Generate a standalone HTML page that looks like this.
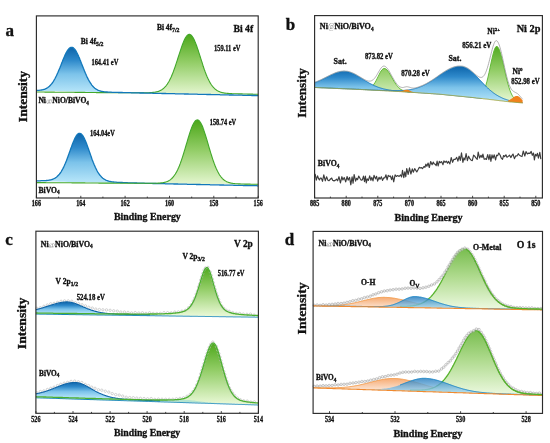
<!DOCTYPE html>
<html><head><meta charset="utf-8"><style>
html,body{margin:0;padding:0;background:#fff;width:550px;height:443px;overflow:hidden}
svg{display:block;will-change:transform}
text{font-family:"Liberation Serif", serif;font-weight:bold;fill:#111;stroke:#111;stroke-width:0.33px}
</style></head><body>
<svg width="550" height="443" viewBox="0 0 550 443">
<defs><linearGradient id="g1" gradientUnits="userSpaceOnUse" x1="0" y1="35" x2="0" y2="95"><stop offset="0" stop-color="#4ea81c"/><stop offset="0.45" stop-color="#92cd66"/><stop offset="1" stop-color="#e6f7d2"/></linearGradient>
<linearGradient id="g2" gradientUnits="userSpaceOnUse" x1="0" y1="47" x2="0" y2="92"><stop offset="0" stop-color="#0c63a9"/><stop offset="0.3" stop-color="#2f8acb"/><stop offset="0.6" stop-color="#7cc3ea"/><stop offset="1" stop-color="#b6e5f9"/></linearGradient>
<linearGradient id="g3" gradientUnits="userSpaceOnUse" x1="0" y1="121" x2="0" y2="185"><stop offset="0" stop-color="#4ea81c"/><stop offset="0.45" stop-color="#92cd66"/><stop offset="1" stop-color="#e6f7d2"/></linearGradient>
<linearGradient id="g4" gradientUnits="userSpaceOnUse" x1="0" y1="133" x2="0" y2="182"><stop offset="0" stop-color="#0c63a9"/><stop offset="0.3" stop-color="#2f8acb"/><stop offset="0.6" stop-color="#7cc3ea"/><stop offset="1" stop-color="#b6e5f9"/></linearGradient>
<linearGradient id="g5" gradientUnits="userSpaceOnUse" x1="0" y1="45" x2="0" y2="101"><stop offset="0" stop-color="#4ea81c"/><stop offset="0.45" stop-color="#92cd66"/><stop offset="1" stop-color="#e6f7d2"/></linearGradient>
<linearGradient id="g6" gradientUnits="userSpaceOnUse" x1="0" y1="68" x2="0" y2="100"><stop offset="0" stop-color="#0c63a9"/><stop offset="0.3" stop-color="#2f8acb"/><stop offset="0.6" stop-color="#7cc3ea"/><stop offset="1" stop-color="#b6e5f9"/></linearGradient>
<linearGradient id="g7" gradientUnits="userSpaceOnUse" x1="0" y1="66" x2="0" y2="102"><stop offset="0" stop-color="#0c63a9"/><stop offset="0.3" stop-color="#2f8acb"/><stop offset="0.6" stop-color="#7cc3ea"/><stop offset="1" stop-color="#b6e5f9"/></linearGradient>
<linearGradient id="g8" gradientUnits="userSpaceOnUse" x1="0" y1="267" x2="0" y2="315"><stop offset="0" stop-color="#4ea81c"/><stop offset="0.45" stop-color="#92cd66"/><stop offset="1" stop-color="#e6f7d2"/></linearGradient>
<linearGradient id="g9" gradientUnits="userSpaceOnUse" x1="0" y1="302" x2="0" y2="314"><stop offset="0" stop-color="#0c63a9"/><stop offset="0.3" stop-color="#2f8acb"/><stop offset="0.6" stop-color="#7cc3ea"/><stop offset="1" stop-color="#b6e5f9"/></linearGradient>
<linearGradient id="g10" gradientUnits="userSpaceOnUse" x1="0" y1="343" x2="0" y2="403"><stop offset="0" stop-color="#4ea81c"/><stop offset="0.45" stop-color="#92cd66"/><stop offset="1" stop-color="#e6f7d2"/></linearGradient>
<linearGradient id="g11" gradientUnits="userSpaceOnUse" x1="0" y1="382" x2="0" y2="398"><stop offset="0" stop-color="#0c63a9"/><stop offset="0.3" stop-color="#2f8acb"/><stop offset="0.6" stop-color="#7cc3ea"/><stop offset="1" stop-color="#b6e5f9"/></linearGradient>
<linearGradient id="g12" gradientUnits="userSpaceOnUse" x1="0" y1="297" x2="0" y2="307"><stop offset="0" stop-color="#f5a060"/><stop offset="1" stop-color="#fbdcc6"/></linearGradient>
<linearGradient id="g13" gradientUnits="userSpaceOnUse" x1="0" y1="249" x2="0" y2="309"><stop offset="0" stop-color="#6ab63c"/><stop offset="0.45" stop-color="#a5d680"/><stop offset="1" stop-color="#eaf8dc"/></linearGradient>
<linearGradient id="g14" gradientUnits="userSpaceOnUse" x1="0" y1="296" x2="0" y2="308"><stop offset="0" stop-color="#1570b8"/><stop offset="1" stop-color="#a0d4f0"/></linearGradient>
<linearGradient id="g15" gradientUnits="userSpaceOnUse" x1="0" y1="378" x2="0" y2="389"><stop offset="0" stop-color="#f5a060"/><stop offset="1" stop-color="#fbdcc6"/></linearGradient>
<linearGradient id="g16" gradientUnits="userSpaceOnUse" x1="0" y1="330" x2="0" y2="395"><stop offset="0" stop-color="#6ab63c"/><stop offset="0.45" stop-color="#a5d680"/><stop offset="1" stop-color="#eaf8dc"/></linearGradient>
<linearGradient id="g17" gradientUnits="userSpaceOnUse" x1="0" y1="377" x2="0" y2="392"><stop offset="0" stop-color="#1570b8"/><stop offset="1" stop-color="#a0d4f0"/></linearGradient></defs>
<path d="M46.4 92.1 L47.4 92.1 L48.4 92.1 L49.4 92.1 L50.4 92.1 L51.4 92.1 L52.4 92.1 L53.4 92.1 L54.4 92.1 L55.4 92.2 L56.4 92.2 L57.4 92.2 L58.4 92.2 L59.4 92.2 L60.4 92.2 L61.4 92.2 L62.4 92.2 L63.4 92.2 L64.4 92.2 L65.4 92.3 L66.4 92.3 L67.4 92.3 L68.4 92.3 L69.4 92.3 L70.4 92.3 L71.4 92.3 L72.4 92.3 L73.4 92.3 L74.4 92.3 L75.4 92.4 L76.4 92.4 L77.4 92.4 L78.4 92.4 L79.4 92.4 L80.4 92.4 L81.4 92.4 L82.4 92.4 L83.4 92.4 L84.4 92.4 L85.4 92.5 L86.4 92.5 L87.4 92.5 L88.4 92.5 L89.4 92.5 L90.4 92.5 L91.4 92.5 L92.3 92.5 L93.3 92.5 L94.3 92.5 L95.3 92.5 L96.3 92.6 L97.3 92.6 L98.3 92.6 L99.3 92.6 L100.3 92.6 L101.3 92.6 L102.3 92.6 L103.3 92.6 L104.3 92.6 L105.3 92.6 L106.3 92.6 L107.3 92.6 L108.3 92.7 L109.3 92.7 L110.3 92.7 L111.3 92.7 L112.3 92.7 L113.3 92.7 L114.3 92.7 L115.3 92.7 L116.3 92.7 L117.3 92.7 L118.3 92.7 L119.3 92.7 L120.3 92.7 L121.3 92.7 L122.3 92.8 L123.3 92.8 L124.3 92.8 L125.3 92.8 L126.3 92.8 L127.3 92.8 L128.3 92.8 L129.3 92.8 L130.3 92.8 L131.3 92.8 L132.3 92.8 L133.3 92.8 L134.3 92.8 L135.3 92.8 L136.3 92.8 L137.3 92.8 L138.3 92.8 L139.3 92.8 L140.3 92.8 L141.3 92.8 L142.3 92.8 L143.3 92.8 L144.3 92.8 L145.3 92.8 L146.3 92.7 L147.3 92.7 L148.3 92.7 L149.3 92.7 L150.3 92.6 L151.3 92.5 L152.3 92.5 L153.3 92.4 L154.3 92.2 L155.3 92.1 L156.3 91.9 L157.3 91.7 L158.3 91.4 L159.3 91 L160.3 90.6 L161.3 90 L162.3 89.4 L163.3 88.6 L164.3 87.7 L165.3 86.7 L166.3 85.5 L167.3 84.1 L168.3 82.5 L169.3 80.8 L170.3 78.8 L171.3 76.7 L172.3 74.3 L173.3 71.8 L174.3 69 L175.3 66.2 L176.3 63.2 L177.3 60.1 L178.3 57 L179.3 53.9 L180.3 50.8 L181.3 47.8 L182.3 45 L183.3 42.4 L184.3 40.1 L185.3 38.1 L186.3 36.5 L187.3 35.3 L188.3 34.6 L189.3 34.4 L190.3 34.6 L191.3 35.3 L192.3 36.5 L193.3 38.1 L194.3 40 L195.3 42.3 L196.3 44.9 L197.3 47.8 L198.3 50.7 L199.3 53.8 L200.3 57 L201.3 60.1 L202.3 63.2 L203.2 66.3 L204.2 69.2 L205.2 71.9 L206.2 74.5 L207.2 76.9 L208.2 79.1 L209.2 81.1 L210.2 82.9 L211.2 84.5 L212.2 85.9 L213.2 87.1 L214.2 88.2 L215.2 89.1 L216.2 89.9 L217.2 90.6 L218.2 91.1 L219.2 91.6 L220.2 92 L221.2 92.3 L222.2 92.6 L223.2 92.8 L224.2 93 L225.2 93.1 L226.2 93.3 L227.2 93.4 L228.2 93.4 L229.2 93.5 L230.2 93.6 L231.2 93.6 L232.2 93.7 L233.2 93.7 L234.2 93.7 L235.2 93.8 L236.2 93.8 L237.2 93.8 L238.2 93.9 L239.2 93.9 L240.2 93.9 L241.2 93.9 L242.2 93.9 L243.2 94 L244.2 94 L245.2 94 L246.2 94 L247.2 94 L248.2 94.1 L249.2 94.1 L250.2 94.1 L251.2 94.1 L252.2 94.1 L253.2 94.2 L254.2 94.2 L255.2 94.2 L256.2 94.2 L257.2 94.2 L258.2 94.2 L258.2 94.4 L254.2 94.4 L250.2 94.3 L246.2 94.3 L242.2 94.2 L238.2 94.2 L234.2 94.1 L230.2 94.1 L226.2 94.1 L222.2 94 L218.2 94 L214.2 93.9 L210.2 93.9 L206.2 93.8 L202.3 93.8 L198.3 93.8 L194.3 93.7 L190.3 93.7 L186.3 93.6 L182.3 93.6 L178.3 93.5 L174.3 93.5 L170.3 93.4 L166.3 93.4 L162.3 93.4 L158.3 93.3 L154.3 93.3 L150.3 93.2 L146.3 93.2 L142.3 93.1 L138.3 93.1 L134.3 93.1 L130.3 93 L126.3 93 L122.3 92.9 L118.3 92.9 L114.3 92.8 L110.3 92.8 L106.3 92.8 L102.3 92.7 L98.3 92.7 L94.3 92.6 L90.4 92.6 L86.4 92.5 L82.4 92.5 L78.4 92.5 L74.4 92.4 L70.4 92.4 L66.4 92.3 L62.4 92.3 L58.4 92.2 L54.4 92.2 L50.4 92.2 L46.4 92.1Z" fill="url(#g1)" fill-opacity="1" stroke="none"/>
<path d="M36.4 90.5 L37.4 90.4 L38.4 90.4 L39.4 90.3 L40.4 90.2 L41.4 90 L42.4 89.8 L43.4 89.6 L44.4 89.3 L45.4 88.9 L46.4 88.4 L47.4 87.8 L48.4 87.1 L49.4 86.3 L50.4 85.3 L51.4 84.1 L52.4 82.8 L53.4 81.3 L54.4 79.7 L55.4 77.8 L56.4 75.8 L57.4 73.6 L58.4 71.3 L59.4 68.9 L60.4 66.4 L61.4 63.9 L62.4 61.4 L63.4 58.9 L64.4 56.6 L65.4 54.4 L66.4 52.4 L67.4 50.7 L68.4 49.3 L69.4 48.2 L70.4 47.6 L71.4 47.3 L72.4 47.4 L73.4 47.9 L74.4 48.9 L75.4 50.2 L76.4 51.8 L77.4 53.7 L78.4 55.8 L79.4 58.1 L80.4 60.6 L81.4 63.2 L82.4 65.7 L83.4 68.3 L84.4 70.8 L85.4 73.2 L86.4 75.5 L87.4 77.6 L88.4 79.6 L89.4 81.4 L90.4 83 L91.4 84.4 L92.3 85.7 L93.3 86.8 L94.3 87.7 L95.3 88.5 L96.3 89.2 L97.3 89.8 L98.3 90.3 L99.3 90.7 L100.3 91 L101.3 91.3 L102.3 91.5 L103.3 91.6 L104.3 91.8 L105.3 91.9 L106.3 92 L107.3 92 L108.3 92.1 L109.3 92.2 L110.3 92.2 L111.3 92.2 L112.3 92.3 L113.3 92.3 L114.3 92.3 L115.3 92.4 L116.3 92.4 L117.3 92.4 L118.3 92.5 L119.3 92.5 L120.3 92.5 L121.3 92.5 L122.3 92.5 L123.3 92.6 L124.3 92.6 L125.3 92.6 L126.3 92.6 L127.3 92.7 L127.3 92.7 L123.4 92.6 L119.4 92.5 L115.5 92.4 L111.5 92.4 L107.6 92.3 L103.6 92.2 L99.6 92.1 L95.7 92 L91.7 91.9 L87.8 91.8 L83.8 91.7 L79.9 91.7 L75.9 91.6 L72 91.5 L68 91.4 L64.1 91.3 L60.1 91.2 L56.2 91.1 L52.2 91 L48.3 91 L44.3 90.9 L40.4 90.8 L36.4 90.7Z" fill="url(#g2)" fill-opacity="1" stroke="none"/>
<path d="M36.4 92 L36.9 92 L37.4 92 L37.9 92 L38.4 92 L38.9 92 L39.4 92 L39.9 92 L40.4 92 L40.9 92 L41.4 92 L41.9 92 L42.4 92 L42.9 92 L43.4 92 L43.9 92 L44.4 92 L44.9 92.1 L45.4 92.1 L45.9 92.1 L46.4 92.1 L46.9 92.1 L47.4 92.1 L47.9 92.1 L48.4 92.1 L48.9 92.1 L49.4 92.1 L49.9 92.1 L50.4 92.1 L50.9 92.1 L51.4 92.1 L51.9 92.1 L52.4 92.1 L52.9 92.1 L53.4 92.1 L53.9 92.1 L54.4 92.1 L54.9 92.2 L55.4 92.2 L55.9 92.2 L56.4 92.2 L56.9 92.2 L57.4 92.2 L57.9 92.2 L58.4 92.2 L58.9 92.2 L59.4 92.2 L59.9 92.2 L60.4 92.2 L60.9 92.2 L61.4 92.2 L61.9 92.2 L62.4 92.2 L62.9 92.2 L63.4 92.2 L63.9 92.2 L64.4 92.2 L64.9 92.3 L65.4 92.3 L65.9 92.3 L66.4 92.3 L66.9 92.3 L67.4 92.3 L67.9 92.3 L68.4 92.3 L68.9 92.3 L69.4 92.3 L69.9 92.3 L70.4 92.3 L70.9 92.3 L71.4 92.3 L71.9 92.3 L72.4 92.3 L72.9 92.3 L73.4 92.3 L73.9 92.3 L74.4 92.3 L74.9 92.4 L75.4 92.4 L75.9 92.4 L76.4 92.4 L76.9 92.4 L77.4 92.4 L77.9 92.4 L78.4 92.4 L78.9 92.4 L79.4 92.4 L79.9 92.4 L80.4 92.4 L80.9 92.4 L81.4 92.4 L81.9 92.4 L82.4 92.4 L82.9 92.4 L83.4 92.4 L83.9 92.4 L84.4 92.4 L84.9 92.4 L85.4 92.5 L85.9 92.5 L86.4 92.5 L86.9 92.5 L87.4 92.5 L87.9 92.5 L88.4 92.5 L88.9 92.5 L89.4 92.5 L89.9 92.5 L90.4 92.5 L90.9 92.5 L91.4 92.5 L91.8 92.5 L92.3 92.5 L92.8 92.5 L93.3 92.5 L93.8 92.5 L94.3 92.5 L94.8 92.5 L95.3 92.5 L95.8 92.5 L96.3 92.6 L96.8 92.6 L97.3 92.6 L97.8 92.6 L98.3 92.6 L98.8 92.6 L99.3 92.6 L99.8 92.6 L100.3 92.6 L100.8 92.6 L101.3 92.6 L101.8 92.6 L102.3 92.6 L102.8 92.6 L103.3 92.6 L103.8 92.6 L104.3 92.6 L104.8 92.6 L105.3 92.6 L105.8 92.6 L106.3 92.6 L106.8 92.6 L107.3 92.6 L107.8 92.7 L108.3 92.7 L108.8 92.7 L109.3 92.7 L109.8 92.7 L110.3 92.7 L110.8 92.7 L111.3 92.7 L111.8 92.7 L112.3 92.7 L112.8 92.7 L113.3 92.7 L113.8 92.7 L114.3 92.7 L114.8 92.7 L115.3 92.7 L115.8 92.7 L116.3 92.7 L116.8 92.7 L117.3 92.7 L117.8 92.7 L118.3 92.7 L118.8 92.7 L119.3 92.7 L119.8 92.7 L120.3 92.7 L120.8 92.7 L121.3 92.7 L121.8 92.7 L122.3 92.8 L122.8 92.8 L123.3 92.8 L123.8 92.8 L124.3 92.8 L124.8 92.8 L125.3 92.8 L125.8 92.8 L126.3 92.8 L126.8 92.8 L127.3 92.8 L127.8 92.8 L128.3 92.8 L128.8 92.8 L129.3 92.8 L129.8 92.8 L130.3 92.8 L130.8 92.8 L131.3 92.8 L131.8 92.8 L132.3 92.8 L132.8 92.8 L133.3 92.8 L133.8 92.8 L134.3 92.8 L134.8 92.8 L135.3 92.8 L135.8 92.8 L136.3 92.8 L136.8 92.8 L137.3 92.8 L137.8 92.8 L138.3 92.8 L138.8 92.8 L139.3 92.8 L139.8 92.8 L140.3 92.8 L140.8 92.8 L141.3 92.8 L141.8 92.8 L142.3 92.8 L142.8 92.8 L143.3 92.8 L143.8 92.8 L144.3 92.8 L144.8 92.8 L145.3 92.8 L145.8 92.7 L146.3 92.7 L146.8 92.7 L147.3 92.7 L147.8 92.7 L148.3 92.7 L148.8 92.7 L149.3 92.7 L149.8 92.6 L150.3 92.6 L150.8 92.6 L151.3 92.5 L151.8 92.5 L152.3 92.5 L152.8 92.4 L153.3 92.4 L153.8 92.3 L154.3 92.2 L154.8 92.2 L155.3 92.1 L155.8 92 L156.3 91.9 L156.8 91.8 L157.3 91.7 L157.8 91.5 L158.3 91.4 L158.8 91.2 L159.3 91 L159.8 90.8 L160.3 90.6 L160.8 90.3 L161.3 90 L161.8 89.7 L162.3 89.4 L162.8 89 L163.3 88.6 L163.8 88.2 L164.3 87.7 L164.8 87.2 L165.3 86.7 L165.8 86.1 L166.3 85.5 L166.8 84.8 L167.3 84.1 L167.8 83.3 L168.3 82.5 L168.8 81.7 L169.3 80.8 L169.8 79.8 L170.3 78.8 L170.8 77.8 L171.3 76.7 L171.8 75.5 L172.3 74.3 L172.8 73.1 L173.3 71.8 L173.8 70.4 L174.3 69 L174.8 67.6 L175.3 66.2 L175.8 64.7 L176.3 63.2 L176.8 61.7 L177.3 60.1 L177.8 58.5 L178.3 57 L178.8 55.4 L179.3 53.9 L179.8 52.3 L180.3 50.8 L180.8 49.3 L181.3 47.8 L181.8 46.4 L182.3 45 L182.8 43.7 L183.3 42.4 L183.8 41.2 L184.3 40.1 L184.8 39.1 L185.3 38.1 L185.8 37.3 L186.3 36.5 L186.8 35.9 L187.3 35.3 L187.8 34.9 L188.3 34.6 L188.8 34.4 L189.3 34.4 L189.8 34.4 L190.3 34.6 L190.8 34.9 L191.3 35.3 L191.8 35.8 L192.3 36.5 L192.8 37.2 L193.3 38.1 L193.8 39 L194.3 40 L194.8 41.2 L195.3 42.3 L195.8 43.6 L196.3 44.9 L196.8 46.3 L197.3 47.8 L197.8 49.2 L198.3 50.7 L198.8 52.3 L199.3 53.8 L199.8 55.4 L200.3 57 L200.8 58.6 L201.3 60.1 L201.8 61.7 L202.3 63.2 L202.8 64.8 L203.2 66.3 L203.7 67.7 L204.2 69.2 L204.7 70.5 L205.2 71.9 L205.7 73.2 L206.2 74.5 L206.7 75.7 L207.2 76.9 L207.7 78 L208.2 79.1 L208.7 80.1 L209.2 81.1 L209.7 82 L210.2 82.9 L210.7 83.7 L211.2 84.5 L211.7 85.2 L212.2 85.9 L212.7 86.5 L213.2 87.1 L213.7 87.7 L214.2 88.2 L214.7 88.7 L215.2 89.1 L215.7 89.5 L216.2 89.9 L216.7 90.3 L217.2 90.6 L217.7 90.9 L218.2 91.1 L218.7 91.4 L219.2 91.6 L219.7 91.8 L220.2 92 L220.7 92.2 L221.2 92.3 L221.7 92.5 L222.2 92.6 L222.7 92.7 L223.2 92.8 L223.7 92.9 L224.2 93 L224.7 93.1 L225.2 93.1 L225.7 93.2 L226.2 93.3 L226.7 93.3 L227.2 93.4 L227.7 93.4 L228.2 93.4 L228.7 93.5 L229.2 93.5 L229.7 93.5 L230.2 93.6 L230.7 93.6 L231.2 93.6 L231.7 93.6 L232.2 93.7 L232.7 93.7 L233.2 93.7 L233.7 93.7 L234.2 93.7 L234.7 93.8 L235.2 93.8 L235.7 93.8 L236.2 93.8 L236.7 93.8 L237.2 93.8 L237.7 93.8 L238.2 93.9 L238.7 93.9 L239.2 93.9 L239.7 93.9 L240.2 93.9 L240.7 93.9 L241.2 93.9 L241.7 93.9 L242.2 93.9 L242.7 94 L243.2 94 L243.7 94 L244.2 94 L244.7 94 L245.2 94 L245.7 94 L246.2 94 L246.7 94 L247.2 94 L247.7 94.1 L248.2 94.1 L248.7 94.1 L249.2 94.1 L249.7 94.1 L250.2 94.1 L250.7 94.1 L251.2 94.1 L251.7 94.1 L252.2 94.1 L252.7 94.1 L253.2 94.2 L253.7 94.2 L254.2 94.2 L254.7 94.2 L255.2 94.2 L255.7 94.2 L256.2 94.2 L256.7 94.2 L257.2 94.2 L257.7 94.2 L258.2 94.2" fill="none" stroke="#42a82a" stroke-width="1.1" stroke-linejoin="round" />
<path d="M36.4 90.5 L36.9 90.4 L37.4 90.4 L37.9 90.4 L38.4 90.4 L38.9 90.3 L39.4 90.3 L39.9 90.2 L40.4 90.2 L40.9 90.1 L41.4 90 L41.9 89.9 L42.4 89.8 L42.9 89.7 L43.4 89.6 L43.9 89.4 L44.4 89.3 L44.9 89.1 L45.4 88.9 L45.9 88.6 L46.4 88.4 L46.9 88.1 L47.4 87.8 L47.9 87.5 L48.4 87.1 L48.9 86.7 L49.4 86.3 L49.9 85.8 L50.4 85.3 L50.9 84.7 L51.4 84.1 L51.9 83.5 L52.4 82.8 L52.9 82.1 L53.4 81.3 L53.9 80.5 L54.4 79.7 L54.9 78.8 L55.4 77.8 L55.9 76.8 L56.4 75.8 L56.9 74.7 L57.4 73.6 L57.9 72.5 L58.4 71.3 L58.9 70.1 L59.4 68.9 L59.9 67.7 L60.4 66.4 L60.9 65.2 L61.4 63.9 L61.9 62.6 L62.4 61.4 L62.9 60.1 L63.4 58.9 L63.9 57.7 L64.4 56.6 L64.9 55.4 L65.4 54.4 L65.9 53.4 L66.4 52.4 L66.9 51.5 L67.4 50.7 L67.9 49.9 L68.4 49.3 L68.9 48.7 L69.4 48.2 L69.9 47.8 L70.4 47.6 L70.9 47.4 L71.4 47.3 L71.9 47.3 L72.4 47.4 L72.9 47.6 L73.4 47.9 L73.9 48.4 L74.4 48.9 L74.9 49.5 L75.4 50.2 L75.9 50.9 L76.4 51.8 L76.9 52.7 L77.4 53.7 L77.9 54.7 L78.4 55.8 L78.9 57 L79.4 58.1 L79.9 59.4 L80.4 60.6 L80.9 61.9 L81.4 63.2 L81.9 64.4 L82.4 65.7 L82.9 67 L83.4 68.3 L83.9 69.5 L84.4 70.8 L84.9 72 L85.4 73.2 L85.9 74.3 L86.4 75.5 L86.9 76.6 L87.4 77.6 L87.9 78.6 L88.4 79.6 L88.9 80.5 L89.4 81.4 L89.9 82.2 L90.4 83 L90.9 83.7 L91.4 84.4 L91.8 85.1 L92.3 85.7 L92.8 86.3 L93.3 86.8 L93.8 87.3 L94.3 87.7 L94.8 88.2 L95.3 88.5 L95.8 88.9 L96.3 89.2 L96.8 89.5 L97.3 89.8 L97.8 90.1 L98.3 90.3 L98.8 90.5 L99.3 90.7 L99.8 90.8 L100.3 91 L100.8 91.1 L101.3 91.3 L101.8 91.4 L102.3 91.5 L102.8 91.6 L103.3 91.6 L103.8 91.7 L104.3 91.8 L104.8 91.8 L105.3 91.9 L105.8 91.9 L106.3 92 L106.8 92 L107.3 92 L107.8 92.1 L108.3 92.1 L108.8 92.1 L109.3 92.2 L109.8 92.2 L110.3 92.2 L110.8 92.2 L111.3 92.2 L111.8 92.3 L112.3 92.3 L112.8 92.3 L113.3 92.3 L113.8 92.3 L114.3 92.3 L114.8 92.4 L115.3 92.4 L115.8 92.4 L116.3 92.4 L116.8 92.4 L117.3 92.4 L117.8 92.4 L118.3 92.5 L118.8 92.5 L119.3 92.5 L119.8 92.5 L120.3 92.5 L120.8 92.5 L121.3 92.5 L121.8 92.5 L122.3 92.5 L122.8 92.6 L123.3 92.6 L123.8 92.6 L124.3 92.6 L124.8 92.6 L125.3 92.6 L125.8 92.6 L126.3 92.6 L126.8 92.7 L127.3 92.7 L127.8 92.7 L128.3 92.7 L128.8 92.7 L129.3 92.7 L129.8 92.7 L130.3 92.7 L130.8 92.7 L131.3 92.8 L131.8 92.8 L132.3 92.8 L132.8 92.8 L133.3 92.8 L133.8 92.8 L134.3 92.8 L134.8 92.8 L135.3 92.9 L135.8 92.9 L136.3 92.9 L136.8 92.9 L137.3 92.9 L137.8 92.9 L138.3 92.9 L138.8 92.9 L139.3 92.9 L139.8 93 L140.3 93 L140.8 93 L141.3 93 L141.8 93 L142.3 93 L142.8 93 L143.3 93 L143.8 93 L144.3 93.1 L144.8 93.1 L145.3 93.1 L145.8 93.1 L146.3 93.1 L146.8 93.1 L147.3 93.1 L147.8 93.1 L148.3 93.1 L148.8 93.2 L149.3 93.2 L149.8 93.2 L150.3 93.2 L150.8 93.2 L151.3 93.2 L151.8 93.2 L152.3 93.2 L152.8 93.3 L153.3 93.3 L153.8 93.3 L154.3 93.3 L154.8 93.3 L155.3 93.3 L155.8 93.3 L156.3 93.3 L156.8 93.3 L157.3 93.4 L157.8 93.4 L158.3 93.4 L158.8 93.4 L159.3 93.4 L159.8 93.4 L160.3 93.4 L160.8 93.4 L161.3 93.4 L161.8 93.5 L162.3 93.5 L162.8 93.5 L163.3 93.5 L163.8 93.5 L164.3 93.5 L164.8 93.5 L165.3 93.5 L165.8 93.5 L166.3 93.6 L166.8 93.6 L167.3 93.6 L167.8 93.6 L168.3 93.6 L168.8 93.6 L169.3 93.6 L169.8 93.6 L170.3 93.6 L170.8 93.7 L171.3 93.7 L171.8 93.7 L172.3 93.7 L172.8 93.7 L173.3 93.7 L173.8 93.7 L174.3 93.7 L174.8 93.7 L175.3 93.8 L175.8 93.8 L176.3 93.8 L176.8 93.8 L177.3 93.8 L177.8 93.8 L178.3 93.8 L178.8 93.8 L179.3 93.8 L179.8 93.9 L180.3 93.9 L180.8 93.9 L181.3 93.9 L181.8 93.9 L182.3 93.9 L182.8 93.9 L183.3 93.9 L183.8 93.9 L184.3 94 L184.8 94 L185.3 94 L185.8 94 L186.3 94 L186.8 94 L187.3 94 L187.8 94 L188.3 94 L188.8 94.1 L189.3 94.1 L189.8 94.1 L190.3 94.1 L190.8 94.1 L191.3 94.1 L191.8 94.1 L192.3 94.1 L192.8 94.1 L193.3 94.2 L193.8 94.2 L194.3 94.2 L194.8 94.2 L195.3 94.2 L195.8 94.2 L196.3 94.2 L196.8 94.2 L197.3 94.2 L197.8 94.3 L198.3 94.3 L198.8 94.3 L199.3 94.3 L199.8 94.3 L200.3 94.3 L200.8 94.3 L201.3 94.3 L201.8 94.3 L202.3 94.4 L202.8 94.4 L203.2 94.4 L203.7 94.4 L204.2 94.4 L204.7 94.4 L205.2 94.4 L205.7 94.4 L206.2 94.4 L206.7 94.5 L207.2 94.5 L207.7 94.5 L208.2 94.5 L208.7 94.5 L209.2 94.5 L209.7 94.5 L210.2 94.5 L210.7 94.5 L211.2 94.6 L211.7 94.6 L212.2 94.6 L212.7 94.6 L213.2 94.6 L213.7 94.6 L214.2 94.6 L214.7 94.6 L215.2 94.6 L215.7 94.7 L216.2 94.7 L216.7 94.7 L217.2 94.7 L217.7 94.7 L218.2 94.7 L218.7 94.7 L219.2 94.7 L219.7 94.7 L220.2 94.8 L220.7 94.8 L221.2 94.8 L221.7 94.8 L222.2 94.8 L222.7 94.8 L223.2 94.8 L223.7 94.8 L224.2 94.8 L224.7 94.9 L225.2 94.9 L225.7 94.9 L226.2 94.9 L226.7 94.9 L227.2 94.9 L227.7 94.9 L228.2 94.9 L228.7 94.9 L229.2 95 L229.7 95 L230.2 95 L230.7 95 L231.2 95 L231.7 95 L232.2 95 L232.7 95 L233.2 95 L233.7 95.1 L234.2 95.1 L234.7 95.1 L235.2 95.1 L235.7 95.1 L236.2 95.1 L236.7 95.1 L237.2 95.1 L237.7 95.1 L238.2 95.2 L238.7 95.2 L239.2 95.2 L239.7 95.2 L240.2 95.2 L240.7 95.2 L241.2 95.2 L241.7 95.2 L242.2 95.2 L242.7 95.3 L243.2 95.3 L243.7 95.3 L244.2 95.3 L244.7 95.3 L245.2 95.3 L245.7 95.3 L246.2 95.3 L246.7 95.3 L247.2 95.4 L247.7 95.4 L248.2 95.4 L248.7 95.4 L249.2 95.4 L249.7 95.4 L250.2 95.4 L250.7 95.4 L251.2 95.4 L251.7 95.5 L252.2 95.5 L252.7 95.5 L253.2 95.5 L253.7 95.5 L254.2 95.5 L254.7 95.5 L255.2 95.5 L255.7 95.5 L256.2 95.6 L256.7 95.6 L257.2 95.6 L257.7 95.6 L258.2 95.6" fill="none" stroke="#1278bb" stroke-width="1.3" stroke-linejoin="round" />
<path d="M80.4 182.9 L81.4 182.9 L82.4 182.9 L83.4 182.9 L84.4 182.9 L85.4 183 L86.4 183 L87.4 183 L88.4 183 L89.4 183 L90.4 183 L91.4 183 L92.3 183 L93.3 183 L94.3 183 L95.3 183 L96.3 183 L97.3 183 L98.3 183 L99.3 183.1 L100.3 183.1 L101.3 183.1 L102.3 183.1 L103.3 183.1 L104.3 183.1 L105.3 183.1 L106.3 183.1 L107.3 183.1 L108.3 183.1 L109.3 183.1 L110.3 183.1 L111.3 183.1 L112.3 183.1 L113.3 183.1 L114.3 183.2 L115.3 183.2 L116.3 183.2 L117.3 183.2 L118.3 183.2 L119.3 183.2 L120.3 183.2 L121.3 183.2 L122.3 183.2 L123.3 183.2 L124.3 183.2 L125.3 183.2 L126.3 183.2 L127.3 183.2 L128.3 183.2 L129.3 183.2 L130.3 183.2 L131.3 183.2 L132.3 183.3 L133.3 183.3 L134.3 183.3 L135.3 183.3 L136.3 183.3 L137.3 183.3 L138.3 183.3 L139.3 183.3 L140.3 183.3 L141.3 183.3 L142.3 183.3 L143.3 183.3 L144.3 183.3 L145.3 183.3 L146.3 183.3 L147.3 183.3 L148.3 183.3 L149.3 183.3 L150.3 183.3 L151.3 183.3 L152.3 183.3 L153.3 183.3 L154.3 183.2 L155.3 183.2 L156.3 183.2 L157.3 183.2 L158.3 183.1 L159.3 183.1 L160.3 183 L161.3 182.9 L162.3 182.8 L163.3 182.6 L164.3 182.4 L165.3 182.2 L166.3 181.8 L167.3 181.5 L168.3 181 L169.3 180.4 L170.3 179.7 L171.3 178.9 L172.3 178 L173.3 176.8 L174.3 175.5 L175.3 174.1 L176.3 172.4 L177.3 170.4 L178.3 168.3 L179.3 166 L180.3 163.4 L181.3 160.6 L182.3 157.6 L183.3 154.5 L184.3 151.2 L185.3 147.9 L186.3 144.5 L187.3 141.1 L188.3 137.7 L189.3 134.5 L190.3 131.4 L191.3 128.6 L192.3 126.1 L193.3 124 L194.3 122.2 L195.3 121 L196.3 120.2 L197.3 119.9 L198.3 120.1 L199.3 120.9 L200.3 122.2 L201.3 123.9 L202.3 126 L203.2 128.5 L204.2 131.3 L205.2 134.3 L206.2 137.6 L207.2 140.9 L208.2 144.3 L209.2 147.8 L210.2 151.2 L211.2 154.4 L212.2 157.6 L213.2 160.6 L214.2 163.4 L215.2 166 L216.2 168.4 L217.2 170.6 L218.2 172.5 L219.2 174.3 L220.2 175.8 L221.2 177.1 L222.2 178.3 L223.2 179.3 L224.2 180.1 L225.2 180.8 L226.2 181.4 L227.2 181.9 L228.2 182.3 L229.2 182.6 L230.2 182.9 L231.2 183.1 L232.2 183.3 L233.2 183.5 L234.2 183.6 L235.2 183.7 L236.2 183.7 L237.2 183.8 L238.2 183.9 L239.2 183.9 L240.2 183.9 L241.2 184 L242.2 184 L243.2 184 L244.2 184 L245.2 184.1 L246.2 184.1 L247.2 184.1 L248.2 184.1 L249.2 184.1 L250.2 184.1 L251.2 184.2 L252.2 184.2 L253.2 184.2 L254.2 184.2 L255.2 184.2 L256.2 184.2 L257.2 184.2 L258.2 184.3 L258.2 184.4 L254.2 184.4 L250.1 184.3 L246.1 184.3 L242 184.3 L238 184.2 L233.9 184.2 L229.9 184.2 L225.9 184.1 L221.8 184.1 L217.8 184.1 L213.7 184 L209.7 184 L205.7 184 L201.6 183.9 L197.6 183.9 L193.5 183.9 L189.5 183.8 L185.4 183.8 L181.4 183.8 L177.4 183.7 L173.3 183.7 L169.3 183.7 L165.2 183.6 L161.2 183.6 L157.2 183.6 L153.1 183.5 L149.1 183.5 L145 183.5 L141 183.4 L136.9 183.4 L132.9 183.4 L128.9 183.4 L124.8 183.3 L120.8 183.3 L116.7 183.3 L112.7 183.2 L108.7 183.2 L104.6 183.2 L100.6 183.1 L96.5 183.1 L92.5 183.1 L88.4 183 L84.4 183 L80.4 183Z" fill="url(#g3)" fill-opacity="1" stroke="none"/>
<path d="M36.4 180.8 L37.4 180.8 L38.4 180.8 L39.4 180.8 L40.4 180.8 L41.4 180.7 L42.4 180.7 L43.4 180.7 L44.4 180.6 L45.4 180.6 L46.4 180.5 L47.4 180.4 L48.4 180.3 L49.4 180.1 L50.4 179.9 L51.4 179.7 L52.4 179.4 L53.4 179 L54.4 178.5 L55.4 177.9 L56.4 177.2 L57.4 176.3 L58.4 175.3 L59.4 174.2 L60.4 172.8 L61.4 171.3 L62.4 169.5 L63.4 167.6 L64.4 165.5 L65.4 163.2 L66.4 160.7 L67.4 158.1 L68.4 155.3 L69.4 152.5 L70.4 149.7 L71.4 147 L72.4 144.3 L73.4 141.7 L74.4 139.4 L75.4 137.4 L76.4 135.7 L77.4 134.5 L78.4 133.6 L79.4 133.3 L80.4 133.5 L81.4 134.1 L82.4 135.2 L83.4 136.7 L84.4 138.6 L85.4 140.8 L86.4 143.3 L87.4 146 L88.4 148.8 L89.4 151.6 L90.4 154.5 L91.4 157.3 L92.3 160 L93.3 162.6 L94.3 165 L95.3 167.3 L96.3 169.3 L97.3 171.2 L98.3 172.9 L99.3 174.3 L100.3 175.6 L101.3 176.8 L102.3 177.7 L103.3 178.5 L104.3 179.2 L105.3 179.8 L106.3 180.3 L107.3 180.7 L108.3 181 L109.3 181.3 L110.3 181.5 L111.3 181.7 L112.3 181.8 L113.3 182 L114.3 182.1 L115.3 182.2 L116.3 182.2 L117.3 182.3 L118.3 182.4 L119.3 182.4 L120.3 182.5 L121.3 182.5 L122.3 182.5 L123.3 182.6 L124.3 182.6 L125.3 182.7 L126.3 182.7 L127.3 182.7 L128.3 182.8 L129.3 182.8 L130.3 182.8 L131.3 182.9 L132.3 182.9 L133.3 182.9 L134.3 183 L135.3 183 L136.3 183 L137.3 183.1 L138.3 183.1 L139.3 183.1 L140.3 183.1 L141.3 183.2 L142.3 183.2 L143.3 183.2 L144.3 183.2 L145.3 183.3 L146.3 183.3 L147.3 183.3 L148.3 183.3 L149.3 183.4 L150.3 183.4 L151.3 183.4 L152.3 183.4 L153.3 183.5 L154.3 183.5 L155.3 183.5 L156.3 183.5 L157.3 183.6 L158.3 183.6 L159.3 183.6 L160.3 183.6 L161.3 183.7 L162.3 183.7 L163.3 183.7 L164.3 183.7 L165.3 183.8 L166.3 183.8 L167.3 183.8 L168.3 183.8 L169.3 183.9 L170.3 183.9 L171.3 183.9 L172.3 183.9 L173.3 183.9 L174.3 184 L175.3 184 L176.3 184 L177.3 184 L178.3 184.1 L179.3 184.1 L180.3 184.1 L181.3 184.1 L182.3 184.1 L183.3 184.2 L184.3 184.2 L185.3 184.2 L186.3 184.2 L187.3 184.3 L188.3 184.3 L189.3 184.3 L190.3 184.3 L191.3 184.3 L192.3 184.4 L193.3 184.4 L194.3 184.4 L195.3 184.4 L196.3 184.5 L197.3 184.5 L198.3 184.5 L199.3 184.5 L200.3 184.5 L201.3 184.6 L202.3 184.6 L203.2 184.6 L204.2 184.6 L205.2 184.6 L206.2 184.7 L207.2 184.7 L208.2 184.7 L209.2 184.7 L210.2 184.8 L211.2 184.8 L212.2 184.8 L213.2 184.8 L214.2 184.8 L215.2 184.9 L216.2 184.9 L217.2 184.9 L218.2 184.9 L219.2 184.9 L220.2 185 L221.2 185 L222.2 185 L223.2 185 L224.2 185.1 L224.2 185.1 L220.2 185 L216.2 184.9 L212.2 184.8 L208.2 184.8 L204.2 184.7 L200.3 184.6 L196.3 184.5 L192.3 184.4 L188.3 184.3 L184.3 184.3 L180.3 184.2 L176.3 184.1 L172.3 184 L168.3 183.9 L164.3 183.9 L160.3 183.8 L156.3 183.7 L152.3 183.6 L148.3 183.5 L144.3 183.4 L140.3 183.4 L136.3 183.3 L132.3 183.2 L128.3 183.1 L124.3 183 L120.3 182.9 L116.3 182.9 L112.3 182.8 L108.3 182.7 L104.3 182.6 L100.3 182.5 L96.3 182.4 L92.3 182.4 L88.4 182.3 L84.4 182.2 L80.4 182.1 L76.4 182 L72.4 181.9 L68.4 181.9 L64.4 181.8 L60.4 181.7 L56.4 181.6 L52.4 181.5 L48.4 181.4 L44.4 181.4 L40.4 181.3 L36.4 181.2Z" fill="url(#g4)" fill-opacity="1" stroke="none"/>
<path d="M36.4 180.8 L36.9 180.8 L37.4 180.8 L37.9 180.8 L38.4 180.8 L38.9 180.8 L39.4 180.8 L39.9 180.8 L40.4 180.8 L40.9 180.7 L41.4 180.7 L41.9 180.7 L42.4 180.7 L42.9 180.7 L43.4 180.7 L43.9 180.7 L44.4 180.6 L44.9 180.6 L45.4 180.6 L45.9 180.6 L46.4 180.5 L46.9 180.5 L47.4 180.4 L47.9 180.4 L48.4 180.3 L48.9 180.2 L49.4 180.1 L49.9 180 L50.4 179.9 L50.9 179.8 L51.4 179.7 L51.9 179.5 L52.4 179.4 L52.9 179.2 L53.4 179 L53.9 178.7 L54.4 178.5 L54.9 178.2 L55.4 177.9 L55.9 177.5 L56.4 177.2 L56.9 176.8 L57.4 176.3 L57.9 175.8 L58.4 175.3 L58.9 174.8 L59.4 174.2 L59.9 173.5 L60.4 172.8 L60.9 172.1 L61.4 171.3 L61.9 170.4 L62.4 169.5 L62.9 168.6 L63.4 167.6 L63.9 166.6 L64.4 165.5 L64.9 164.3 L65.4 163.2 L65.9 161.9 L66.4 160.7 L66.9 159.4 L67.4 158.1 L67.9 156.7 L68.4 155.3 L68.9 153.9 L69.4 152.5 L69.9 151.1 L70.4 149.7 L70.9 148.3 L71.4 147 L71.9 145.6 L72.4 144.3 L72.9 143 L73.4 141.7 L73.9 140.6 L74.4 139.4 L74.9 138.4 L75.4 137.4 L75.9 136.5 L76.4 135.7 L76.9 135 L77.4 134.5 L77.9 134 L78.4 133.6 L78.9 133.4 L79.4 133.3 L79.9 133.3 L80.4 133.5 L80.9 133.7 L81.4 134.1 L81.9 134.6 L82.4 135.2 L82.9 135.9 L83.4 136.7 L83.9 137.6 L84.4 138.6 L84.9 139.7 L85.4 140.8 L85.9 142 L86.4 143.3 L86.9 144.6 L87.4 146 L87.9 147.4 L88.4 148.8 L88.9 150.2 L89.4 151.6 L89.9 153 L90.4 154.5 L90.9 155.9 L91.4 157.3 L91.8 158.6 L92.3 160 L92.8 161.3 L93.3 162.6 L93.8 163.8 L94.3 165 L94.8 166.1 L95.3 167.3 L95.8 168.3 L96.3 169.3 L96.8 170.3 L97.3 171.2 L97.8 172.1 L98.3 172.9 L98.8 173.6 L99.3 174.3 L99.8 175 L100.3 175.6 L100.8 176.2 L101.3 176.8 L101.8 177.3 L102.3 177.7 L102.8 178.2 L103.3 178.5 L103.8 178.9 L104.3 179.2 L104.8 179.5 L105.3 179.8 L105.8 180.1 L106.3 180.3 L106.8 180.5 L107.3 180.7 L107.8 180.9 L108.3 181 L108.8 181.2 L109.3 181.3 L109.8 181.4 L110.3 181.5 L110.8 181.6 L111.3 181.7 L111.8 181.8 L112.3 181.8 L112.8 181.9 L113.3 182 L113.8 182 L114.3 182.1 L114.8 182.1 L115.3 182.2 L115.8 182.2 L116.3 182.2 L116.8 182.3 L117.3 182.3 L117.8 182.3 L118.3 182.4 L118.8 182.4 L119.3 182.4 L119.8 182.4 L120.3 182.5 L120.8 182.5 L121.3 182.5 L121.8 182.5 L122.3 182.5 L122.8 182.6 L123.3 182.6 L123.8 182.6 L124.3 182.6 L124.8 182.6 L125.3 182.7 L125.8 182.7 L126.3 182.7 L126.8 182.7 L127.3 182.7 L127.8 182.8 L128.3 182.8 L128.8 182.8 L129.3 182.8 L129.8 182.8 L130.3 182.8 L130.8 182.9 L131.3 182.9 L131.8 182.9 L132.3 182.9 L132.8 182.9 L133.3 182.9 L133.8 182.9 L134.3 183 L134.8 183 L135.3 183 L135.8 183 L136.3 183 L136.8 183 L137.3 183.1 L137.8 183.1 L138.3 183.1 L138.8 183.1 L139.3 183.1 L139.8 183.1 L140.3 183.1 L140.8 183.1 L141.3 183.2 L141.8 183.2 L142.3 183.2 L142.8 183.2 L143.3 183.2 L143.8 183.2 L144.3 183.2 L144.8 183.3 L145.3 183.3 L145.8 183.3 L146.3 183.3 L146.8 183.3 L147.3 183.3 L147.8 183.3 L148.3 183.3 L148.8 183.4 L149.3 183.4 L149.8 183.4 L150.3 183.4 L150.8 183.4 L151.3 183.4 L151.8 183.4 L152.3 183.4 L152.8 183.5 L153.3 183.5 L153.8 183.5 L154.3 183.5 L154.8 183.5 L155.3 183.5 L155.8 183.5 L156.3 183.5 L156.8 183.6 L157.3 183.6 L157.8 183.6 L158.3 183.6 L158.8 183.6 L159.3 183.6 L159.8 183.6 L160.3 183.6 L160.8 183.7 L161.3 183.7 L161.8 183.7 L162.3 183.7 L162.8 183.7 L163.3 183.7 L163.8 183.7 L164.3 183.7 L164.8 183.7 L165.3 183.8 L165.8 183.8 L166.3 183.8 L166.8 183.8 L167.3 183.8 L167.8 183.8 L168.3 183.8 L168.8 183.8 L169.3 183.9 L169.8 183.9 L170.3 183.9 L170.8 183.9 L171.3 183.9 L171.8 183.9 L172.3 183.9 L172.8 183.9 L173.3 183.9 L173.8 184 L174.3 184 L174.8 184 L175.3 184 L175.8 184 L176.3 184 L176.8 184 L177.3 184 L177.8 184 L178.3 184.1 L178.8 184.1 L179.3 184.1 L179.8 184.1 L180.3 184.1 L180.8 184.1 L181.3 184.1 L181.8 184.1 L182.3 184.1 L182.8 184.2 L183.3 184.2 L183.8 184.2 L184.3 184.2 L184.8 184.2 L185.3 184.2 L185.8 184.2 L186.3 184.2 L186.8 184.2 L187.3 184.3 L187.8 184.3 L188.3 184.3 L188.8 184.3 L189.3 184.3 L189.8 184.3 L190.3 184.3 L190.8 184.3 L191.3 184.3 L191.8 184.4 L192.3 184.4 L192.8 184.4 L193.3 184.4 L193.8 184.4 L194.3 184.4 L194.8 184.4 L195.3 184.4 L195.8 184.4 L196.3 184.5 L196.8 184.5 L197.3 184.5 L197.8 184.5 L198.3 184.5 L198.8 184.5 L199.3 184.5 L199.8 184.5 L200.3 184.5 L200.8 184.6 L201.3 184.6 L201.8 184.6 L202.3 184.6 L202.8 184.6 L203.2 184.6 L203.7 184.6 L204.2 184.6 L204.7 184.6 L205.2 184.6 L205.7 184.7 L206.2 184.7 L206.7 184.7 L207.2 184.7 L207.7 184.7 L208.2 184.7 L208.7 184.7 L209.2 184.7 L209.7 184.7 L210.2 184.8 L210.7 184.8 L211.2 184.8 L211.7 184.8 L212.2 184.8 L212.7 184.8 L213.2 184.8 L213.7 184.8 L214.2 184.8 L214.7 184.9 L215.2 184.9 L215.7 184.9 L216.2 184.9 L216.7 184.9 L217.2 184.9 L217.7 184.9 L218.2 184.9 L218.7 184.9 L219.2 184.9 L219.7 185 L220.2 185 L220.7 185 L221.2 185 L221.7 185 L222.2 185 L222.7 185 L223.2 185 L223.7 185 L224.2 185.1 L224.7 185.1 L225.2 185.1 L225.7 185.1 L226.2 185.1 L226.7 185.1 L227.2 185.1 L227.7 185.1 L228.2 185.1 L228.7 185.2 L229.2 185.2 L229.7 185.2 L230.2 185.2 L230.7 185.2 L231.2 185.2 L231.7 185.2 L232.2 185.2 L232.7 185.2 L233.2 185.2 L233.7 185.3 L234.2 185.3 L234.7 185.3 L235.2 185.3 L235.7 185.3 L236.2 185.3 L236.7 185.3 L237.2 185.3 L237.7 185.3 L238.2 185.4 L238.7 185.4 L239.2 185.4 L239.7 185.4 L240.2 185.4 L240.7 185.4 L241.2 185.4 L241.7 185.4 L242.2 185.4 L242.7 185.4 L243.2 185.5 L243.7 185.5 L244.2 185.5 L244.7 185.5 L245.2 185.5 L245.7 185.5 L246.2 185.5 L246.7 185.5 L247.2 185.5 L247.7 185.6 L248.2 185.6 L248.7 185.6 L249.2 185.6 L249.7 185.6 L250.2 185.6 L250.7 185.6 L251.2 185.6 L251.7 185.6 L252.2 185.6 L252.7 185.7 L253.2 185.7 L253.7 185.7 L254.2 185.7 L254.7 185.7 L255.2 185.7 L255.7 185.7 L256.2 185.7 L256.7 185.7 L257.2 185.8 L257.7 185.8 L258.2 185.8" fill="none" stroke="#1278bb" stroke-width="1.3" stroke-linejoin="round" />
<path d="M36.4 182.6 L36.9 182.6 L37.4 182.6 L37.9 182.6 L38.4 182.6 L38.9 182.6 L39.4 182.6 L39.9 182.6 L40.4 182.6 L40.9 182.6 L41.4 182.6 L41.9 182.6 L42.4 182.6 L42.9 182.6 L43.4 182.6 L43.9 182.6 L44.4 182.6 L44.9 182.6 L45.4 182.6 L45.9 182.7 L46.4 182.7 L46.9 182.7 L47.4 182.7 L47.9 182.7 L48.4 182.7 L48.9 182.7 L49.4 182.7 L49.9 182.7 L50.4 182.7 L50.9 182.7 L51.4 182.7 L51.9 182.7 L52.4 182.7 L52.9 182.7 L53.4 182.7 L53.9 182.7 L54.4 182.7 L54.9 182.7 L55.4 182.7 L55.9 182.7 L56.4 182.7 L56.9 182.7 L57.4 182.7 L57.9 182.7 L58.4 182.7 L58.9 182.8 L59.4 182.8 L59.9 182.8 L60.4 182.8 L60.9 182.8 L61.4 182.8 L61.9 182.8 L62.4 182.8 L62.9 182.8 L63.4 182.8 L63.9 182.8 L64.4 182.8 L64.9 182.8 L65.4 182.8 L65.9 182.8 L66.4 182.8 L66.9 182.8 L67.4 182.8 L67.9 182.8 L68.4 182.8 L68.9 182.8 L69.4 182.8 L69.9 182.8 L70.4 182.8 L70.9 182.8 L71.4 182.8 L71.9 182.9 L72.4 182.9 L72.9 182.9 L73.4 182.9 L73.9 182.9 L74.4 182.9 L74.9 182.9 L75.4 182.9 L75.9 182.9 L76.4 182.9 L76.9 182.9 L77.4 182.9 L77.9 182.9 L78.4 182.9 L78.9 182.9 L79.4 182.9 L79.9 182.9 L80.4 182.9 L80.9 182.9 L81.4 182.9 L81.9 182.9 L82.4 182.9 L82.9 182.9 L83.4 182.9 L83.9 182.9 L84.4 182.9 L84.9 182.9 L85.4 183 L85.9 183 L86.4 183 L86.9 183 L87.4 183 L87.9 183 L88.4 183 L88.9 183 L89.4 183 L89.9 183 L90.4 183 L90.9 183 L91.4 183 L91.8 183 L92.3 183 L92.8 183 L93.3 183 L93.8 183 L94.3 183 L94.8 183 L95.3 183 L95.8 183 L96.3 183 L96.8 183 L97.3 183 L97.8 183 L98.3 183 L98.8 183.1 L99.3 183.1 L99.8 183.1 L100.3 183.1 L100.8 183.1 L101.3 183.1 L101.8 183.1 L102.3 183.1 L102.8 183.1 L103.3 183.1 L103.8 183.1 L104.3 183.1 L104.8 183.1 L105.3 183.1 L105.8 183.1 L106.3 183.1 L106.8 183.1 L107.3 183.1 L107.8 183.1 L108.3 183.1 L108.8 183.1 L109.3 183.1 L109.8 183.1 L110.3 183.1 L110.8 183.1 L111.3 183.1 L111.8 183.1 L112.3 183.1 L112.8 183.1 L113.3 183.1 L113.8 183.2 L114.3 183.2 L114.8 183.2 L115.3 183.2 L115.8 183.2 L116.3 183.2 L116.8 183.2 L117.3 183.2 L117.8 183.2 L118.3 183.2 L118.8 183.2 L119.3 183.2 L119.8 183.2 L120.3 183.2 L120.8 183.2 L121.3 183.2 L121.8 183.2 L122.3 183.2 L122.8 183.2 L123.3 183.2 L123.8 183.2 L124.3 183.2 L124.8 183.2 L125.3 183.2 L125.8 183.2 L126.3 183.2 L126.8 183.2 L127.3 183.2 L127.8 183.2 L128.3 183.2 L128.8 183.2 L129.3 183.2 L129.8 183.2 L130.3 183.2 L130.8 183.2 L131.3 183.2 L131.8 183.2 L132.3 183.3 L132.8 183.3 L133.3 183.3 L133.8 183.3 L134.3 183.3 L134.8 183.3 L135.3 183.3 L135.8 183.3 L136.3 183.3 L136.8 183.3 L137.3 183.3 L137.8 183.3 L138.3 183.3 L138.8 183.3 L139.3 183.3 L139.8 183.3 L140.3 183.3 L140.8 183.3 L141.3 183.3 L141.8 183.3 L142.3 183.3 L142.8 183.3 L143.3 183.3 L143.8 183.3 L144.3 183.3 L144.8 183.3 L145.3 183.3 L145.8 183.3 L146.3 183.3 L146.8 183.3 L147.3 183.3 L147.8 183.3 L148.3 183.3 L148.8 183.3 L149.3 183.3 L149.8 183.3 L150.3 183.3 L150.8 183.3 L151.3 183.3 L151.8 183.3 L152.3 183.3 L152.8 183.3 L153.3 183.3 L153.8 183.3 L154.3 183.2 L154.8 183.2 L155.3 183.2 L155.8 183.2 L156.3 183.2 L156.8 183.2 L157.3 183.2 L157.8 183.1 L158.3 183.1 L158.8 183.1 L159.3 183.1 L159.8 183 L160.3 183 L160.8 182.9 L161.3 182.9 L161.8 182.8 L162.3 182.8 L162.8 182.7 L163.3 182.6 L163.8 182.5 L164.3 182.4 L164.8 182.3 L165.3 182.2 L165.8 182 L166.3 181.8 L166.8 181.7 L167.3 181.5 L167.8 181.2 L168.3 181 L168.8 180.7 L169.3 180.4 L169.8 180.1 L170.3 179.7 L170.8 179.4 L171.3 178.9 L171.8 178.5 L172.3 178 L172.8 177.4 L173.3 176.8 L173.8 176.2 L174.3 175.5 L174.8 174.8 L175.3 174.1 L175.8 173.2 L176.3 172.4 L176.8 171.4 L177.3 170.4 L177.8 169.4 L178.3 168.3 L178.8 167.2 L179.3 166 L179.8 164.7 L180.3 163.4 L180.8 162 L181.3 160.6 L181.8 159.1 L182.3 157.6 L182.8 156.1 L183.3 154.5 L183.8 152.9 L184.3 151.2 L184.8 149.6 L185.3 147.9 L185.8 146.2 L186.3 144.5 L186.8 142.8 L187.3 141.1 L187.8 139.4 L188.3 137.7 L188.8 136.1 L189.3 134.5 L189.8 132.9 L190.3 131.4 L190.8 130 L191.3 128.6 L191.8 127.3 L192.3 126.1 L192.8 125 L193.3 124 L193.8 123.1 L194.3 122.2 L194.8 121.5 L195.3 121 L195.8 120.5 L196.3 120.2 L196.8 120 L197.3 119.9 L197.8 120 L198.3 120.1 L198.8 120.5 L199.3 120.9 L199.8 121.5 L200.3 122.2 L200.8 123 L201.3 123.9 L201.8 124.9 L202.3 126 L202.8 127.2 L203.2 128.5 L203.7 129.8 L204.2 131.3 L204.7 132.8 L205.2 134.3 L205.7 135.9 L206.2 137.6 L206.7 139.2 L207.2 140.9 L207.7 142.6 L208.2 144.3 L208.7 146.1 L209.2 147.8 L209.7 149.5 L210.2 151.2 L210.7 152.8 L211.2 154.4 L211.7 156 L212.2 157.6 L212.7 159.1 L213.2 160.6 L213.7 162 L214.2 163.4 L214.7 164.7 L215.2 166 L215.7 167.2 L216.2 168.4 L216.7 169.5 L217.2 170.6 L217.7 171.6 L218.2 172.5 L218.7 173.4 L219.2 174.3 L219.7 175.1 L220.2 175.8 L220.7 176.5 L221.2 177.1 L221.7 177.7 L222.2 178.3 L222.7 178.8 L223.2 179.3 L223.7 179.7 L224.2 180.1 L224.7 180.5 L225.2 180.8 L225.7 181.1 L226.2 181.4 L226.7 181.7 L227.2 181.9 L227.7 182.1 L228.2 182.3 L228.7 182.5 L229.2 182.6 L229.7 182.8 L230.2 182.9 L230.7 183 L231.2 183.1 L231.7 183.2 L232.2 183.3 L232.7 183.4 L233.2 183.5 L233.7 183.5 L234.2 183.6 L234.7 183.6 L235.2 183.7 L235.7 183.7 L236.2 183.7 L236.7 183.8 L237.2 183.8 L237.7 183.8 L238.2 183.9 L238.7 183.9 L239.2 183.9 L239.7 183.9 L240.2 183.9 L240.7 184 L241.2 184 L241.7 184 L242.2 184 L242.7 184 L243.2 184 L243.7 184 L244.2 184 L244.7 184.1 L245.2 184.1 L245.7 184.1 L246.2 184.1 L246.7 184.1 L247.2 184.1 L247.7 184.1 L248.2 184.1 L248.7 184.1 L249.2 184.1 L249.7 184.1 L250.2 184.1 L250.7 184.2 L251.2 184.2 L251.7 184.2 L252.2 184.2 L252.7 184.2 L253.2 184.2 L253.7 184.2 L254.2 184.2 L254.7 184.2 L255.2 184.2 L255.7 184.2 L256.2 184.2 L256.7 184.2 L257.2 184.2 L257.7 184.3 L258.2 184.3" fill="none" stroke="#42a82a" stroke-width="1.1" stroke-linejoin="round" />
<line x1="36.4" y1="198" x2="36.4" y2="195.8" stroke="#333" stroke-width="0.9"/>
<line x1="80.8" y1="198" x2="80.8" y2="195.8" stroke="#333" stroke-width="0.9"/>
<line x1="125.1" y1="198" x2="125.1" y2="195.8" stroke="#333" stroke-width="0.9"/>
<line x1="169.5" y1="198" x2="169.5" y2="195.8" stroke="#333" stroke-width="0.9"/>
<line x1="213.8" y1="198" x2="213.8" y2="195.8" stroke="#333" stroke-width="0.9"/>
<line x1="258.2" y1="198" x2="258.2" y2="195.8" stroke="#333" stroke-width="0.9"/>
<line x1="58.6" y1="198" x2="58.6" y2="196.6" stroke="#333" stroke-width="0.9"/>
<line x1="102.9" y1="198" x2="102.9" y2="196.6" stroke="#333" stroke-width="0.9"/>
<line x1="147.3" y1="198" x2="147.3" y2="196.6" stroke="#333" stroke-width="0.9"/>
<line x1="191.7" y1="198" x2="191.7" y2="196.6" stroke="#333" stroke-width="0.9"/>
<line x1="236" y1="198" x2="236" y2="196.6" stroke="#333" stroke-width="0.9"/>
<rect x="36.4" y="15.9" width="221.8" height="182.1" fill="none" stroke="#2b2b2b" stroke-width="1.15"/>
<text x="36.4" y="206.3" font-size="7.5" textLength="9.2" lengthAdjust="spacingAndGlyphs" text-anchor="middle" >166</text>
<text x="80.8" y="206.3" font-size="7.5" textLength="9.2" lengthAdjust="spacingAndGlyphs" text-anchor="middle" >164</text>
<text x="125.1" y="206.3" font-size="7.5" textLength="9.2" lengthAdjust="spacingAndGlyphs" text-anchor="middle" >162</text>
<text x="169.5" y="206.3" font-size="7.5" textLength="9.2" lengthAdjust="spacingAndGlyphs" text-anchor="middle" >160</text>
<text x="213.8" y="206.3" font-size="7.5" textLength="9.2" lengthAdjust="spacingAndGlyphs" text-anchor="middle" >158</text>
<text x="258.2" y="206.3" font-size="7.5" textLength="9.2" lengthAdjust="spacingAndGlyphs" text-anchor="middle" >156</text>
<path d="M365 89.4 L366 89.3 L367 89.2 L368 88.9 L369 88.6 L370 88.1 L371 87.4 L372 86.5 L373 85.4 L374 84.1 L375 82.6 L376 80.8 L377 78.8 L378 76.8 L379 74.8 L380 72.8 L381 71.1 L382 69.8 L383 68.9 L384 68.5 L385 68.6 L386 69.1 L387 70 L388 71.2 L389 72.6 L390 74.2 L391 76 L392 77.8 L393 79.6 L394 81.3 L395 82.9 L396 84.4 L397 85.7 L398 86.9 L399 87.9 L400 88.8 L401 89.5 L402 90 L403 90.5 L404 90.9 L405 91.2 L406 91.4 L407 91.6 L408 91.8 L409 91.9 L410 92.1 L410 92.2 L405.9 92 L401.8 91.7 L397.7 91.5 L393.6 91.3 L389.5 91.1 L385.5 90.8 L381.4 90.6 L377.3 90.4 L373.2 90.2 L369.1 90 L365 89.8Z" fill="url(#g5)" fill-opacity="1"/>
<path d="M365 89.4 L366 89.3 L367 89.2 L368 88.9 L369 88.6 L370 88.1 L371 87.4 L372 86.5 L373 85.4 L374 84.1 L375 82.6 L376 80.8 L377 78.8 L378 76.8 L379 74.8 L380 72.8 L381 71.1 L382 69.8 L383 68.9 L384 68.5 L385 68.6 L386 69.1 L387 70 L388 71.2 L389 72.6 L390 74.2 L391 76 L392 77.8 L393 79.6 L394 81.3 L395 82.9 L396 84.4 L397 85.7 L398 86.9 L399 87.9 L400 88.8 L401 89.5 L402 90 L403 90.5 L404 90.9 L405 91.2 L406 91.4 L407 91.6 L408 91.8 L409 91.9 L410 92.1" fill="none" stroke="#5ab52e" stroke-width="0.9" stroke-linejoin="round"/>
<path d="M470 97 L471 97.1 L472 97.1 L473 97.2 L474 97.3 L475 97.3 L476 97.2 L477 97.1 L478 96.9 L479 96.5 L480 95.9 L481 95.1 L482 93.9 L483 92.4 L484 90.3 L485 87.8 L486 84.8 L487 81.2 L488 77.1 L489 72.6 L490 67.9 L491 63.1 L492 58.5 L493 54.3 L494 50.7 L495 48.1 L496 46.6 L497 46.4 L498 47.2 L499 48.9 L500 51.6 L501 54.9 L502 58.8 L503 63 L504 67.5 L505 72 L506 76.3 L507 80.4 L508 84.2 L509 87.5 L510 90.5 L511 93 L512 95.1 L513 96.8 L514 98.2 L515 99.3 L516 100.1 L517 100.8 L518 101.3 L519 101.7 L520 102 L520 102.7 L515.8 102.4 L511.7 102 L507.5 101.6 L503.3 101.1 L499.2 100.6 L495 100.1 L490.8 99.6 L486.7 99.1 L482.5 98.6 L478.3 98.2 L474.2 97.7 L470 97.2Z" fill="url(#g5)" fill-opacity="1"/>
<path d="M470 97 L471 97.1 L472 97.1 L473 97.2 L474 97.3 L475 97.3 L476 97.2 L477 97.1 L478 96.9 L479 96.5 L480 95.9 L481 95.1 L482 93.9 L483 92.4 L484 90.3 L485 87.8 L486 84.8 L487 81.2 L488 77.1 L489 72.6 L490 67.9 L491 63.1 L492 58.5 L493 54.3 L494 50.7 L495 48.1 L496 46.6 L497 46.4 L498 47.2 L499 48.9 L500 51.6 L501 54.9 L502 58.8 L503 63 L504 67.5 L505 72 L506 76.3 L507 80.4 L508 84.2 L509 87.5 L510 90.5 L511 93 L512 95.1 L513 96.8 L514 98.2 L515 99.3 L516 100.1 L517 100.8 L518 101.3 L519 101.7 L520 102" fill="none" stroke="#5ab52e" stroke-width="0.9" stroke-linejoin="round"/>
<path d="M314.6 82.7 L315.6 82.3 L316.6 82 L317.6 81.6 L318.6 81.1 L319.6 80.7 L320.6 80.3 L321.6 79.8 L322.6 79.3 L323.6 78.8 L324.6 78.3 L325.6 77.8 L326.6 77.3 L327.6 76.8 L328.6 76.3 L329.6 75.8 L330.6 75.3 L331.6 74.8 L332.6 74.4 L333.6 73.9 L334.6 73.5 L335.6 73.1 L336.6 72.8 L337.6 72.4 L338.6 72.2 L339.6 71.9 L340.6 71.7 L341.6 71.6 L342.6 71.5 L343.6 71.4 L344.6 71.4 L345.6 71.5 L346.6 71.6 L347.6 71.8 L348.6 72 L349.6 72.3 L350.6 72.6 L351.6 73 L352.6 73.4 L353.6 73.8 L354.6 74.3 L355.6 74.8 L356.6 75.4 L357.6 76 L358.6 76.6 L359.6 77.2 L360.6 77.8 L361.6 78.4 L362.6 79 L363.6 79.7 L364.6 80.3 L365.6 80.9 L366.6 81.5 L367.6 82.1 L368.6 82.7 L369.6 83.3 L370.6 83.8 L371.6 84.3 L372.6 84.8 L373.6 85.3 L374.6 85.8 L375.6 86.2 L376.6 86.6 L377.6 87 L378.6 87.4 L379.6 87.7 L380.6 88 L381.6 88.3 L382.6 88.6 L383.6 88.9 L384.6 89.1 L385.6 89.3 L386.6 89.5 L387.6 89.7 L388.6 89.9 L389.6 90.1 L390.6 90.2 L391.6 90.4 L392.6 90.5 L393.6 90.6 L394.6 90.7 L395.6 90.8 L396.6 90.9 L397.6 91 L398.6 91.1 L399.6 91.2 L400.6 91.3 L401.6 91.4 L402.6 91.5 L403.6 91.6 L404.6 91.6 L405.6 91.7 L406.6 91.8 L407.6 91.9 L408.6 92 L409.6 92 L410.6 92.1 L411.6 92.2 L412.6 92.3 L413.6 92.3 L414.6 92.4 L415.6 92.5 L416.6 92.5 L417.6 92.6 L418.6 92.7 L419.6 92.7 L420.6 92.8 L421.6 92.9 L422.6 92.9 L423.6 93 L424.6 93.1 L425.6 93.2 L426.6 93.2 L427.6 93.3 L428.6 93.4 L429.6 93.4 L430.6 93.5 L431.6 93.6 L432.6 93.6 L433.6 93.7 L434.6 93.8 L435.6 93.8 L436.6 93.9 L437.6 94 L438.6 94 L439.6 94.1 L440.6 94.2 L441.6 94.3 L442.6 94.4 L443.6 94.5 L444.6 94.6 L445.6 94.7 L446.6 94.8 L447.6 94.9 L448.6 95 L449.6 95.1 L450.6 95.2 L451.6 95.3 L452.6 95.4 L453.6 95.5 L454.6 95.6 L455.6 95.7 L456.6 95.8 L457.6 95.9 L458.6 96 L459.6 96.1 L460.6 96.2 L461.6 96.3 L462.6 96.4 L463.6 96.5 L464.6 96.6 L465.6 96.7 L466.6 96.8 L467.6 96.9 L468.6 97 L469.6 97.1 L470.6 97.2 L471.6 97.3 L472.6 97.5 L473.6 97.6 L474.6 97.7 L475.6 97.8 L476.6 97.9 L477.6 98 L478.6 98.1 L479.6 98.3 L480.6 98.4 L481.6 98.5 L481.6 98.5 L477.6 98.1 L473.6 97.6 L469.7 97.2 L465.7 96.8 L461.7 96.4 L457.7 96 L453.8 95.6 L449.8 95.2 L445.8 94.8 L441.8 94.4 L437.9 94.1 L433.9 93.8 L429.9 93.5 L425.9 93.3 L422 93 L418 92.8 L414 92.5 L410 92.3 L406.1 92 L402.1 91.7 L398.1 91.5 L394.1 91.3 L390.1 91.1 L386.2 90.9 L382.2 90.7 L378.2 90.5 L374.2 90.2 L370.3 90 L366.3 89.8 L362.3 89.6 L358.3 89.4 L354.4 89.3 L350.4 89.1 L346.4 88.9 L342.4 88.7 L338.5 88.6 L334.5 88.4 L330.5 88.2 L326.5 88 L322.6 87.9 L318.6 87.7 L314.6 87.5Z" fill="url(#g6)" fill-opacity="1"/>
<path d="M314.6 82.7 L315.6 82.3 L316.6 82 L317.6 81.6 L318.6 81.1 L319.6 80.7 L320.6 80.3 L321.6 79.8 L322.6 79.3 L323.6 78.8 L324.6 78.3 L325.6 77.8 L326.6 77.3 L327.6 76.8 L328.6 76.3 L329.6 75.8 L330.6 75.3 L331.6 74.8 L332.6 74.4 L333.6 73.9 L334.6 73.5 L335.6 73.1 L336.6 72.8 L337.6 72.4 L338.6 72.2 L339.6 71.9 L340.6 71.7 L341.6 71.6 L342.6 71.5 L343.6 71.4 L344.6 71.4 L345.6 71.5 L346.6 71.6 L347.6 71.8 L348.6 72 L349.6 72.3 L350.6 72.6 L351.6 73 L352.6 73.4 L353.6 73.8 L354.6 74.3 L355.6 74.8 L356.6 75.4 L357.6 76 L358.6 76.6 L359.6 77.2 L360.6 77.8 L361.6 78.4 L362.6 79 L363.6 79.7 L364.6 80.3 L365.6 80.9 L366.6 81.5 L367.6 82.1 L368.6 82.7 L369.6 83.3 L370.6 83.8 L371.6 84.3 L372.6 84.8 L373.6 85.3 L374.6 85.8 L375.6 86.2 L376.6 86.6 L377.6 87 L378.6 87.4 L379.6 87.7 L380.6 88 L381.6 88.3 L382.6 88.6 L383.6 88.9 L384.6 89.1 L385.6 89.3 L386.6 89.5 L387.6 89.7 L388.6 89.9 L389.6 90.1 L390.6 90.2 L391.6 90.4 L392.6 90.5 L393.6 90.6 L394.6 90.7 L395.6 90.8 L396.6 90.9 L397.6 91 L398.6 91.1 L399.6 91.2 L400.6 91.3 L401.6 91.4 L402.6 91.5 L403.6 91.6 L404.6 91.6 L405.6 91.7 L406.6 91.8 L407.6 91.9 L408.6 92 L409.6 92 L410.6 92.1 L411.6 92.2 L412.6 92.3 L413.6 92.3 L414.6 92.4 L415.6 92.5 L416.6 92.5 L417.6 92.6 L418.6 92.7 L419.6 92.7 L420.6 92.8 L421.6 92.9 L422.6 92.9 L423.6 93 L424.6 93.1 L425.6 93.2 L426.6 93.2 L427.6 93.3 L428.6 93.4 L429.6 93.4 L430.6 93.5 L431.6 93.6 L432.6 93.6 L433.6 93.7 L434.6 93.8 L435.6 93.8 L436.6 93.9 L437.6 94 L438.6 94 L439.6 94.1 L440.6 94.2 L441.6 94.3 L442.6 94.4 L443.6 94.5 L444.6 94.6 L445.6 94.7 L446.6 94.8 L447.6 94.9 L448.6 95 L449.6 95.1 L450.6 95.2 L451.6 95.3 L452.6 95.4 L453.6 95.5 L454.6 95.6 L455.6 95.7 L456.6 95.8 L457.6 95.9 L458.6 96 L459.6 96.1 L460.6 96.2 L461.6 96.3 L462.6 96.4 L463.6 96.5 L464.6 96.6 L465.6 96.7 L466.6 96.8 L467.6 96.9 L468.6 97 L469.6 97.1 L470.6 97.2 L471.6 97.3 L472.6 97.5 L473.6 97.6 L474.6 97.7 L475.6 97.8 L476.6 97.9 L477.6 98 L478.6 98.1 L479.6 98.3 L480.6 98.4 L481.6 98.5" fill="none" stroke="#1175bb" stroke-width="0.9" stroke-linejoin="round"/>
<path d="M314.6 87.5 L315.6 87.5 L316.6 87.5 L317.6 87.6 L318.6 87.6 L319.6 87.7 L320.6 87.7 L321.6 87.8 L322.6 87.8 L323.6 87.8 L324.6 87.9 L325.6 87.9 L326.6 88 L327.6 88 L328.6 88.1 L329.6 88.1 L330.6 88.1 L331.6 88.2 L332.6 88.2 L333.6 88.3 L334.6 88.3 L335.6 88.4 L336.6 88.4 L337.6 88.4 L338.6 88.5 L339.6 88.5 L340.6 88.6 L341.6 88.6 L342.6 88.7 L343.6 88.7 L344.6 88.7 L345.6 88.8 L346.6 88.8 L347.6 88.9 L348.6 88.9 L349.6 89 L350.6 89 L351.6 89 L352.6 89.1 L353.6 89.1 L354.6 89.2 L355.6 89.2 L356.6 89.3 L357.6 89.3 L358.6 89.3 L359.6 89.4 L360.6 89.4 L361.6 89.5 L362.6 89.5 L363.6 89.6 L364.6 89.6 L365.6 89.7 L366.6 89.7 L367.6 89.8 L368.6 89.8 L369.6 89.9 L370.6 89.9 L371.6 90 L372.6 90 L373.6 90.1 L374.6 90.1 L375.6 90.2 L376.6 90.2 L377.6 90.2 L378.6 90.3 L379.6 90.3 L380.6 90.4 L381.6 90.4 L382.6 90.5 L383.6 90.5 L384.6 90.5 L385.6 90.6 L386.6 90.6 L387.6 90.6 L388.6 90.6 L389.6 90.7 L390.6 90.7 L391.6 90.7 L392.6 90.7 L393.6 90.7 L394.6 90.7 L395.6 90.7 L396.6 90.7 L397.6 90.7 L398.6 90.6 L399.6 90.6 L400.6 90.6 L401.6 90.5 L402.6 90.5 L403.6 90.4 L404.6 90.3 L405.6 90.2 L406.6 90.1 L407.6 90 L408.6 89.9 L409.6 89.7 L410.6 89.6 L411.6 89.4 L412.6 89.2 L413.6 88.9 L414.6 88.7 L415.6 88.4 L416.6 88.1 L417.6 87.8 L418.6 87.5 L419.6 87.1 L420.6 86.7 L421.6 86.3 L422.6 85.9 L423.6 85.4 L424.6 84.9 L425.6 84.4 L426.6 83.9 L427.6 83.3 L428.6 82.7 L429.6 82.1 L430.6 81.5 L431.6 80.9 L432.6 80.2 L433.6 79.6 L434.6 78.9 L435.6 78.2 L436.6 77.5 L437.6 76.8 L438.6 76 L439.6 75.3 L440.6 74.6 L441.6 74 L442.6 73.3 L443.6 72.6 L444.6 72 L445.6 71.4 L446.6 70.8 L447.6 70.2 L448.6 69.7 L449.6 69.2 L450.6 68.7 L451.6 68.3 L452.6 67.9 L453.6 67.5 L454.6 67.2 L455.6 66.9 L456.6 66.7 L457.6 66.6 L458.6 66.5 L459.6 66.5 L460.6 66.5 L461.6 66.6 L462.6 66.7 L463.6 67 L464.6 67.3 L465.6 67.7 L466.6 68.2 L467.6 68.7 L468.6 69.4 L469.6 70.1 L470.6 70.9 L471.6 71.7 L472.6 72.6 L473.6 73.5 L474.6 74.5 L475.6 75.5 L476.6 76.5 L477.6 77.6 L478.6 78.6 L479.6 79.7 L480.6 80.8 L481.6 81.8 L482.6 82.9 L483.6 84 L484.6 85 L485.6 86 L486.6 87 L487.6 87.9 L488.6 88.9 L489.6 89.8 L490.6 90.6 L491.6 91.4 L492.6 92.2 L493.6 93 L494.6 93.7 L495.6 94.4 L496.6 95 L497.6 95.6 L498.6 96.2 L499.6 96.7 L500.6 97.2 L501.6 97.7 L502.6 98.2 L503.6 98.6 L504.6 99 L505.6 99.3 L506.6 99.7 L507.6 100 L508.6 100.3 L509.6 100.6 L510.6 100.8 L511.6 101 L512.6 101.2 L513.6 101.4 L514.6 101.6 L515.6 101.7 L516.6 101.9 L517.6 102 L518.6 102.2 L519.6 102.3 L520.6 102.4 L521.6 102.5 L522.6 102.7 L522.6 103 L518.6 102.6 L514.6 102.3 L510.6 102 L506.6 101.5 L502.6 101 L498.6 100.5 L494.6 100.1 L490.6 99.6 L486.6 99.1 L482.6 98.6 L478.6 98.2 L474.6 97.7 L470.6 97.3 L466.6 96.9 L462.6 96.5 L458.6 96.1 L454.6 95.7 L450.6 95.3 L446.6 94.9 L442.6 94.5 L438.6 94.1 L434.6 93.8 L430.6 93.6 L426.6 93.3 L422.6 93.1 L418.6 92.8 L414.6 92.5 L410.6 92.3 L406.6 92 L402.6 91.8 L398.6 91.5 L394.6 91.3 L390.6 91.1 L386.6 90.9 L382.6 90.7 L378.6 90.5 L374.6 90.3 L370.6 90.1 L366.6 89.8 L362.6 89.6 L358.6 89.4 L354.6 89.3 L350.6 89.1 L346.6 88.9 L342.6 88.7 L338.6 88.6 L334.6 88.4 L330.6 88.2 L326.6 88 L322.6 87.9 L318.6 87.7 L314.6 87.5Z" fill="url(#g7)" fill-opacity="1"/>
<path d="M314.6 87.5 L315.6 87.5 L316.6 87.5 L317.6 87.6 L318.6 87.6 L319.6 87.7 L320.6 87.7 L321.6 87.8 L322.6 87.8 L323.6 87.8 L324.6 87.9 L325.6 87.9 L326.6 88 L327.6 88 L328.6 88.1 L329.6 88.1 L330.6 88.1 L331.6 88.2 L332.6 88.2 L333.6 88.3 L334.6 88.3 L335.6 88.4 L336.6 88.4 L337.6 88.4 L338.6 88.5 L339.6 88.5 L340.6 88.6 L341.6 88.6 L342.6 88.7 L343.6 88.7 L344.6 88.7 L345.6 88.8 L346.6 88.8 L347.6 88.9 L348.6 88.9 L349.6 89 L350.6 89 L351.6 89 L352.6 89.1 L353.6 89.1 L354.6 89.2 L355.6 89.2 L356.6 89.3 L357.6 89.3 L358.6 89.3 L359.6 89.4 L360.6 89.4 L361.6 89.5 L362.6 89.5 L363.6 89.6 L364.6 89.6 L365.6 89.7 L366.6 89.7 L367.6 89.8 L368.6 89.8 L369.6 89.9 L370.6 89.9 L371.6 90 L372.6 90 L373.6 90.1 L374.6 90.1 L375.6 90.2 L376.6 90.2 L377.6 90.2 L378.6 90.3 L379.6 90.3 L380.6 90.4 L381.6 90.4 L382.6 90.5 L383.6 90.5 L384.6 90.5 L385.6 90.6 L386.6 90.6 L387.6 90.6 L388.6 90.6 L389.6 90.7 L390.6 90.7 L391.6 90.7 L392.6 90.7 L393.6 90.7 L394.6 90.7 L395.6 90.7 L396.6 90.7 L397.6 90.7 L398.6 90.6 L399.6 90.6 L400.6 90.6 L401.6 90.5 L402.6 90.5 L403.6 90.4 L404.6 90.3 L405.6 90.2 L406.6 90.1 L407.6 90 L408.6 89.9 L409.6 89.7 L410.6 89.6 L411.6 89.4 L412.6 89.2 L413.6 88.9 L414.6 88.7 L415.6 88.4 L416.6 88.1 L417.6 87.8 L418.6 87.5 L419.6 87.1 L420.6 86.7 L421.6 86.3 L422.6 85.9 L423.6 85.4 L424.6 84.9 L425.6 84.4 L426.6 83.9 L427.6 83.3 L428.6 82.7 L429.6 82.1 L430.6 81.5 L431.6 80.9 L432.6 80.2 L433.6 79.6 L434.6 78.9 L435.6 78.2 L436.6 77.5 L437.6 76.8 L438.6 76 L439.6 75.3 L440.6 74.6 L441.6 74 L442.6 73.3 L443.6 72.6 L444.6 72 L445.6 71.4 L446.6 70.8 L447.6 70.2 L448.6 69.7 L449.6 69.2 L450.6 68.7 L451.6 68.3 L452.6 67.9 L453.6 67.5 L454.6 67.2 L455.6 66.9 L456.6 66.7 L457.6 66.6 L458.6 66.5 L459.6 66.5 L460.6 66.5 L461.6 66.6 L462.6 66.7 L463.6 67 L464.6 67.3 L465.6 67.7 L466.6 68.2 L467.6 68.7 L468.6 69.4 L469.6 70.1 L470.6 70.9 L471.6 71.7 L472.6 72.6 L473.6 73.5 L474.6 74.5 L475.6 75.5 L476.6 76.5 L477.6 77.6 L478.6 78.6 L479.6 79.7 L480.6 80.8 L481.6 81.8 L482.6 82.9 L483.6 84 L484.6 85 L485.6 86 L486.6 87 L487.6 87.9 L488.6 88.9 L489.6 89.8 L490.6 90.6 L491.6 91.4 L492.6 92.2 L493.6 93 L494.6 93.7 L495.6 94.4 L496.6 95 L497.6 95.6 L498.6 96.2 L499.6 96.7 L500.6 97.2 L501.6 97.7 L502.6 98.2 L503.6 98.6 L504.6 99 L505.6 99.3 L506.6 99.7 L507.6 100 L508.6 100.3 L509.6 100.6 L510.6 100.8 L511.6 101 L512.6 101.2 L513.6 101.4 L514.6 101.6 L515.6 101.7 L516.6 101.9 L517.6 102 L518.6 102.2 L519.6 102.3 L520.6 102.4 L521.6 102.5 L522.6 102.7" fill="none" stroke="#1175bb" stroke-width="0.9" stroke-linejoin="round"/>
<path d="M398 91.5 L399 91.4 L400 91.4 L401 91.3 L402 91 L403 90.7 L404 90.3 L405 90 L406 89.7 L407 89.7 L408 89.8 L409 90.2 L410 90.7 L411 91.2 L412 91.7 L413 92 L414 92.3 L415 92.5 L416 92.6 L416 92.6 L411.5 92.3 L407 92.1 L402.5 91.8 L398 91.5Z" fill="#f0821e" fill-opacity="1"/>
<path d="M508 100.6 L509 100.3 L509.9 99.8 L510.9 99.1 L511.9 98.4 L512.9 97.7 L513.8 97 L514.8 96.4 L515.8 96 L516.8 95.9 L517.7 96.1 L518.7 96.5 L519.7 97.3 L520.7 98.2 L521.6 99.2 L522.6 100.2 L522.6 103 L519 102.7 L515.3 102.3 L511.6 102 L508 101.7Z" fill="#f0821e" fill-opacity="1"/>
<path d="M314.6 87.5 L315.6 87.5 L316.6 87.6 L317.6 87.6 L318.6 87.7 L319.6 87.7 L320.6 87.8 L321.6 87.8 L322.6 87.9 L323.6 87.9 L324.6 87.9 L325.6 88 L326.6 88 L327.6 88.1 L328.6 88.1 L329.6 88.2 L330.6 88.2 L331.6 88.2 L332.6 88.3 L333.6 88.3 L334.6 88.4 L335.6 88.4 L336.6 88.5 L337.6 88.5 L338.6 88.6 L339.6 88.6 L340.6 88.6 L341.6 88.7 L342.6 88.7 L343.6 88.8 L344.6 88.8 L345.6 88.9 L346.6 88.9 L347.6 89 L348.6 89 L349.6 89 L350.6 89.1 L351.6 89.1 L352.6 89.2 L353.6 89.2 L354.6 89.3 L355.6 89.3 L356.6 89.4 L357.6 89.4 L358.6 89.4 L359.6 89.5 L360.6 89.5 L361.6 89.6 L362.6 89.6 L363.6 89.7 L364.6 89.7 L365.6 89.8 L366.6 89.8 L367.6 89.9 L368.6 90 L369.6 90 L370.6 90.1 L371.6 90.1 L372.6 90.2 L373.6 90.2 L374.6 90.3 L375.6 90.3 L376.6 90.4 L377.6 90.4 L378.6 90.5 L379.6 90.5 L380.6 90.6 L381.6 90.6 L382.6 90.7 L383.6 90.7 L384.6 90.8 L385.6 90.8 L386.6 90.9 L387.6 90.9 L388.6 91 L389.6 91.1 L390.6 91.1 L391.6 91.2 L392.6 91.2 L393.6 91.3 L394.6 91.3 L395.6 91.4 L396.6 91.4 L397.6 91.5 L398.6 91.5 L399.6 91.6 L400.6 91.6 L401.6 91.7 L402.6 91.8 L403.6 91.8 L404.6 91.9 L405.6 92 L406.6 92 L407.6 92.1 L408.6 92.2 L409.6 92.2 L410.6 92.3 L411.6 92.4 L412.6 92.4 L413.6 92.5 L414.6 92.5 L415.6 92.6 L416.6 92.7 L417.6 92.7 L418.6 92.8 L419.6 92.9 L420.6 92.9 L421.6 93 L422.6 93.1 L423.6 93.1 L424.6 93.2 L425.6 93.3 L426.6 93.3 L427.6 93.4 L428.6 93.5 L429.6 93.5 L430.6 93.6 L431.6 93.7 L432.6 93.7 L433.6 93.8 L434.6 93.8 L435.6 93.9 L436.6 94 L437.6 94 L438.6 94.1 L439.6 94.2 L440.6 94.3 L441.6 94.4 L442.6 94.5 L443.6 94.6 L444.6 94.7 L445.6 94.8 L446.6 94.9 L447.6 95 L448.6 95.1 L449.6 95.2 L450.6 95.3 L451.6 95.4 L452.6 95.5 L453.6 95.6 L454.6 95.7 L455.6 95.8 L456.6 95.9 L457.6 96 L458.6 96.1 L459.6 96.2 L460.6 96.3 L461.6 96.4 L462.6 96.5 L463.6 96.6 L464.6 96.7 L465.6 96.8 L466.6 96.9 L467.6 97 L468.6 97.1 L469.6 97.2 L470.6 97.3 L471.6 97.4 L472.6 97.5 L473.6 97.6 L474.6 97.7 L475.6 97.8 L476.6 98 L477.6 98.1 L478.6 98.2 L479.6 98.3 L480.6 98.4 L481.6 98.5 L482.6 98.6 L483.6 98.8 L484.6 98.9 L485.6 99 L486.6 99.1 L487.6 99.2 L488.6 99.3 L489.6 99.5 L490.6 99.6 L491.6 99.7 L492.6 99.8 L493.6 99.9 L494.6 100.1 L495.6 100.2 L496.6 100.3 L497.6 100.4 L498.6 100.5 L499.6 100.7 L500.6 100.8 L501.6 100.9 L502.6 101 L503.6 101.1 L504.6 101.3 L505.6 101.4 L506.6 101.5 L507.6 101.6 L508.6 101.7 L509.6 101.9 L510.6 102 L511.6 102 L512.6 102.1 L513.6 102.2 L514.6 102.3 L515.6 102.4 L516.6 102.5 L517.6 102.5 L518.6 102.6 L519.6 102.7 L520.6 102.8 L521.6 102.9 L522.6 103" fill="none" stroke="#a3a33a" stroke-width="0.9" stroke-linejoin="round" />
<path d="M314.6 82.3 L315.1 82.2 L315.6 82 L316.1 81.8 L316.6 81.6 L317.1 81.4 L317.6 81.2 L318.1 81 L318.6 80.8 L319.1 80.6 L319.6 80.3 L320.1 80.1 L320.6 79.9 L321.1 79.7 L321.6 79.4 L322.1 79.2 L322.6 78.9 L323.1 78.7 L323.6 78.4 L324.1 78.2 L324.6 77.9 L325.1 77.7 L325.6 77.4 L326.1 77.2 L326.6 76.9 L327.1 76.7 L327.6 76.4 L328.1 76.2 L328.6 75.9 L329.1 75.7 L329.6 75.4 L330.1 75.2 L330.6 74.9 L331.1 74.7 L331.6 74.4 L332.1 74.2 L332.6 74 L333.1 73.7 L333.6 73.5 L334.1 73.3 L334.6 73.1 L335.1 72.9 L335.6 72.7 L336.1 72.5 L336.6 72.4 L337.1 72.2 L337.6 72 L338.1 71.9 L338.6 71.8 L339.1 71.6 L339.6 71.5 L340.1 71.4 L340.6 71.3 L341.1 71.2 L341.6 71.2 L342.1 71.1 L342.6 71.1 L343.1 71 L343.6 71 L344.1 71 L344.6 71 L345.1 71 L345.6 71.1 L346.1 71.1 L346.6 71.2 L347.1 71.2 L347.6 71.3 L348.1 71.4 L348.6 71.5 L349.1 71.7 L349.6 71.8 L350.1 72 L350.6 72.1 L351.1 72.3 L351.6 72.5 L352.1 72.7 L352.6 72.9 L353.1 73.1 L353.6 73.4 L354.1 73.6 L354.6 73.9 L355.1 74.1 L355.6 74.4 L356.1 74.6 L356.6 74.9 L357.1 75.2 L357.6 75.5 L358.1 75.8 L358.6 76.1 L359.1 76.4 L359.6 76.7 L360.1 76.9 L360.6 77.3 L361.1 77.6 L361.6 77.9 L362.1 78.2 L362.6 78.5 L363.1 78.7 L363.6 79 L364.1 79.3 L364.6 79.6 L365.1 79.8 L365.6 80.1 L366.1 80.3 L366.6 80.5 L367.1 80.7 L367.6 80.8 L368.1 81 L368.6 81.1 L369.1 81.1 L369.6 81.1 L370.1 81.1 L370.6 81 L371.1 80.9 L371.6 80.7 L372.1 80.5 L372.6 80.1 L373.1 79.8 L373.6 79.3 L374.1 78.8 L374.6 78.2 L375.1 77.6 L375.6 76.9 L376.1 76.2 L376.6 75.4 L377.1 74.6 L377.6 73.7 L378.1 72.8 L378.6 72 L379.1 71.1 L379.6 70.3 L380.1 69.5 L380.6 68.7 L381.1 68 L381.6 67.4 L382.1 66.9 L382.6 66.5 L383.1 66.3 L383.6 66.1 L384.1 66.1 L384.6 66.2 L385.1 66.4 L385.6 66.7 L386.1 67.1 L386.6 67.6 L387.1 68.2 L387.6 68.8 L388.1 69.5 L388.6 70.2 L389.1 71 L389.6 71.9 L390.1 72.7 L390.6 73.6 L391.1 74.6 L391.6 75.5 L392.1 76.4 L392.6 77.3 L393.1 78.2 L393.6 79.1 L394.1 80 L394.6 80.8 L395.1 81.6 L395.6 82.3 L396.1 83 L396.6 83.7 L397.1 84.3 L397.6 84.9 L398.1 85.4 L398.6 85.8 L399.1 86.3 L399.6 86.6 L400.1 86.9 L400.6 87.1 L401.1 87.3 L401.6 87.4 L402.1 87.5 L402.6 87.5 L403.1 87.5 L403.6 87.4 L404.1 87.3 L404.6 87.1 L405.1 87 L405.6 86.9 L406.1 86.8 L406.6 86.7 L407.1 86.7 L407.6 86.8 L408.1 86.9 L408.6 87 L409.1 87.1 L409.6 87.3 L410.1 87.4 L410.6 87.6 L411.1 87.8 L411.6 87.9 L412.1 88 L412.6 88 L413.1 88.1 L413.6 88.1 L414.1 88 L414.6 88 L415.1 87.9 L415.6 87.8 L416.1 87.7 L416.6 87.5 L417.1 87.4 L417.6 87.3 L418.1 87.1 L418.6 86.9 L419.1 86.8 L419.6 86.6 L420.1 86.4 L420.6 86.2 L421.1 86 L421.6 85.8 L422.1 85.6 L422.6 85.4 L423.1 85.1 L423.6 84.9 L424.1 84.7 L424.6 84.4 L425.1 84.2 L425.6 83.9 L426.1 83.7 L426.6 83.4 L427.1 83.1 L427.6 82.8 L428.1 82.6 L428.6 82.3 L429.1 82 L429.6 81.7 L430.1 81.4 L430.6 81 L431.1 80.7 L431.6 80.4 L432.1 80.1 L432.6 79.8 L433.1 79.4 L433.6 79.1 L434.1 78.7 L434.6 78.4 L435.1 78.1 L435.6 77.7 L436.1 77.4 L436.6 77 L437.1 76.7 L437.6 76.3 L438.1 75.9 L438.6 75.6 L439.1 75.2 L439.6 74.9 L440.1 74.5 L440.6 74.2 L441.1 73.8 L441.6 73.5 L442.1 73.2 L442.6 72.8 L443.1 72.5 L443.6 72.2 L444.1 71.9 L444.6 71.6 L445.1 71.2 L445.6 70.9 L446.1 70.6 L446.6 70.3 L447.1 70 L447.6 69.8 L448.1 69.5 L448.6 69.2 L449.1 69 L449.6 68.7 L450.1 68.5 L450.6 68.2 L451.1 68 L451.6 67.8 L452.1 67.6 L452.6 67.4 L453.1 67.2 L453.6 67 L454.1 66.9 L454.6 66.7 L455.1 66.6 L455.6 66.5 L456.1 66.4 L456.6 66.3 L457.1 66.2 L457.6 66.1 L458.1 66.1 L458.6 66 L459.1 66 L459.6 66 L460.1 66 L460.6 66 L461.1 66 L461.6 66.1 L462.1 66.1 L462.6 66.2 L463.1 66.3 L463.6 66.4 L464.1 66.6 L464.6 66.8 L465.1 67 L465.6 67.2 L466.1 67.4 L466.6 67.6 L467.1 67.9 L467.6 68.2 L468.1 68.5 L468.6 68.8 L469.1 69.2 L469.6 69.5 L470.1 69.9 L470.6 70.3 L471.1 70.7 L471.6 71.1 L472.1 71.5 L472.6 71.9 L473.1 72.3 L473.6 72.8 L474.1 73.2 L474.6 73.7 L475.1 74.1 L475.6 74.5 L476.1 75 L476.6 75.4 L477.1 75.7 L477.6 76.1 L478.1 76.4 L478.6 76.7 L479.1 77 L479.6 77.2 L480.1 77.4 L480.6 77.4 L481.1 77.5 L481.6 77.4 L482.1 77.2 L482.6 76.9 L483.1 76.6 L483.6 76 L484.1 75.4 L484.6 74.7 L485.1 73.8 L485.6 72.7 L486.1 71.5 L486.6 70.2 L487.1 68.7 L487.6 67.2 L488.1 65.4 L488.6 63.6 L489.1 61.7 L489.6 59.8 L490.1 57.7 L490.6 55.7 L491.1 53.7 L491.6 51.7 L492.1 49.8 L492.6 47.9 L493.1 46.3 L493.6 44.8 L494.1 43.4 L494.6 42.3 L495.1 41.5 L495.6 40.9 L496.1 40.7 L496.6 40.7 L497.1 41 L497.6 41.6 L498.1 42.4 L498.6 43.5 L499.1 44.7 L499.6 46.2 L500.1 47.8 L500.6 49.6 L501.1 51.6 L501.6 53.6 L502.1 55.8 L502.6 58.1 L503.1 60.4 L503.6 62.7 L504.1 65 L504.6 67.4 L505.1 69.6 L505.6 71.9 L506.1 74 L506.6 76.1 L507.1 78 L507.6 79.9 L508.1 81.6 L508.6 83.1 L509.1 84.6 L509.6 85.8 L510.1 87 L510.6 88 L511.1 88.8 L511.6 89.5 L512.1 90.2 L512.6 90.7 L513.1 91.1 L513.6 91.4 L514.1 91.7 L514.6 92 L515.1 92.3 L515.6 92.5 L516.1 92.8 L516.6 93.1 L517.1 93.4 L517.6 93.7 L518.1 94.2 L518.6 94.6 L519.1 95.1 L519.6 95.7 L520.1 96.3 L520.6 96.9 L521.1 97.5 L521.6 98.1 L522.1 98.6 L522.6 99.2" fill="none" stroke="#9a9a9a" stroke-width="0.8" stroke-linejoin="round" />
<path d="M315.1 173.9 L316.3 180.2 L317.5 175.8 L318.5 178.4 L319.4 179.9 L320.4 178 L321.3 178.1 L322.5 181.3 L323.8 174.8 L325.3 180.8 L326.6 176.8 L328 180.4 L329.1 180.6 L330.5 179 L331.7 178 L332.6 180.3 L334 180.9 L335.2 180.4 L336.6 179.2 L337.6 180.8 L339 176.7 L340.4 183 L341.9 176.7 L342.9 180 L344.2 177.5 L345.7 181.9 L347.1 176.5 L348.1 180.1 L349.6 177.4 L350.8 184.8 L352.1 176.9 L353.1 183.3 L354.1 174.5 L355.6 181.1 L356.6 178.3 L357.6 179.7 L358.7 176.1 L360.1 178.5 L361.2 180.2 L362.3 179.9 L363.5 176.1 L364.5 181.7 L365.4 176.1 L366.3 183 L367.2 178.9 L368.4 180.3 L369.7 175.9 L370.9 180.3 L371.8 177.4 L373 180.9 L374 175.3 L375.5 178.9 L376.6 176.3 L377.6 181.1 L379.1 177.3 L380 179.3 L381.4 176.8 L382.5 180.4 L383.8 177.8 L384.9 177.8 L386 174.8 L387.1 179.9 L388.2 175.3 L389.2 176.4 L390.3 175.9 L391.6 179.6 L392.5 175.9 L393.7 181.8 L395.1 174.8 L396.3 176.4 L397.7 175.6 L399.1 176.4 L400.6 174.9 L401.6 177 L402.5 170.4 L403.8 177.7 L404.8 171.8 L405.8 176.8 L406.7 168.5 L408.2 174.5 L409.5 167.8 L410.9 174 L412.3 168.8 L413.3 172.2 L414.7 168.6 L415.8 170.4 L416.8 171.9 L418.3 169.3 L419.3 167.3 L420.4 168 L421.5 167.6 L422.5 168.6 L423.9 166.5 L424.9 167.3 L425.9 164.2 L426.9 166.3 L428.1 163 L429.3 167.5 L430.7 161.5 L432.1 164.7 L433.2 162.1 L434.2 163.9 L435.3 164.2 L436.2 165.7 L437.1 161 L438.1 166 L439.3 161.4 L440.2 162.7 L441.5 161.6 L443 164.7 L443.9 160.9 L445.1 162.3 L446.3 161.1 L447.5 163.2 L448.5 161.4 L449.9 164 L451.2 157.5 L452.6 162.3 L453.9 159.3 L455.4 159.3 L456.7 157.4 L457.9 161.2 L459.2 156.2 L460.3 160.4 L461.5 152.8 L462.9 162.3 L463.9 157.9 L464.9 160 L466.1 153.5 L467.4 160.7 L468.6 156.2 L469.8 158.7 L471.1 160.2 L472.3 160.6 L473.6 155.1 L474.5 155.9 L475.9 157.9 L477.2 159.3 L478.2 152.1 L479.6 158 L481 155.3 L482 157.5 L482.9 154.1 L484.2 159.3 L485.4 158.7 L486.4 159.5 L487.7 154.6 L488.9 159.7 L489.9 154.6 L490.9 161.3 L492 154.9 L493 158.2 L494.2 154.8 L495.6 160 L496.6 155.2 L497.7 155.6 L498.8 153 L500.2 155.3 L501.3 158.2 L502.5 159.3 L503.6 155.5 L504.6 156.6 L505.9 154.8 L507 157.3 L508.2 156.4 L509.6 155.2 L510.8 157.6 L511.9 155.6 L513 154 L514.4 158.7 L515.8 155.8 L517 156 L518.3 153.7 L519.2 155 L520.7 155.9 L522 156.6 L523.3 151 L524.8 156 L526 151.6 L527.4 153.9 L528.8 153.1 L530 153.4 L531.2 151.4 L532.3 155.3 L533.5 153 L534.4 159.9 L535.4 154.4 L536.4 155.9 L537.4 153.4 L538.4 158.1 L539.8 152.3 L540.8 159.2" fill="none" stroke="#3d3d3d" stroke-width="1.15" stroke-linejoin="round" />
<line x1="314.6" y1="198" x2="314.6" y2="195.8" stroke="#333" stroke-width="0.9"/>
<line x1="346.2" y1="198" x2="346.2" y2="195.8" stroke="#333" stroke-width="0.9"/>
<line x1="377.8" y1="198" x2="377.8" y2="195.8" stroke="#333" stroke-width="0.9"/>
<line x1="409.4" y1="198" x2="409.4" y2="195.8" stroke="#333" stroke-width="0.9"/>
<line x1="441" y1="198" x2="441" y2="195.8" stroke="#333" stroke-width="0.9"/>
<line x1="472.6" y1="198" x2="472.6" y2="195.8" stroke="#333" stroke-width="0.9"/>
<line x1="504.2" y1="198" x2="504.2" y2="195.8" stroke="#333" stroke-width="0.9"/>
<line x1="535.8" y1="198" x2="535.8" y2="195.8" stroke="#333" stroke-width="0.9"/>
<line x1="330.4" y1="198" x2="330.4" y2="196.6" stroke="#333" stroke-width="0.9"/>
<line x1="362" y1="198" x2="362" y2="196.6" stroke="#333" stroke-width="0.9"/>
<line x1="393.6" y1="198" x2="393.6" y2="196.6" stroke="#333" stroke-width="0.9"/>
<line x1="425.2" y1="198" x2="425.2" y2="196.6" stroke="#333" stroke-width="0.9"/>
<line x1="456.8" y1="198" x2="456.8" y2="196.6" stroke="#333" stroke-width="0.9"/>
<line x1="488.4" y1="198" x2="488.4" y2="196.6" stroke="#333" stroke-width="0.9"/>
<line x1="520" y1="198" x2="520" y2="196.6" stroke="#333" stroke-width="0.9"/>
<rect x="314.6" y="15.6" width="227.8" height="182.4" fill="none" stroke="#2b2b2b" stroke-width="1.15"/>
<text x="314.6" y="206.3" font-size="7.5" textLength="9.2" lengthAdjust="spacingAndGlyphs" text-anchor="middle" >885</text>
<text x="346.2" y="206.3" font-size="7.5" textLength="9.2" lengthAdjust="spacingAndGlyphs" text-anchor="middle" >880</text>
<text x="377.8" y="206.3" font-size="7.5" textLength="9.2" lengthAdjust="spacingAndGlyphs" text-anchor="middle" >875</text>
<text x="409.4" y="206.3" font-size="7.5" textLength="9.2" lengthAdjust="spacingAndGlyphs" text-anchor="middle" >870</text>
<text x="441" y="206.3" font-size="7.5" textLength="9.2" lengthAdjust="spacingAndGlyphs" text-anchor="middle" >865</text>
<text x="472.6" y="206.3" font-size="7.5" textLength="9.2" lengthAdjust="spacingAndGlyphs" text-anchor="middle" >860</text>
<text x="504.2" y="206.3" font-size="7.5" textLength="9.2" lengthAdjust="spacingAndGlyphs" text-anchor="middle" >855</text>
<text x="535.8" y="206.3" font-size="7.5" textLength="9.2" lengthAdjust="spacingAndGlyphs" text-anchor="middle" >850</text>
<path d="M35.9 313.4 L36.9 313.4 L37.9 313.5 L38.9 313.5 L39.9 313.5 L40.9 313.5 L41.9 313.5 L42.9 313.5 L43.9 313.5 L44.9 313.5 L45.9 313.6 L46.9 313.6 L47.9 313.6 L48.9 313.6 L49.9 313.6 L50.9 313.6 L51.9 313.6 L52.9 313.6 L53.9 313.7 L54.9 313.7 L55.9 313.7 L56.9 313.7 L57.9 313.7 L59 313.7 L60 313.7 L61 313.7 L62 313.8 L63 313.8 L64 313.8 L65 313.8 L66 313.8 L67 313.8 L68 313.8 L69 313.8 L70 313.9 L71 313.9 L72 313.9 L73 313.9 L74 313.9 L75 313.9 L76 313.9 L77 313.9 L78 314 L79 314 L80 314 L81 314 L82 314 L83 314 L84 314 L85 314 L86 314.1 L87 314.1 L88 314.1 L89 314.1 L90 314.1 L91 314.1 L92 314.1 L93 314.1 L94 314.1 L95 314.2 L96 314.2 L97 314.2 L98 314.2 L99 314.2 L100 314.2 L101 314.2 L102 314.2 L103.1 314.2 L104.1 314.2 L105.1 314.3 L106.1 314.3 L107.1 314.3 L108.1 314.3 L109.1 314.3 L110.1 314.3 L111.1 314.3 L112.1 314.3 L113.1 314.3 L114.1 314.3 L115.1 314.3 L116.1 314.4 L117.1 314.4 L118.1 314.4 L119.1 314.4 L120.1 314.4 L121.1 314.4 L122.1 314.4 L123.1 314.4 L124.1 314.4 L125.1 314.4 L126.1 314.4 L127.1 314.4 L128.1 314.4 L129.1 314.4 L130.1 314.5 L131.1 314.5 L132.1 314.5 L133.1 314.5 L134.1 314.5 L135.1 314.5 L136.1 314.5 L137.1 314.5 L138.1 314.5 L139.1 314.5 L140.1 314.5 L141.1 314.5 L142.1 314.5 L143.1 314.5 L144.1 314.5 L145.1 314.5 L146.1 314.5 L147.1 314.5 L148.2 314.5 L149.2 314.4 L150.2 314.4 L151.2 314.4 L152.2 314.4 L153.2 314.4 L154.2 314.4 L155.2 314.4 L156.2 314.4 L157.2 314.3 L158.2 314.3 L159.2 314.3 L160.2 314.3 L161.2 314.3 L162.2 314.2 L163.2 314.2 L164.2 314.2 L165.2 314.1 L166.2 314.1 L167.2 314 L168.2 314 L169.2 313.9 L170.2 313.9 L171.2 313.8 L172.2 313.7 L173.2 313.6 L174.2 313.6 L175.2 313.5 L176.2 313.3 L177.2 313.2 L178.2 313.1 L179.2 312.9 L180.2 312.7 L181.2 312.5 L182.2 312.2 L183.2 311.9 L184.2 311.5 L185.2 311.1 L186.2 310.5 L187.2 309.8 L188.2 309 L189.2 308.1 L190.2 306.9 L191.2 305.6 L192.3 304 L193.3 302.1 L194.3 300 L195.3 297.7 L196.3 295.1 L197.3 292.2 L198.3 289.1 L199.3 285.9 L200.3 282.6 L201.3 279.3 L202.3 276.1 L203.3 273.3 L204.3 270.9 L205.3 269.1 L206.3 268.1 L207.3 268.1 L208.3 269 L209.3 270.9 L210.3 273.5 L211.3 276.7 L212.3 280.2 L213.3 283.8 L214.3 287.4 L215.3 290.9 L216.3 294.1 L217.3 297.1 L218.3 299.8 L219.3 302.2 L220.3 304.2 L221.3 306 L222.3 307.5 L223.3 308.7 L224.3 309.8 L225.3 310.6 L226.3 311.3 L227.3 311.9 L228.3 312.4 L229.3 312.8 L230.3 313.1 L231.3 313.4 L232.3 313.6 L233.3 313.8 L234.3 314 L235.3 314.2 L236.4 314.3 L237.4 314.5 L238.4 314.6 L239.4 314.7 L240.4 314.8 L241.4 314.9 L242.4 315 L243.4 315.1 L244.4 315.2 L245.4 315.2 L246.4 315.3 L247.4 315.4 L248.4 315.4 L249.4 315.5 L250.4 315.6 L251.4 315.6 L252.4 315.7 L253.4 315.7 L254.4 315.8 L255.4 315.8 L256.4 315.8 L257.4 315.9 L258.4 315.9 L258.4 316.6 L254.4 316.5 L250.5 316.5 L246.5 316.4 L242.5 316.4 L238.5 316.3 L234.6 316.3 L230.6 316.2 L226.6 316.2 L222.6 316.1 L218.7 316 L214.7 316 L210.7 315.9 L206.7 315.9 L202.8 315.8 L198.8 315.8 L194.8 315.7 L190.9 315.7 L186.9 315.6 L182.9 315.5 L178.9 315.5 L175 315.4 L171 315.4 L167 315.3 L163 315.3 L159.1 315.2 L155.1 315.2 L151.1 315.1 L147.1 315.1 L143.2 315 L139.2 314.9 L135.2 314.9 L131.3 314.8 L127.3 314.8 L123.3 314.7 L119.3 314.7 L115.4 314.6 L111.4 314.6 L107.4 314.5 L103.4 314.4 L99.5 314.4 L95.5 314.3 L91.5 314.3 L87.6 314.2 L83.6 314.2 L79.6 314.1 L75.6 314.1 L71.7 314 L67.7 313.9 L63.7 313.9 L59.7 313.8 L55.8 313.8 L51.8 313.7 L47.8 313.7 L43.8 313.6 L39.9 313.6 L35.9 313.5Z" fill="url(#g8)" fill-opacity="1"/>
<path d="M35.9 309.6 L36.9 309.4 L37.9 309.1 L38.9 308.9 L39.9 308.6 L40.9 308.3 L41.9 308 L42.9 307.7 L43.9 307.4 L44.9 307.1 L45.9 306.8 L46.9 306.5 L47.9 306.1 L48.9 305.8 L49.9 305.5 L50.9 305.2 L51.9 304.9 L52.9 304.5 L53.9 304.2 L54.9 303.9 L55.9 303.7 L56.9 303.4 L57.9 303.1 L58.9 302.9 L59.9 302.7 L60.9 302.5 L61.9 302.3 L62.9 302.2 L63.9 302.1 L64.9 302 L65.9 301.9 L66.9 301.9 L67.9 302 L68.9 302 L69.9 302.2 L70.9 302.3 L71.9 302.5 L72.9 302.8 L73.9 303.1 L74.9 303.4 L75.9 303.8 L76.9 304.2 L77.9 304.6 L78.9 305 L79.9 305.4 L80.9 305.9 L81.9 306.3 L82.9 306.8 L83.9 307.2 L84.9 307.6 L85.9 308.1 L86.9 308.5 L87.9 308.9 L88.9 309.3 L89.9 309.6 L90.9 310 L91.9 310.3 L92.9 310.6 L94 310.9 L95 311.2 L96 311.5 L97 311.8 L98 312 L99 312.2 L100 312.4 L101 312.6 L102 312.8 L103 312.9 L104 313 L105 313.2 L106 313.3 L107 313.4 L108 313.5 L109 313.6 L110 313.7 L111 313.8 L112 313.8 L113 313.9 L114 313.9 L115 314 L116 314.1 L117 314.1 L118 314.1 L119 314.2 L120 314.2 L121 314.3 L122 314.3 L123 314.3 L124 314.3 L125 314.4 L126 314.4 L127 314.4 L128 314.5 L129 314.5 L130 314.5 L131 314.5 L132 314.6 L133 314.6 L134 314.6 L135 314.6 L136 314.6 L137 314.7 L138 314.7 L139 314.7 L140 314.7 L141 314.7 L142 314.8 L143 314.8 L144 314.8 L145 314.8 L146 314.8 L147 314.9 L148 314.9 L149 314.9 L150 314.9 L150 315.1 L146.1 315 L142.1 315 L138.2 314.9 L134.3 314.9 L130.3 314.8 L126.4 314.8 L122.5 314.7 L118.5 314.7 L114.6 314.6 L110.7 314.5 L106.7 314.5 L102.8 314.4 L98.9 314.4 L94.9 314.3 L91 314.3 L87 314.2 L83.1 314.2 L79.2 314.1 L75.2 314 L71.3 314 L67.4 313.9 L63.4 313.9 L59.5 313.8 L55.6 313.8 L51.6 313.7 L47.7 313.7 L43.8 313.6 L39.8 313.6 L35.9 313.5Z" fill="url(#g9)" fill-opacity="1"/>
<g fill="#fff" fill-opacity="0.5" stroke="#aaaaaa" stroke-width="0.5">
<circle cx="36.9" cy="308.3" r="1.2"/>
<circle cx="40.4" cy="307.7" r="1.2"/>
<circle cx="43.9" cy="306.3" r="1.2"/>
<circle cx="47.3" cy="305" r="1.2"/>
<circle cx="50.7" cy="303.8" r="1.2"/>
<circle cx="54.1" cy="303.4" r="1.2"/>
<circle cx="57.6" cy="302.4" r="1.2"/>
<circle cx="61.1" cy="301.3" r="1.2"/>
<circle cx="64.6" cy="300.9" r="1.2"/>
<circle cx="68.2" cy="300.9" r="1.2"/>
<circle cx="71.8" cy="301.2" r="1.2"/>
<circle cx="75.3" cy="302.8" r="1.2"/>
<circle cx="78.7" cy="303.8" r="1.2"/>
<circle cx="82.1" cy="304.8" r="1.2"/>
<circle cx="85.4" cy="305.9" r="1.2"/>
<circle cx="88.8" cy="307.3" r="1.2"/>
<circle cx="92.3" cy="308.1" r="1.2"/>
<circle cx="95.8" cy="309.1" r="1.2"/>
<circle cx="99.4" cy="309.5" r="1.2"/>
<circle cx="102.9" cy="309.8" r="1.2"/>
<circle cx="106.5" cy="309.9" r="1.2"/>
<circle cx="110.1" cy="310.3" r="1.2"/>
<circle cx="113.7" cy="310.8" r="1.2"/>
<circle cx="117.3" cy="311.1" r="1.2"/>
<circle cx="120.8" cy="312" r="1.2"/>
<circle cx="124.4" cy="312" r="1.2"/>
<circle cx="128" cy="312.4" r="1.2"/>
<circle cx="131.6" cy="313" r="1.2"/>
<circle cx="135.2" cy="312.6" r="1.2"/>
<circle cx="138.8" cy="313" r="1.2"/>
<circle cx="142.4" cy="312.8" r="1.2"/>
<circle cx="146" cy="313.4" r="1.2"/>
<circle cx="149.6" cy="312.8" r="1.2"/>
<circle cx="153.2" cy="313.5" r="1.2"/>
<circle cx="156.8" cy="313.5" r="1.2"/>
<circle cx="160.4" cy="313.4" r="1.2"/>
<circle cx="164" cy="312.7" r="1.2"/>
<circle cx="167.6" cy="312.7" r="1.2"/>
<circle cx="171.2" cy="312.9" r="1.2"/>
<circle cx="174.8" cy="312.1" r="1.2"/>
<circle cx="178.3" cy="311.9" r="1.2"/>
<circle cx="181.9" cy="311.2" r="1.2"/>
<circle cx="185.4" cy="310.3" r="1.2"/>
<circle cx="188.6" cy="307.7" r="1.2"/>
<circle cx="191.2" cy="304.9" r="1.2"/>
<circle cx="193.2" cy="301.1" r="1.2"/>
<circle cx="194.8" cy="298" r="1.2"/>
<circle cx="196.2" cy="294.1" r="1.2"/>
<circle cx="197.4" cy="291" r="1.2"/>
<circle cx="198.5" cy="286.9" r="1.2"/>
<circle cx="199.6" cy="284" r="1.2"/>
<circle cx="200.7" cy="280" r="1.2"/>
<circle cx="201.7" cy="276.9" r="1.2"/>
<circle cx="202.8" cy="273.6" r="1.2"/>
<circle cx="204" cy="270.1" r="1.2"/>
<circle cx="205.5" cy="268" r="1.2"/>
<circle cx="207.9" cy="267.4" r="1.2"/>
<circle cx="210.2" cy="272" r="1.2"/>
<circle cx="211.3" cy="275.5" r="1.2"/>
<circle cx="212.4" cy="279.2" r="1.2"/>
<circle cx="213.3" cy="282.8" r="1.2"/>
<circle cx="214.3" cy="286.5" r="1.2"/>
<circle cx="215.3" cy="289.6" r="1.2"/>
<circle cx="216.3" cy="293.2" r="1.2"/>
<circle cx="217.4" cy="296" r="1.2"/>
<circle cx="218.6" cy="299.5" r="1.2"/>
<circle cx="220" cy="302.6" r="1.2"/>
<circle cx="221.7" cy="305.9" r="1.2"/>
<circle cx="223.7" cy="308.3" r="1.2"/>
<circle cx="226.2" cy="310.3" r="1.2"/>
<circle cx="229.2" cy="311.3" r="1.2"/>
<circle cx="232.6" cy="312.6" r="1.2"/>
<circle cx="236.2" cy="313.4" r="1.2"/>
<circle cx="239.7" cy="313.5" r="1.2"/>
<circle cx="243.3" cy="314.1" r="1.2"/>
<circle cx="246.9" cy="314.3" r="1.2"/>
<circle cx="250.5" cy="314.1" r="1.2"/>
<circle cx="254.1" cy="315.1" r="1.2"/>
</g>
<path d="M35.9 309.6 L36.4 309.5 L36.9 309.4 L37.4 309.2 L37.9 309.1 L38.4 309 L38.9 308.9 L39.4 308.7 L39.9 308.6 L40.4 308.4 L40.9 308.3 L41.4 308.2 L41.9 308 L42.4 307.9 L42.9 307.7 L43.4 307.6 L43.9 307.4 L44.4 307.3 L44.9 307.1 L45.4 306.9 L45.9 306.8 L46.4 306.6 L46.9 306.5 L47.4 306.3 L47.9 306.1 L48.4 306 L48.9 305.8 L49.4 305.7 L49.9 305.5 L50.4 305.3 L50.9 305.2 L51.4 305 L51.9 304.9 L52.4 304.7 L52.9 304.5 L53.4 304.4 L53.9 304.2 L54.4 304.1 L54.9 303.9 L55.4 303.8 L55.9 303.7 L56.4 303.5 L56.9 303.4 L57.4 303.3 L57.9 303.1 L58.4 303 L58.9 302.9 L59.4 302.8 L59.9 302.7 L60.4 302.6 L60.9 302.5 L61.4 302.4 L61.9 302.3 L62.4 302.2 L62.9 302.2 L63.4 302.1 L63.9 302.1 L64.4 302 L64.9 302 L65.4 302 L65.9 301.9 L66.4 301.9 L66.9 301.9 L67.4 301.9 L67.9 302 L68.4 302 L68.9 302 L69.4 302.1 L69.9 302.2 L70.4 302.2 L70.9 302.3 L71.4 302.4 L71.9 302.5 L72.4 302.7 L72.9 302.8 L73.4 302.9 L73.9 303.1 L74.4 303.3 L74.9 303.4 L75.4 303.6 L75.9 303.8 L76.4 304 L76.9 304.2 L77.4 304.4 L77.9 304.6 L78.4 304.8 L78.9 305 L79.4 305.2 L79.9 305.4 L80.4 305.7 L80.9 305.9 L81.4 306.1 L81.9 306.3 L82.4 306.5 L82.9 306.8 L83.4 307 L83.9 307.2 L84.4 307.4 L84.9 307.6 L85.4 307.8 L85.9 308.1 L86.4 308.3 L86.9 308.5 L87.4 308.7 L87.9 308.9 L88.4 309.1 L88.9 309.3 L89.4 309.4 L89.9 309.6 L90.4 309.8 L90.9 310 L91.4 310.2 L91.9 310.3 L92.4 310.5 L92.9 310.6 L93.5 310.8 L94 310.9 L94.5 311.1 L95 311.2 L95.5 311.4 L96 311.5 L96.5 311.6 L97 311.8 L97.5 311.9 L98 312 L98.5 312.1 L99 312.2 L99.5 312.3 L100 312.4 L100.5 312.5 L101 312.6 L101.5 312.7 L102 312.8 L102.5 312.8 L103 312.9 L103.5 313 L104 313 L104.5 313.1 L105 313.2 L105.5 313.2 L106 313.3 L106.5 313.4 L107 313.4 L107.5 313.5 L108 313.5 L108.5 313.6 L109 313.6 L109.5 313.6 L110 313.7 L110.5 313.7 L111 313.8 L111.5 313.8 L112 313.8 L112.5 313.9 L113 313.9 L113.5 313.9 L114 313.9 L114.5 314 L115 314 L115.5 314 L116 314.1 L116.5 314.1 L117 314.1 L117.5 314.1 L118 314.1 L118.5 314.2 L119 314.2 L119.5 314.2 L120 314.2 L120.5 314.2 L121 314.3 L121.5 314.3 L122 314.3 L122.5 314.3 L123 314.3 L123.5 314.3 L124 314.3 L124.5 314.4 L125 314.4 L125.5 314.4 L126 314.4 L126.5 314.4 L127 314.4 L127.5 314.4 L128 314.5 L128.5 314.5 L129 314.5 L129.5 314.5 L130 314.5 L130.5 314.5 L131 314.5 L131.5 314.5 L132 314.6 L132.5 314.6 L133 314.6 L133.5 314.6 L134 314.6 L134.5 314.6 L135 314.6 L135.5 314.6 L136 314.6 L136.5 314.6 L137 314.7 L137.5 314.7 L138 314.7 L138.5 314.7 L139 314.7 L139.5 314.7 L140 314.7 L140.5 314.7 L141 314.7 L141.5 314.7 L142 314.8 L142.5 314.8 L143 314.8 L143.5 314.8 L144 314.8 L144.5 314.8 L145 314.8 L145.5 314.8 L146 314.8 L146.5 314.8 L147 314.9 L147.5 314.9 L148 314.9 L148.5 314.9 L149 314.9 L149.5 314.9 L150 314.9" fill="none" stroke="#0d64a8" stroke-width="1.1" stroke-linejoin="round" />
<path d="M35.9 314.1 L36.9 314.1 L37.9 314.1 L38.9 314.1 L39.9 314.2 L40.9 314.2 L41.9 314.2 L42.9 314.2 L43.9 314.2 L44.9 314.2 L45.9 314.2 L46.9 314.3 L47.9 314.3 L48.9 314.3 L49.9 314.3 L50.9 314.3 L51.9 314.3 L52.9 314.3 L53.9 314.4 L54.9 314.4 L55.9 314.4 L56.9 314.4 L57.9 314.4 L59 314.4 L60 314.4 L61 314.4 L62 314.5 L63 314.5 L64 314.5 L65 314.5 L66 314.5 L67 314.5 L68 314.5 L69 314.6 L70 314.6 L71 314.6 L72 314.6 L73 314.6 L74 314.6 L75 314.6 L76 314.7 L77 314.7 L78 314.7 L79 314.7 L80 314.7 L81 314.7 L82 314.7 L83 314.8 L84 314.8 L85 314.8 L86 314.8 L87 314.8 L88 314.8 L89 314.8 L90 314.9 L91 314.9 L92 314.9 L93 314.9 L94 314.9 L95 314.9 L96 314.9 L97 315 L98 315 L99 315 L100 315 L101 315 L102 315 L103.1 315 L104.1 315 L105.1 315.1 L106.1 315.1 L107.1 315.1 L108.1 315.1 L109.1 315.1 L110.1 315.1 L111.1 315.1 L112.1 315.2 L113.1 315.2 L114.1 315.2 L115.1 315.2 L116.1 315.2 L117.1 315.2 L118.1 315.2 L119.1 315.3 L120.1 315.3 L121.1 315.3 L122.1 315.3 L123.1 315.3 L124.1 315.3 L125.1 315.3 L126.1 315.4 L127.1 315.4 L128.1 315.4 L129.1 315.4 L130.1 315.4 L131.1 315.4 L132.1 315.4 L133.1 315.5 L134.1 315.5 L135.1 315.5 L136.1 315.5 L137.1 315.5 L138.1 315.5 L139.1 315.5 L140.1 315.6 L141.1 315.6 L142.1 315.6 L143.1 315.6 L144.1 315.6 L145.1 315.6 L146.1 315.6 L147.1 315.7 L148.2 315.7 L149.2 315.7 L150.2 315.7 L151.2 315.7 L152.2 315.7 L153.2 315.7 L154.2 315.7 L155.2 315.8 L156.2 315.8 L157.2 315.8 L158.2 315.8 L159.2 315.8 L160.2 315.8 L161.2 315.8 L162.2 315.9 L163.2 315.9 L164.2 315.9 L165.2 315.9 L166.2 315.9 L167.2 315.9 L168.2 315.9 L169.2 316 L170.2 316 L171.2 316 L172.2 316 L173.2 316 L174.2 316 L175.2 316 L176.2 316.1 L177.2 316.1 L178.2 316.1 L179.2 316.1 L180.2 316.1 L181.2 316.1 L182.2 316.1 L183.2 316.2 L184.2 316.2 L185.2 316.2 L186.2 316.2 L187.2 316.2 L188.2 316.2 L189.2 316.2 L190.2 316.3 L191.2 316.3 L192.3 316.3 L193.3 316.3 L194.3 316.3 L195.3 316.3 L196.3 316.3 L197.3 316.3 L198.3 316.4 L199.3 316.4 L200.3 316.4 L201.3 316.4 L202.3 316.4 L203.3 316.4 L204.3 316.4 L205.3 316.5 L206.3 316.5 L207.3 316.5 L208.3 316.5 L209.3 316.5 L210.3 316.5 L211.3 316.5 L212.3 316.6 L213.3 316.6 L214.3 316.6 L215.3 316.6 L216.3 316.6 L217.3 316.6 L218.3 316.6 L219.3 316.7 L220.3 316.7 L221.3 316.7 L222.3 316.7 L223.3 316.7 L224.3 316.7 L225.3 316.7 L226.3 316.8 L227.3 316.8 L228.3 316.8 L229.3 316.8 L230.3 316.8 L231.3 316.8 L232.3 316.8 L233.3 316.9 L234.3 316.9 L235.3 316.9 L236.4 316.9 L237.4 316.9 L238.4 316.9 L239.4 316.9 L240.4 316.9 L241.4 317 L242.4 317 L243.4 317 L244.4 317 L245.4 317 L246.4 317 L247.4 317 L248.4 317.1 L249.4 317.1 L250.4 317.1 L251.4 317.1 L252.4 317.1 L253.4 317.1 L254.4 317.1 L255.4 317.2 L256.4 317.2 L257.4 317.2 L258.4 317.2" fill="none" stroke="#1888b5" stroke-width="1.0" stroke-linejoin="round" />
<path d="M35.9 313 L36.4 313 L36.9 313 L37.4 313 L37.9 313.1 L38.4 313.1 L38.9 313.1 L39.4 313.1 L39.9 313.1 L40.4 313.1 L40.9 313.1 L41.4 313.1 L41.9 313.1 L42.4 313.1 L42.9 313.1 L43.4 313.1 L43.9 313.1 L44.4 313.1 L44.9 313.1 L45.4 313.1 L45.9 313.2 L46.4 313.2 L46.9 313.2 L47.4 313.2 L47.9 313.2 L48.4 313.2 L48.9 313.2 L49.4 313.2 L49.9 313.2 L50.4 313.2 L50.9 313.2 L51.4 313.2 L51.9 313.2 L52.4 313.2 L52.9 313.2 L53.4 313.3 L53.9 313.3 L54.4 313.3 L54.9 313.3 L55.4 313.3 L55.9 313.3 L56.4 313.3 L56.9 313.3 L57.4 313.3 L57.9 313.3 L58.4 313.3 L58.9 313.3 L59.4 313.3 L59.9 313.3 L60.4 313.3 L60.9 313.3 L61.4 313.4 L61.9 313.4 L62.4 313.4 L62.9 313.4 L63.4 313.4 L63.9 313.4 L64.4 313.4 L64.9 313.4 L65.4 313.4 L65.9 313.4 L66.4 313.4 L66.9 313.4 L67.4 313.4 L67.9 313.4 L68.4 313.4 L68.9 313.4 L69.4 313.5 L69.9 313.5 L70.4 313.5 L70.9 313.5 L71.4 313.5 L71.9 313.5 L72.4 313.5 L72.9 313.5 L73.4 313.5 L73.9 313.5 L74.4 313.5 L74.9 313.5 L75.4 313.5 L75.9 313.5 L76.4 313.5 L76.9 313.5 L77.4 313.6 L77.9 313.6 L78.4 313.6 L78.9 313.6 L79.4 313.6 L79.9 313.6 L80.4 313.6 L80.9 313.6 L81.4 313.6 L81.9 313.6 L82.4 313.6 L82.9 313.6 L83.4 313.6 L83.9 313.6 L84.4 313.6 L84.9 313.6 L85.4 313.6 L85.9 313.6 L86.4 313.7 L86.9 313.7 L87.4 313.7 L87.9 313.7 L88.4 313.7 L88.9 313.7 L89.4 313.7 L89.9 313.7 L90.4 313.7 L90.9 313.7 L91.4 313.7 L91.9 313.7 L92.4 313.7 L92.9 313.7 L93.4 313.7 L93.9 313.7 L94.4 313.7 L94.9 313.8 L95.4 313.8 L95.9 313.8 L96.4 313.8 L96.9 313.8 L97.4 313.8 L97.9 313.8 L98.4 313.8 L98.9 313.8 L99.4 313.8 L99.9 313.8 L100.4 313.8 L100.9 313.8 L101.4 313.8 L101.9 313.8 L102.4 313.8 L102.9 313.8 L103.4 313.8 L103.9 313.8 L104.4 313.9 L104.9 313.9 L105.4 313.9 L105.9 313.9 L106.4 313.9 L106.9 313.9 L107.4 313.9 L107.9 313.9 L108.4 313.9 L108.9 313.9 L109.4 313.9 L109.9 313.9 L110.4 313.9 L110.9 313.9 L111.4 313.9 L111.9 313.9 L112.4 313.9 L112.9 313.9 L113.4 313.9 L113.9 313.9 L114.4 313.9 L114.9 313.9 L115.4 314 L115.9 314 L116.4 314 L116.9 314 L117.4 314 L117.9 314 L118.4 314 L118.9 314 L119.4 314 L119.9 314 L120.4 314 L120.9 314 L121.4 314 L121.9 314 L122.4 314 L122.9 314 L123.4 314 L123.9 314 L124.4 314 L124.9 314 L125.4 314 L125.9 314 L126.4 314 L126.9 314 L127.4 314 L127.9 314 L128.4 314 L128.9 314 L129.4 314 L129.9 314.1 L130.4 314.1 L130.9 314.1 L131.4 314.1 L131.9 314.1 L132.4 314.1 L132.9 314.1 L133.4 314.1 L133.9 314.1 L134.4 314.1 L134.9 314.1 L135.4 314.1 L135.9 314.1 L136.4 314.1 L136.9 314.1 L137.4 314.1 L137.9 314.1 L138.4 314.1 L138.9 314.1 L139.4 314.1 L139.9 314.1 L140.4 314.1 L140.9 314.1 L141.4 314.1 L141.9 314.1 L142.4 314.1 L142.9 314.1 L143.4 314.1 L143.9 314.1 L144.4 314.1 L144.9 314.1 L145.4 314.1 L145.9 314.1 L146.4 314.1 L146.9 314.1 L147.4 314.1 L147.9 314.1 L148.4 314.1 L148.9 314 L149.4 314 L149.9 314 L150.4 314 L150.9 314 L151.4 314 L151.9 314 L152.4 314 L152.9 314 L153.4 314 L153.9 314 L154.4 314 L154.9 314 L155.4 314 L155.9 314 L156.4 314 L156.9 314 L157.4 313.9 L157.9 313.9 L158.4 313.9 L158.9 313.9 L159.4 313.9 L159.9 313.9 L160.4 313.9 L160.9 313.9 L161.4 313.8 L161.9 313.8 L162.4 313.8 L162.9 313.8 L163.4 313.8 L163.9 313.8 L164.4 313.8 L164.9 313.7 L165.4 313.7 L165.9 313.7 L166.4 313.7 L166.9 313.6 L167.4 313.6 L167.9 313.6 L168.4 313.6 L168.9 313.5 L169.4 313.5 L169.9 313.5 L170.4 313.5 L170.9 313.4 L171.4 313.4 L171.9 313.3 L172.4 313.3 L172.9 313.3 L173.4 313.2 L173.9 313.2 L174.4 313.1 L174.9 313.1 L175.4 313 L175.9 313 L176.4 312.9 L176.9 312.9 L177.4 312.8 L177.9 312.7 L178.4 312.6 L178.9 312.6 L179.4 312.5 L179.9 312.4 L180.4 312.3 L180.9 312.2 L181.4 312 L181.9 311.9 L182.4 311.8 L182.9 311.6 L183.4 311.4 L183.9 311.3 L184.4 311.1 L184.9 310.8 L185.4 310.6 L185.9 310.3 L186.4 310 L186.9 309.7 L187.4 309.3 L187.9 308.9 L188.4 308.5 L188.9 308 L189.4 307.5 L189.9 306.9 L190.4 306.3 L190.9 305.7 L191.4 304.9 L191.9 304.2 L192.4 303.3 L192.9 302.4 L193.4 301.5 L193.9 300.4 L194.4 299.3 L194.9 298.2 L195.4 296.9 L195.9 295.6 L196.4 294.3 L196.9 292.9 L197.4 291.4 L197.9 289.9 L198.4 288.3 L198.9 286.7 L199.4 285.1 L199.9 283.4 L200.4 281.8 L200.9 280.1 L201.4 278.5 L201.9 276.9 L202.4 275.4 L202.9 273.9 L203.4 272.5 L203.9 271.3 L204.4 270.2 L204.9 269.3 L205.4 268.6 L205.9 268 L206.4 267.7 L206.9 267.6 L207.4 267.7 L207.9 268.1 L208.4 268.8 L208.9 269.7 L209.4 270.7 L209.9 272 L210.4 273.4 L210.9 275 L211.4 276.7 L211.9 278.4 L212.4 280.2 L212.9 282 L213.4 283.8 L213.9 285.6 L214.4 287.4 L214.9 289.1 L215.4 290.8 L215.9 292.5 L216.4 294 L216.9 295.6 L217.4 297 L217.9 298.3 L218.4 299.6 L218.9 300.8 L219.4 302 L219.9 303 L220.4 304 L220.9 304.9 L221.4 305.7 L221.9 306.5 L222.4 307.2 L222.9 307.8 L223.4 308.4 L223.9 309 L224.4 309.4 L224.9 309.9 L225.4 310.3 L225.9 310.6 L226.4 311 L226.9 311.3 L227.4 311.5 L227.9 311.8 L228.4 312 L228.9 312.2 L229.4 312.4 L229.9 312.6 L230.4 312.7 L230.9 312.9 L231.4 313 L231.9 313.1 L232.4 313.2 L232.9 313.4 L233.4 313.5 L233.9 313.5 L234.4 313.6 L234.9 313.7 L235.4 313.8 L235.9 313.9 L236.4 313.9 L236.9 314 L237.4 314.1 L237.9 314.1 L238.4 314.2 L238.9 314.3 L239.4 314.3 L239.9 314.4 L240.4 314.4 L240.9 314.5 L241.4 314.5 L241.9 314.6 L242.4 314.6 L242.9 314.6 L243.4 314.7 L243.9 314.7 L244.4 314.8 L244.9 314.8 L245.4 314.8 L245.9 314.9 L246.4 314.9 L246.9 314.9 L247.4 315 L247.9 315 L248.4 315 L248.9 315.1 L249.4 315.1 L249.9 315.1 L250.4 315.2 L250.9 315.2 L251.4 315.2 L251.9 315.2 L252.4 315.3 L252.9 315.3 L253.4 315.3 L253.9 315.3 L254.4 315.4 L254.9 315.4 L255.4 315.4 L255.9 315.4 L256.4 315.4 L256.9 315.5 L257.4 315.5 L257.9 315.5 L258.4 315.5" fill="none" stroke="#4cb030" stroke-width="1.3" stroke-linejoin="round" />
<path d="M35.9 397.1 L36.9 397.2 L37.9 397.2 L38.9 397.2 L39.9 397.2 L40.9 397.3 L41.9 397.3 L42.9 397.3 L43.9 397.4 L44.9 397.4 L45.9 397.4 L46.9 397.5 L47.9 397.5 L48.9 397.5 L49.9 397.6 L50.9 397.6 L51.9 397.6 L52.9 397.7 L53.9 397.7 L54.9 397.7 L55.9 397.7 L56.9 397.8 L57.9 397.8 L59 397.8 L60 397.9 L61 397.9 L62 397.9 L63 398 L64 398 L65 398 L66 398.1 L67 398.1 L68 398.1 L69 398.2 L70 398.2 L71 398.2 L72 398.2 L73 398.3 L74 398.3 L75 398.3 L76 398.4 L77 398.4 L78 398.4 L79 398.5 L80 398.5 L81 398.5 L82 398.5 L83 398.6 L84 398.6 L85 398.6 L86 398.7 L87 398.7 L88 398.7 L89 398.8 L90 398.8 L91 398.8 L92 398.8 L93 398.9 L94 398.9 L95 398.9 L96 399 L97 399 L98 399 L99 399.1 L100 399.1 L101 399.1 L102 399.1 L103.1 399.2 L104.1 399.2 L105.1 399.2 L106.1 399.3 L107.1 399.3 L108.1 399.3 L109.1 399.3 L110.1 399.4 L111.1 399.4 L112.1 399.4 L113.1 399.5 L114.1 399.5 L115.1 399.5 L116.1 399.5 L117.1 399.6 L118.1 399.6 L119.1 399.6 L120.1 399.6 L121.1 399.7 L122.1 399.7 L123.1 399.7 L124.1 399.7 L125.1 399.8 L126.1 399.8 L127.1 399.8 L128.1 399.8 L129.1 399.9 L130.1 399.9 L131.1 399.9 L132.1 399.9 L133.1 400 L134.1 400 L135.1 400 L136.1 400 L137.1 400.1 L138.1 400.1 L139.1 400.1 L140.1 400.1 L141.1 400.1 L142.1 400.2 L143.1 400.2 L144.1 400.2 L145.1 400.2 L146.1 400.2 L147.1 400.3 L148.2 400.3 L149.2 400.3 L150.2 400.3 L151.2 400.3 L152.2 400.3 L153.2 400.3 L154.2 400.3 L155.2 400.4 L156.2 400.4 L157.2 400.4 L158.2 400.4 L159.2 400.4 L160.2 400.4 L161.2 400.4 L162.2 400.4 L163.2 400.4 L164.2 400.4 L165.2 400.4 L166.2 400.4 L167.2 400.4 L168.2 400.3 L169.2 400.3 L170.2 400.3 L171.2 400.3 L172.2 400.2 L173.2 400.2 L174.2 400.2 L175.2 400.1 L176.2 400.1 L177.2 400 L178.2 399.9 L179.2 399.8 L180.2 399.7 L181.2 399.5 L182.2 399.4 L183.2 399.1 L184.2 398.9 L185.2 398.5 L186.2 398.1 L187.2 397.6 L188.2 397.1 L189.2 396.4 L190.2 395.5 L191.2 394.5 L192.3 393.4 L193.3 392 L194.3 390.5 L195.3 388.7 L196.3 386.7 L197.3 384.5 L198.3 382 L199.3 379.4 L200.3 376.5 L201.3 373.4 L202.3 370.1 L203.3 366.8 L204.3 363.4 L205.3 360 L206.3 356.7 L207.3 353.6 L208.3 350.7 L209.3 348.2 L210.3 346.1 L211.3 344.6 L212.3 343.7 L213.3 343.4 L214.3 343.9 L215.3 345.2 L216.3 347.1 L217.3 349.6 L218.3 352.6 L219.3 355.9 L220.3 359.4 L221.3 363.1 L222.3 366.8 L223.3 370.4 L224.3 374 L225.3 377.3 L226.3 380.5 L227.3 383.4 L228.3 386 L229.3 388.4 L230.3 390.5 L231.3 392.4 L232.3 394 L233.3 395.4 L234.3 396.6 L235.3 397.6 L236.4 398.5 L237.4 399.2 L238.4 399.8 L239.4 400.3 L240.4 400.7 L241.4 401 L242.4 401.3 L243.4 401.6 L244.4 401.8 L245.4 402 L246.4 402.2 L247.4 402.3 L248.4 402.5 L249.4 402.6 L250.4 402.7 L251.4 402.8 L252.4 402.9 L253.4 403 L254.4 403.1 L255.4 403.2 L256.4 403.2 L257.4 403.3 L258.4 403.4 L258.4 404.4 L254.4 404.3 L250.5 404.1 L246.5 404 L242.5 403.9 L238.5 403.8 L234.6 403.6 L230.6 403.5 L226.6 403.4 L222.6 403.2 L218.7 403.1 L214.7 403 L210.7 402.9 L206.7 402.7 L202.8 402.6 L198.8 402.5 L194.8 402.3 L190.9 402.2 L186.9 402.1 L182.9 402 L178.9 401.8 L175 401.7 L171 401.6 L167 401.4 L163 401.3 L159.1 401.2 L155.1 401.1 L151.1 400.9 L147.1 400.8 L143.2 400.7 L139.2 400.5 L135.2 400.4 L131.3 400.3 L127.3 400.2 L123.3 400 L119.3 399.9 L115.4 399.8 L111.4 399.6 L107.4 399.5 L103.4 399.4 L99.5 399.3 L95.5 399.1 L91.5 399 L87.6 398.9 L83.6 398.7 L79.6 398.6 L75.6 398.5 L71.7 398.4 L67.7 398.2 L63.7 398.1 L59.7 398 L55.8 397.8 L51.8 397.7 L47.8 397.6 L43.8 397.5 L39.9 397.3 L35.9 397.2Z" fill="url(#g10)" fill-opacity="1"/>
<path d="M130 400 L131 400 L132 400.1 L133 400.1 L134 400.1 L135 400.1 L136 400.1 L137 400.1 L138 400.1 L139 400.1 L140 400.1 L141 400.1 L142 400.1 L143 400.1 L144 400.1 L145 400.1 L146.1 400.1 L147.1 400.1 L148.1 400.1 L149.1 400 L150.1 400 L151.1 400 L152.1 400 L153.1 400 L154.1 400 L155.1 400 L156.1 399.9 L157.1 399.9 L158.1 399.9 L159.1 399.9 L160.1 399.9 L161.1 399.8 L162.1 399.8 L163.1 399.8 L164.1 399.8 L165.1 399.8 L166.1 399.7 L167.1 399.7 L168.1 399.7 L169.1 399.7 L170.1 399.7 L171.1 399.7 L172.1 399.7 L173.1 399.7 L174.1 399.7 L175.1 399.7 L176.1 399.7 L177.1 399.7 L178.1 399.7 L179.2 399.7 L180.2 399.7 L181.2 399.7 L182.2 399.7 L183.2 399.8 L184.2 399.8 L185.2 399.8 L186.2 399.9 L187.2 399.9 L188.2 400 L189.2 400.1 L190.2 400.2 L191.2 400.3 L192.2 400.4 L193.2 400.5 L194.2 400.6 L195.2 400.8 L196.2 400.9 L197.2 401 L198.2 401.2 L199.2 401.3 L200.2 401.4 L201.2 401.6 L202.2 401.7 L203.2 401.8 L204.2 401.9 L205.2 402.1 L206.2 402.2 L207.2 402.3 L208.2 402.4 L209.2 402.4 L210.2 402.5 L211.3 402.6 L212.3 402.7 L213.3 402.8 L214.3 402.8 L215.3 402.9 L216.3 402.9 L217.3 403 L218.3 403 L219.3 403.1 L220.3 403.1 L220.3 403.2 L216.4 403 L212.4 402.9 L208.5 402.8 L204.6 402.7 L200.7 402.5 L196.7 402.4 L192.8 402.3 L188.9 402.2 L185 402 L181 401.9 L177.1 401.8 L173.2 401.6 L169.3 401.5 L165.3 401.4 L161.4 401.3 L157.5 401.1 L153.6 401 L149.6 400.9 L145.7 400.8 L141.8 400.6 L137.9 400.5 L133.9 400.4 L130 400.2Z" fill="#a8e0d0" fill-opacity="0.8"/>
<path d="M35.9 393.8 L36.9 393.6 L37.9 393.4 L38.9 393.2 L39.9 393 L40.9 392.7 L41.9 392.4 L42.9 392.2 L43.9 391.9 L44.9 391.6 L45.9 391.2 L46.9 390.9 L47.9 390.6 L48.9 390.2 L49.9 389.9 L50.9 389.5 L51.9 389.1 L52.9 388.7 L53.9 388.3 L54.9 387.9 L55.9 387.5 L56.9 387.1 L57.9 386.7 L58.9 386.3 L59.9 385.9 L60.9 385.5 L61.9 385.2 L62.9 384.8 L63.9 384.5 L64.9 384.1 L65.9 383.8 L66.9 383.6 L67.9 383.3 L68.9 383.1 L69.9 382.9 L70.9 382.7 L71.9 382.6 L72.9 382.5 L73.9 382.5 L74.9 382.5 L75.9 382.5 L76.9 382.6 L77.9 382.8 L78.9 383 L79.9 383.3 L80.9 383.6 L81.9 384 L82.9 384.4 L83.9 384.8 L84.9 385.3 L85.9 385.8 L86.9 386.4 L87.9 386.9 L88.9 387.5 L89.9 388 L90.9 388.6 L91.9 389.2 L92.9 389.8 L93.9 390.3 L94.9 390.9 L95.9 391.4 L96.9 391.9 L97.9 392.5 L99 392.9 L100 393.4 L101 393.9 L102 394.3 L103 394.7 L104 395.1 L105 395.5 L106 395.8 L107 396.1 L108 396.4 L109 396.7 L110 397 L111 397.2 L112 397.5 L113 397.7 L114 397.9 L115 398 L116 398.2 L117 398.4 L118 398.5 L119 398.6 L120 398.8 L121 398.9 L122 399 L123 399.1 L124 399.2 L125 399.3 L126 399.3 L127 399.4 L128 399.5 L129 399.5 L130 399.6 L131 399.7 L132 399.7 L133 399.8 L134 399.8 L135 399.9 L136 399.9 L137 400 L138 400 L139 400.1 L140 400.1 L141 400.2 L142 400.2 L143 400.3 L144 400.3 L145 400.4 L146 400.4 L147 400.4 L148 400.5 L149 400.5 L150 400.6 L151 400.6 L152 400.6 L153 400.7 L154 400.7 L155 400.8 L156 400.8 L157 400.8 L158 400.9 L159 400.9 L160 401 L160 401.2 L156 401.1 L152 401 L148 400.8 L144 400.7 L140 400.6 L136 400.4 L132 400.3 L128 400.2 L124 400 L120 399.9 L116 399.8 L112 399.7 L108 399.5 L104 399.4 L100 399.3 L95.9 399.1 L91.9 399 L87.9 398.9 L83.9 398.8 L79.9 398.6 L75.9 398.5 L71.9 398.4 L67.9 398.2 L63.9 398.1 L59.9 398 L55.9 397.8 L51.9 397.7 L47.9 397.6 L43.9 397.5 L39.9 397.3 L35.9 397.2Z" fill="url(#g11)" fill-opacity="1"/>
<g fill="#fff" fill-opacity="0.5" stroke="#aaaaaa" stroke-width="0.5">
<circle cx="36.9" cy="392.8" r="1.2"/>
<circle cx="40.4" cy="391.5" r="1.2"/>
<circle cx="43.9" cy="390.9" r="1.2"/>
<circle cx="47.4" cy="389.5" r="1.2"/>
<circle cx="50.8" cy="388.3" r="1.2"/>
<circle cx="54.1" cy="387.2" r="1.2"/>
<circle cx="57.5" cy="385.6" r="1.2"/>
<circle cx="60.8" cy="384.3" r="1.2"/>
<circle cx="64.2" cy="383.2" r="1.2"/>
<circle cx="67.6" cy="382.4" r="1.2"/>
<circle cx="71.1" cy="381.4" r="1.2"/>
<circle cx="74.7" cy="381.1" r="1.2"/>
<circle cx="78.3" cy="381.8" r="1.2"/>
<circle cx="81.8" cy="382.5" r="1.2"/>
<circle cx="85.2" cy="384.4" r="1.2"/>
<circle cx="88.5" cy="385.6" r="1.2"/>
<circle cx="91.7" cy="387.2" r="1.2"/>
<circle cx="95" cy="388.3" r="1.2"/>
<circle cx="98.4" cy="389.8" r="1.2"/>
<circle cx="101.8" cy="390.2" r="1.2"/>
<circle cx="105.3" cy="391.2" r="1.2"/>
<circle cx="108.8" cy="392.1" r="1.2"/>
<circle cx="112.2" cy="393.6" r="1.2"/>
<circle cx="115.7" cy="394.6" r="1.2"/>
<circle cx="119.2" cy="395.1" r="1.2"/>
<circle cx="122.7" cy="396.1" r="1.2"/>
<circle cx="126.2" cy="397.2" r="1.2"/>
<circle cx="129.7" cy="397.6" r="1.2"/>
<circle cx="133.3" cy="397.7" r="1.2"/>
<circle cx="136.8" cy="398.1" r="1.2"/>
<circle cx="140.4" cy="398.3" r="1.2"/>
<circle cx="144" cy="398.5" r="1.2"/>
<circle cx="147.6" cy="398.8" r="1.2"/>
<circle cx="151.2" cy="398.6" r="1.2"/>
<circle cx="154.8" cy="399.4" r="1.2"/>
<circle cx="158.4" cy="399.1" r="1.2"/>
<circle cx="162" cy="399.2" r="1.2"/>
<circle cx="165.6" cy="399.3" r="1.2"/>
<circle cx="169.2" cy="399.3" r="1.2"/>
<circle cx="172.8" cy="399.3" r="1.2"/>
<circle cx="176.4" cy="398.8" r="1.2"/>
<circle cx="180" cy="398.4" r="1.2"/>
<circle cx="183.6" cy="397.8" r="1.2"/>
<circle cx="187.1" cy="396.2" r="1.2"/>
<circle cx="190.2" cy="394.3" r="1.2"/>
<circle cx="192.9" cy="391.6" r="1.2"/>
<circle cx="195" cy="388.5" r="1.2"/>
<circle cx="196.7" cy="384.9" r="1.2"/>
<circle cx="198.2" cy="381.3" r="1.2"/>
<circle cx="199.5" cy="377.8" r="1.2"/>
<circle cx="200.7" cy="373.8" r="1.2"/>
<circle cx="201.8" cy="370.5" r="1.2"/>
<circle cx="202.8" cy="367.1" r="1.2"/>
<circle cx="203.9" cy="363.8" r="1.2"/>
<circle cx="204.9" cy="360" r="1.2"/>
<circle cx="205.9" cy="356.8" r="1.2"/>
<circle cx="207" cy="353.5" r="1.2"/>
<circle cx="208.1" cy="350.4" r="1.2"/>
<circle cx="209.3" cy="347.3" r="1.2"/>
<circle cx="210.8" cy="344.3" r="1.2"/>
<circle cx="212.8" cy="342.1" r="1.2"/>
<circle cx="216.4" cy="346.5" r="1.2"/>
<circle cx="217.8" cy="350.3" r="1.2"/>
<circle cx="218.9" cy="353.6" r="1.2"/>
<circle cx="220" cy="357" r="1.2"/>
<circle cx="220.9" cy="360.6" r="1.2"/>
<circle cx="221.9" cy="363.8" r="1.2"/>
<circle cx="222.8" cy="367.7" r="1.2"/>
<circle cx="223.8" cy="371.4" r="1.2"/>
<circle cx="224.8" cy="374.4" r="1.2"/>
<circle cx="225.8" cy="377.9" r="1.2"/>
<circle cx="226.9" cy="381.3" r="1.2"/>
<circle cx="228.1" cy="384.1" r="1.2"/>
<circle cx="229.4" cy="387.9" r="1.2"/>
<circle cx="230.9" cy="390.6" r="1.2"/>
<circle cx="232.6" cy="393.1" r="1.2"/>
<circle cx="234.7" cy="395.6" r="1.2"/>
<circle cx="237.3" cy="397.9" r="1.2"/>
<circle cx="240.3" cy="399.7" r="1.2"/>
<circle cx="243.7" cy="400.8" r="1.2"/>
<circle cx="247.2" cy="401.1" r="1.2"/>
<circle cx="250.8" cy="402" r="1.2"/>
<circle cx="254.3" cy="401.9" r="1.2"/>
</g>
<path d="M35.9 393.8 L36.4 393.7 L36.9 393.6 L37.4 393.5 L37.9 393.4 L38.4 393.3 L38.9 393.2 L39.4 393.1 L39.9 393 L40.4 392.8 L40.9 392.7 L41.4 392.6 L41.9 392.4 L42.4 392.3 L42.9 392.2 L43.4 392 L43.9 391.9 L44.4 391.7 L44.9 391.6 L45.4 391.4 L45.9 391.2 L46.4 391.1 L46.9 390.9 L47.4 390.7 L47.9 390.6 L48.4 390.4 L48.9 390.2 L49.4 390 L49.9 389.9 L50.4 389.7 L50.9 389.5 L51.4 389.3 L51.9 389.1 L52.4 388.9 L52.9 388.7 L53.4 388.5 L53.9 388.3 L54.4 388.1 L54.9 387.9 L55.4 387.7 L55.9 387.5 L56.4 387.3 L56.9 387.1 L57.4 386.9 L57.9 386.7 L58.4 386.5 L58.9 386.3 L59.4 386.1 L59.9 385.9 L60.4 385.7 L60.9 385.5 L61.4 385.4 L61.9 385.2 L62.4 385 L62.9 384.8 L63.4 384.6 L63.9 384.5 L64.4 384.3 L64.9 384.1 L65.4 384 L65.9 383.8 L66.4 383.7 L66.9 383.6 L67.4 383.4 L67.9 383.3 L68.4 383.2 L68.9 383.1 L69.4 383 L69.9 382.9 L70.4 382.8 L70.9 382.7 L71.4 382.7 L71.9 382.6 L72.4 382.6 L72.9 382.5 L73.4 382.5 L73.9 382.5 L74.4 382.5 L74.9 382.5 L75.4 382.5 L75.9 382.5 L76.4 382.5 L76.9 382.6 L77.4 382.7 L77.9 382.8 L78.4 382.9 L78.9 383 L79.4 383.1 L79.9 383.3 L80.4 383.4 L80.9 383.6 L81.4 383.8 L81.9 384 L82.4 384.2 L82.9 384.4 L83.4 384.6 L83.9 384.8 L84.4 385.1 L84.9 385.3 L85.4 385.6 L85.9 385.8 L86.4 386.1 L86.9 386.4 L87.4 386.6 L87.9 386.9 L88.4 387.2 L88.9 387.5 L89.4 387.8 L89.9 388 L90.4 388.3 L90.9 388.6 L91.4 388.9 L91.9 389.2 L92.4 389.5 L92.9 389.8 L93.4 390 L93.9 390.3 L94.4 390.6 L94.9 390.9 L95.4 391.2 L95.9 391.4 L96.4 391.7 L96.9 391.9 L97.4 392.2 L97.9 392.5 L98.5 392.7 L99 392.9 L99.5 393.2 L100 393.4 L100.5 393.6 L101 393.9 L101.5 394.1 L102 394.3 L102.5 394.5 L103 394.7 L103.5 394.9 L104 395.1 L104.5 395.3 L105 395.5 L105.5 395.6 L106 395.8 L106.5 396 L107 396.1 L107.5 396.3 L108 396.4 L108.5 396.6 L109 396.7 L109.5 396.8 L110 397 L110.5 397.1 L111 397.2 L111.5 397.3 L112 397.5 L112.5 397.6 L113 397.7 L113.5 397.8 L114 397.9 L114.5 397.9 L115 398 L115.5 398.1 L116 398.2 L116.5 398.3 L117 398.4 L117.5 398.4 L118 398.5 L118.5 398.6 L119 398.6 L119.5 398.7 L120 398.8 L120.5 398.8 L121 398.9 L121.5 398.9 L122 399 L122.5 399 L123 399.1 L123.5 399.1 L124 399.2 L124.5 399.2 L125 399.3 L125.5 399.3 L126 399.3 L126.5 399.4 L127 399.4 L127.5 399.4 L128 399.5 L128.5 399.5 L129 399.5 L129.5 399.6 L130 399.6 L130.5 399.6 L131 399.7 L131.5 399.7 L132 399.7 L132.5 399.8 L133 399.8 L133.5 399.8 L134 399.8 L134.5 399.9 L135 399.9 L135.5 399.9 L136 399.9 L136.5 400 L137 400 L137.5 400 L138 400 L138.5 400.1 L139 400.1 L139.5 400.1 L140 400.1 L140.5 400.2 L141 400.2 L141.5 400.2 L142 400.2 L142.5 400.3 L143 400.3 L143.5 400.3 L144 400.3 L144.5 400.3 L145 400.4 L145.5 400.4 L146 400.4 L146.5 400.4 L147 400.4 L147.5 400.5 L148 400.5 L148.5 400.5 L149 400.5 L149.5 400.5 L150 400.6 L150.5 400.6 L151 400.6 L151.5 400.6 L152 400.6 L152.5 400.7 L153 400.7 L153.5 400.7 L154 400.7 L154.5 400.7 L155 400.8 L155.5 400.8 L156 400.8 L156.5 400.8 L157 400.8 L157.5 400.9 L158 400.9 L158.5 400.9 L159 400.9 L159.5 400.9 L160 401" fill="none" stroke="#0d64a8" stroke-width="1.1" stroke-linejoin="round" />
<path d="M35.9 397.8 L36.9 397.8 L37.9 397.9 L38.9 397.9 L39.9 397.9 L40.9 398 L41.9 398 L42.9 398 L43.9 398.1 L44.9 398.1 L45.9 398.1 L46.9 398.2 L47.9 398.2 L48.9 398.2 L49.9 398.3 L50.9 398.3 L51.9 398.3 L52.9 398.4 L53.9 398.4 L54.9 398.4 L55.9 398.4 L56.9 398.5 L57.9 398.5 L59 398.5 L60 398.6 L61 398.6 L62 398.6 L63 398.7 L64 398.7 L65 398.7 L66 398.8 L67 398.8 L68 398.8 L69 398.9 L70 398.9 L71 398.9 L72 399 L73 399 L74 399 L75 399.1 L76 399.1 L77 399.1 L78 399.2 L79 399.2 L80 399.2 L81 399.3 L82 399.3 L83 399.3 L84 399.4 L85 399.4 L86 399.4 L87 399.5 L88 399.5 L89 399.5 L90 399.6 L91 399.6 L92 399.6 L93 399.6 L94 399.7 L95 399.7 L96 399.7 L97 399.8 L98 399.8 L99 399.8 L100 399.9 L101 399.9 L102 399.9 L103.1 400 L104.1 400 L105.1 400 L106.1 400.1 L107.1 400.1 L108.1 400.1 L109.1 400.2 L110.1 400.2 L111.1 400.2 L112.1 400.3 L113.1 400.3 L114.1 400.3 L115.1 400.4 L116.1 400.4 L117.1 400.4 L118.1 400.5 L119.1 400.5 L120.1 400.5 L121.1 400.6 L122.1 400.6 L123.1 400.6 L124.1 400.7 L125.1 400.7 L126.1 400.7 L127.1 400.8 L128.1 400.8 L129.1 400.8 L130.1 400.8 L131.1 400.9 L132.1 400.9 L133.1 400.9 L134.1 401 L135.1 401 L136.1 401 L137.1 401.1 L138.1 401.1 L139.1 401.1 L140.1 401.2 L141.1 401.2 L142.1 401.2 L143.1 401.3 L144.1 401.3 L145.1 401.3 L146.1 401.4 L147.1 401.4 L148.2 401.4 L149.2 401.5 L150.2 401.5 L151.2 401.5 L152.2 401.6 L153.2 401.6 L154.2 401.6 L155.2 401.7 L156.2 401.7 L157.2 401.7 L158.2 401.8 L159.2 401.8 L160.2 401.8 L161.2 401.9 L162.2 401.9 L163.2 401.9 L164.2 402 L165.2 402 L166.2 402 L167.2 402 L168.2 402.1 L169.2 402.1 L170.2 402.1 L171.2 402.2 L172.2 402.2 L173.2 402.2 L174.2 402.3 L175.2 402.3 L176.2 402.3 L177.2 402.4 L178.2 402.4 L179.2 402.4 L180.2 402.5 L181.2 402.5 L182.2 402.5 L183.2 402.6 L184.2 402.6 L185.2 402.6 L186.2 402.7 L187.2 402.7 L188.2 402.7 L189.2 402.8 L190.2 402.8 L191.2 402.8 L192.3 402.9 L193.3 402.9 L194.3 402.9 L195.3 403 L196.3 403 L197.3 403 L198.3 403.1 L199.3 403.1 L200.3 403.1 L201.3 403.2 L202.3 403.2 L203.3 403.2 L204.3 403.2 L205.3 403.3 L206.3 403.3 L207.3 403.3 L208.3 403.4 L209.3 403.4 L210.3 403.4 L211.3 403.5 L212.3 403.5 L213.3 403.5 L214.3 403.6 L215.3 403.6 L216.3 403.6 L217.3 403.7 L218.3 403.7 L219.3 403.7 L220.3 403.8 L221.3 403.8 L222.3 403.8 L223.3 403.9 L224.3 403.9 L225.3 403.9 L226.3 404 L227.3 404 L228.3 404 L229.3 404.1 L230.3 404.1 L231.3 404.1 L232.3 404.2 L233.3 404.2 L234.3 404.2 L235.3 404.3 L236.4 404.3 L237.4 404.3 L238.4 404.4 L239.4 404.4 L240.4 404.4 L241.4 404.4 L242.4 404.5 L243.4 404.5 L244.4 404.5 L245.4 404.6 L246.4 404.6 L247.4 404.6 L248.4 404.7 L249.4 404.7 L250.4 404.7 L251.4 404.8 L252.4 404.8 L253.4 404.8 L254.4 404.9 L255.4 404.9 L256.4 404.9 L257.4 405 L258.4 405" fill="none" stroke="#1888b5" stroke-width="1.0" stroke-linejoin="round" />
<path d="M35.9 396.7 L36.4 396.7 L36.9 396.8 L37.4 396.8 L37.9 396.8 L38.4 396.8 L38.9 396.8 L39.4 396.8 L39.9 396.8 L40.4 396.9 L40.9 396.9 L41.4 396.9 L41.9 396.9 L42.4 396.9 L42.9 396.9 L43.4 397 L43.9 397 L44.4 397 L44.9 397 L45.4 397 L45.9 397 L46.4 397.1 L46.9 397.1 L47.4 397.1 L47.9 397.1 L48.4 397.1 L48.9 397.1 L49.4 397.1 L49.9 397.2 L50.4 397.2 L50.9 397.2 L51.4 397.2 L51.9 397.2 L52.4 397.2 L52.9 397.3 L53.4 397.3 L53.9 397.3 L54.4 397.3 L54.9 397.3 L55.4 397.3 L55.9 397.3 L56.4 397.4 L56.9 397.4 L57.4 397.4 L57.9 397.4 L58.4 397.4 L58.9 397.4 L59.4 397.5 L59.9 397.5 L60.4 397.5 L60.9 397.5 L61.4 397.5 L61.9 397.5 L62.4 397.5 L62.9 397.6 L63.4 397.6 L63.9 397.6 L64.4 397.6 L64.9 397.6 L65.4 397.6 L65.9 397.7 L66.4 397.7 L66.9 397.7 L67.4 397.7 L67.9 397.7 L68.4 397.7 L68.9 397.8 L69.4 397.8 L69.9 397.8 L70.4 397.8 L70.9 397.8 L71.4 397.8 L71.9 397.8 L72.4 397.9 L72.9 397.9 L73.4 397.9 L73.9 397.9 L74.4 397.9 L74.9 397.9 L75.4 397.9 L75.9 398 L76.4 398 L76.9 398 L77.4 398 L77.9 398 L78.4 398 L78.9 398.1 L79.4 398.1 L79.9 398.1 L80.4 398.1 L80.9 398.1 L81.4 398.1 L81.9 398.1 L82.4 398.2 L82.9 398.2 L83.4 398.2 L83.9 398.2 L84.4 398.2 L84.9 398.2 L85.4 398.3 L85.9 398.3 L86.4 398.3 L86.9 398.3 L87.4 398.3 L87.9 398.3 L88.4 398.3 L88.9 398.4 L89.4 398.4 L89.9 398.4 L90.4 398.4 L90.9 398.4 L91.4 398.4 L91.9 398.4 L92.4 398.5 L92.9 398.5 L93.4 398.5 L93.9 398.5 L94.4 398.5 L94.9 398.5 L95.4 398.5 L95.9 398.6 L96.4 398.6 L96.9 398.6 L97.4 398.6 L97.9 398.6 L98.4 398.6 L98.9 398.7 L99.4 398.7 L99.9 398.7 L100.4 398.7 L100.9 398.7 L101.4 398.7 L101.9 398.7 L102.4 398.8 L102.9 398.8 L103.4 398.8 L103.9 398.8 L104.4 398.8 L104.9 398.8 L105.4 398.8 L105.9 398.9 L106.4 398.9 L106.9 398.9 L107.4 398.9 L107.9 398.9 L108.4 398.9 L108.9 398.9 L109.4 399 L109.9 399 L110.4 399 L110.9 399 L111.4 399 L111.9 399 L112.4 399 L112.9 399.1 L113.4 399.1 L113.9 399.1 L114.4 399.1 L114.9 399.1 L115.4 399.1 L115.9 399.1 L116.4 399.1 L116.9 399.2 L117.4 399.2 L117.9 399.2 L118.4 399.2 L118.9 399.2 L119.4 399.2 L119.9 399.2 L120.4 399.3 L120.9 399.3 L121.4 399.3 L121.9 399.3 L122.4 399.3 L122.9 399.3 L123.4 399.3 L123.9 399.3 L124.4 399.4 L124.9 399.4 L125.4 399.4 L125.9 399.4 L126.4 399.4 L126.9 399.4 L127.4 399.4 L127.9 399.4 L128.4 399.5 L128.9 399.5 L129.4 399.5 L129.9 399.5 L130.4 399.5 L130.9 399.5 L131.4 399.5 L131.9 399.5 L132.4 399.6 L132.9 399.6 L133.4 399.6 L133.9 399.6 L134.4 399.6 L134.9 399.6 L135.4 399.6 L135.9 399.6 L136.4 399.6 L136.9 399.7 L137.4 399.7 L137.9 399.7 L138.4 399.7 L138.9 399.7 L139.4 399.7 L139.9 399.7 L140.4 399.7 L140.9 399.7 L141.4 399.7 L141.9 399.8 L142.4 399.8 L142.9 399.8 L143.4 399.8 L143.9 399.8 L144.4 399.8 L144.9 399.8 L145.4 399.8 L145.9 399.8 L146.4 399.8 L146.9 399.8 L147.4 399.9 L147.9 399.9 L148.4 399.9 L148.9 399.9 L149.4 399.9 L149.9 399.9 L150.4 399.9 L150.9 399.9 L151.4 399.9 L151.9 399.9 L152.4 399.9 L152.9 399.9 L153.4 399.9 L153.9 399.9 L154.4 399.9 L154.9 400 L155.4 400 L155.9 400 L156.4 400 L156.9 400 L157.4 400 L157.9 400 L158.4 400 L158.9 400 L159.4 400 L159.9 400 L160.4 400 L160.9 400 L161.4 400 L161.9 400 L162.4 400 L162.9 400 L163.4 400 L163.9 400 L164.4 400 L164.9 400 L165.4 400 L165.9 400 L166.4 400 L166.9 400 L167.4 400 L167.9 399.9 L168.4 399.9 L168.9 399.9 L169.4 399.9 L169.9 399.9 L170.4 399.9 L170.9 399.9 L171.4 399.9 L171.9 399.9 L172.4 399.8 L172.9 399.8 L173.4 399.8 L173.9 399.8 L174.4 399.8 L174.9 399.7 L175.4 399.7 L175.9 399.7 L176.4 399.6 L176.9 399.6 L177.4 399.6 L177.9 399.5 L178.4 399.5 L178.9 399.4 L179.4 399.4 L179.9 399.3 L180.4 399.3 L180.9 399.2 L181.4 399.1 L181.9 399 L182.4 398.9 L182.9 398.8 L183.4 398.7 L183.9 398.6 L184.4 398.4 L184.9 398.2 L185.4 398.1 L185.9 397.9 L186.4 397.7 L186.9 397.4 L187.4 397.2 L187.9 396.9 L188.4 396.6 L188.9 396.2 L189.4 395.8 L189.9 395.4 L190.4 395 L190.9 394.5 L191.4 394 L191.9 393.4 L192.4 392.8 L192.9 392.1 L193.4 391.4 L193.9 390.7 L194.4 389.9 L194.9 389 L195.4 388.1 L195.9 387.1 L196.4 386 L196.9 384.9 L197.4 383.8 L197.9 382.6 L198.4 381.3 L198.9 380 L199.4 378.6 L199.9 377.1 L200.4 375.7 L200.9 374.1 L201.4 372.6 L201.9 371 L202.4 369.3 L202.9 367.7 L203.4 366 L203.9 364.3 L204.4 362.6 L204.9 360.9 L205.4 359.2 L205.9 357.5 L206.4 355.9 L206.9 354.3 L207.4 352.8 L207.9 351.4 L208.4 350 L208.9 348.7 L209.4 347.5 L209.9 346.5 L210.4 345.5 L210.9 344.7 L211.4 344.1 L211.9 343.6 L212.4 343.2 L212.9 343.1 L213.4 343.1 L213.9 343.2 L214.4 343.6 L214.9 344.2 L215.4 344.9 L215.9 345.8 L216.4 346.9 L216.9 348.1 L217.4 349.4 L217.9 350.9 L218.4 352.4 L218.9 354.1 L219.4 355.8 L219.9 357.5 L220.4 359.3 L220.9 361.2 L221.4 363 L221.9 364.8 L222.4 366.7 L222.9 368.5 L223.4 370.3 L223.9 372.1 L224.4 373.8 L224.9 375.5 L225.4 377.2 L225.9 378.8 L226.4 380.3 L226.9 381.8 L227.4 383.2 L227.9 384.5 L228.4 385.8 L228.9 387 L229.4 388.2 L229.9 389.2 L230.4 390.3 L230.9 391.2 L231.4 392.1 L231.9 392.9 L232.4 393.7 L232.9 394.4 L233.4 395.1 L233.9 395.7 L234.4 396.3 L234.9 396.8 L235.4 397.3 L235.9 397.7 L236.4 398.1 L236.9 398.5 L237.4 398.8 L237.9 399.1 L238.4 399.4 L238.9 399.7 L239.4 399.9 L239.9 400.1 L240.4 400.3 L240.9 400.5 L241.4 400.7 L241.9 400.8 L242.4 400.9 L242.9 401.1 L243.4 401.2 L243.9 401.3 L244.4 401.4 L244.9 401.5 L245.4 401.6 L245.9 401.7 L246.4 401.8 L246.9 401.8 L247.4 401.9 L247.9 402 L248.4 402.1 L248.9 402.1 L249.4 402.2 L249.9 402.2 L250.4 402.3 L250.9 402.3 L251.4 402.4 L251.9 402.4 L252.4 402.5 L252.9 402.5 L253.4 402.6 L253.9 402.6 L254.4 402.7 L254.9 402.7 L255.4 402.8 L255.9 402.8 L256.4 402.8 L256.9 402.9 L257.4 402.9 L257.9 403 L258.4 403" fill="none" stroke="#4cb030" stroke-width="1.3" stroke-linejoin="round" />
<line x1="35.9" y1="413.3" x2="35.9" y2="411.1" stroke="#333" stroke-width="0.9"/>
<line x1="73" y1="413.3" x2="73" y2="411.1" stroke="#333" stroke-width="0.9"/>
<line x1="110.1" y1="413.3" x2="110.1" y2="411.1" stroke="#333" stroke-width="0.9"/>
<line x1="147.1" y1="413.3" x2="147.1" y2="411.1" stroke="#333" stroke-width="0.9"/>
<line x1="184.2" y1="413.3" x2="184.2" y2="411.1" stroke="#333" stroke-width="0.9"/>
<line x1="221.3" y1="413.3" x2="221.3" y2="411.1" stroke="#333" stroke-width="0.9"/>
<line x1="258.4" y1="413.3" x2="258.4" y2="411.1" stroke="#333" stroke-width="0.9"/>
<line x1="54.4" y1="413.3" x2="54.4" y2="411.9" stroke="#333" stroke-width="0.9"/>
<line x1="91.5" y1="413.3" x2="91.5" y2="411.9" stroke="#333" stroke-width="0.9"/>
<line x1="128.6" y1="413.3" x2="128.6" y2="411.9" stroke="#333" stroke-width="0.9"/>
<line x1="165.7" y1="413.3" x2="165.7" y2="411.9" stroke="#333" stroke-width="0.9"/>
<line x1="202.8" y1="413.3" x2="202.8" y2="411.9" stroke="#333" stroke-width="0.9"/>
<line x1="239.9" y1="413.3" x2="239.9" y2="411.9" stroke="#333" stroke-width="0.9"/>
<rect x="35.9" y="231.2" width="222.5" height="182.1" fill="none" stroke="#2b2b2b" stroke-width="1.15"/>
<text x="35.9" y="421.8" font-size="7.5" textLength="9.2" lengthAdjust="spacingAndGlyphs" text-anchor="middle" >526</text>
<text x="73" y="421.8" font-size="7.5" textLength="9.2" lengthAdjust="spacingAndGlyphs" text-anchor="middle" >524</text>
<text x="110.1" y="421.8" font-size="7.5" textLength="9.2" lengthAdjust="spacingAndGlyphs" text-anchor="middle" >522</text>
<text x="147.1" y="421.8" font-size="7.5" textLength="9.2" lengthAdjust="spacingAndGlyphs" text-anchor="middle" >520</text>
<text x="184.2" y="421.8" font-size="7.5" textLength="9.2" lengthAdjust="spacingAndGlyphs" text-anchor="middle" >518</text>
<text x="221.3" y="421.8" font-size="7.5" textLength="9.2" lengthAdjust="spacingAndGlyphs" text-anchor="middle" >516</text>
<text x="258.4" y="421.8" font-size="7.5" textLength="9.2" lengthAdjust="spacingAndGlyphs" text-anchor="middle" >514</text>
<path d="M315.1 305.6 L316.1 305.6 L317.1 305.6 L318.1 305.6 L319.1 305.6 L320.1 305.6 L321.1 305.6 L322.1 305.6 L323.1 305.6 L324.1 305.6 L325.1 305.6 L326.1 305.6 L327.1 305.6 L328.1 305.6 L329.1 305.6 L330.1 305.5 L331.1 305.5 L332.1 305.5 L333.1 305.4 L334.1 305.4 L335.1 305.3 L336.1 305.3 L337.1 305.2 L338.1 305.2 L339.1 305.1 L340.1 305 L341.1 304.9 L342.2 304.8 L343.2 304.7 L344.2 304.6 L345.2 304.5 L346.2 304.3 L347.2 304.2 L348.2 304 L349.2 303.9 L350.2 303.7 L351.2 303.5 L352.2 303.3 L353.2 303.1 L354.2 302.9 L355.2 302.7 L356.2 302.4 L357.2 302.2 L358.2 302 L359.2 301.7 L360.2 301.5 L361.2 301.2 L362.2 301 L363.2 300.7 L364.2 300.5 L365.2 300.2 L366.2 300 L367.2 299.7 L368.2 299.5 L369.2 299.3 L370.2 299 L371.2 298.8 L372.2 298.6 L373.2 298.4 L374.2 298.2 L375.2 298.1 L376.2 297.9 L377.2 297.8 L378.2 297.6 L379.2 297.5 L380.2 297.5 L381.2 297.4 L382.2 297.4 L383.2 297.3 L384.2 297.3 L385.2 297.4 L386.2 297.4 L387.2 297.5 L388.2 297.5 L389.2 297.6 L390.2 297.7 L391.2 297.8 L392.2 297.9 L393.2 298.1 L394.2 298.2 L395.2 298.4 L396.2 298.6 L397.2 298.8 L398.2 299 L399.3 299.2 L400.3 299.4 L401.3 299.6 L402.3 299.8 L403.3 300.1 L404.3 300.3 L405.3 300.5 L406.3 300.8 L407.3 301 L408.3 301.3 L409.3 301.5 L410.3 301.8 L411.3 302 L412.3 302.3 L413.3 302.5 L414.3 302.8 L415.3 303 L416.3 303.3 L417.3 303.5 L418.3 303.7 L419.3 303.9 L420.3 304.2 L421.3 304.4 L422.3 304.6 L423.3 304.8 L424.3 305 L425.3 305.1 L426.3 305.3 L427.3 305.5 L428.3 305.7 L429.3 305.8 L430.3 306 L431.3 306.1 L432.3 306.2 L433.3 306.4 L434.3 306.5 L435.3 306.6 L436.3 306.7 L437.3 306.8 L438.3 306.9 L439.3 307 L440.3 307.1 L441.3 307.2 L442.3 307.2 L443.3 307.3 L444.3 307.4 L445.3 307.5 L446.3 307.5 L447.3 307.6 L448.3 307.6 L449.3 307.7 L450.3 307.7 L451.3 307.8 L452.3 307.8 L453.3 307.9 L454.3 307.9 L455.3 307.9 L456.3 308 L457.4 308 L458.4 308 L459.4 308.1 L460.4 308.1 L461.4 308.1 L462.4 308.1 L463.4 308.2 L464.4 308.2 L465.4 308.2 L465.4 308.3 L461.4 308.2 L457.5 308.1 L453.5 308 L449.5 308 L445.6 307.9 L441.6 307.8 L437.7 307.8 L433.7 307.7 L429.8 307.6 L425.8 307.6 L421.9 307.5 L417.9 307.4 L414 307.4 L410 307.3 L406.1 307.2 L402.1 307.2 L398.1 307.1 L394.2 307 L390.2 306.9 L386.3 306.9 L382.3 306.8 L378.4 306.7 L374.4 306.7 L370.5 306.6 L366.5 306.5 L362.6 306.5 L358.6 306.4 L354.6 306.3 L350.7 306.3 L346.7 306.2 L342.8 306.1 L338.8 306 L334.9 306 L330.9 305.9 L327 305.8 L323 305.8 L319.1 305.7 L315.1 305.6Z" fill="url(#g12)" fill-opacity="0.9"/>
<path d="M315.1 305.6 L316.1 305.6 L317.1 305.6 L318.1 305.6 L319.1 305.6 L320.1 305.6 L321.1 305.6 L322.1 305.6 L323.1 305.6 L324.1 305.6 L325.1 305.6 L326.1 305.6 L327.1 305.6 L328.1 305.6 L329.1 305.6 L330.1 305.5 L331.1 305.5 L332.1 305.5 L333.1 305.4 L334.1 305.4 L335.1 305.3 L336.1 305.3 L337.1 305.2 L338.1 305.2 L339.1 305.1 L340.1 305 L341.1 304.9 L342.2 304.8 L343.2 304.7 L344.2 304.6 L345.2 304.5 L346.2 304.3 L347.2 304.2 L348.2 304 L349.2 303.9 L350.2 303.7 L351.2 303.5 L352.2 303.3 L353.2 303.1 L354.2 302.9 L355.2 302.7 L356.2 302.4 L357.2 302.2 L358.2 302 L359.2 301.7 L360.2 301.5 L361.2 301.2 L362.2 301 L363.2 300.7 L364.2 300.5 L365.2 300.2 L366.2 300 L367.2 299.7 L368.2 299.5 L369.2 299.3 L370.2 299 L371.2 298.8 L372.2 298.6 L373.2 298.4 L374.2 298.2 L375.2 298.1 L376.2 297.9 L377.2 297.8 L378.2 297.6 L379.2 297.5 L380.2 297.5 L381.2 297.4 L382.2 297.4 L383.2 297.3 L384.2 297.3 L385.2 297.4 L386.2 297.4 L387.2 297.5 L388.2 297.5 L389.2 297.6 L390.2 297.7 L391.2 297.8 L392.2 297.9 L393.2 298.1 L394.2 298.2 L395.2 298.4 L396.2 298.6 L397.2 298.8 L398.2 299 L399.3 299.2 L400.3 299.4 L401.3 299.6 L402.3 299.8 L403.3 300.1 L404.3 300.3 L405.3 300.5 L406.3 300.8 L407.3 301 L408.3 301.3 L409.3 301.5 L410.3 301.8 L411.3 302 L412.3 302.3 L413.3 302.5 L414.3 302.8 L415.3 303 L416.3 303.3 L417.3 303.5 L418.3 303.7 L419.3 303.9 L420.3 304.2 L421.3 304.4 L422.3 304.6 L423.3 304.8 L424.3 305 L425.3 305.1 L426.3 305.3 L427.3 305.5 L428.3 305.7 L429.3 305.8 L430.3 306 L431.3 306.1 L432.3 306.2 L433.3 306.4 L434.3 306.5 L435.3 306.6 L436.3 306.7 L437.3 306.8 L438.3 306.9 L439.3 307 L440.3 307.1 L441.3 307.2 L442.3 307.2 L443.3 307.3 L444.3 307.4 L445.3 307.5 L446.3 307.5 L447.3 307.6 L448.3 307.6 L449.3 307.7 L450.3 307.7 L451.3 307.8 L452.3 307.8 L453.3 307.9 L454.3 307.9 L455.3 307.9 L456.3 308 L457.4 308 L458.4 308 L459.4 308.1 L460.4 308.1 L461.4 308.1 L462.4 308.1 L463.4 308.2 L464.4 308.2 L465.4 308.2" fill="none" stroke="#f39a48" stroke-width="0.9" stroke-linejoin="round"/>
<path d="M313.1 305.5 L314.1 305.6 L315.1 305.6 L316.1 305.6 L317.1 305.6 L318.1 305.6 L319.1 305.6 L320.1 305.7 L321.1 305.7 L322.1 305.7 L323.1 305.7 L324.1 305.7 L325.1 305.7 L326.1 305.8 L327.1 305.8 L328.1 305.8 L329.1 305.8 L330.1 305.8 L331.1 305.8 L332.1 305.9 L333.1 305.9 L334.1 305.9 L335.1 305.9 L336.1 305.9 L337.1 305.9 L338.1 306 L339.1 306 L340.1 306 L341.1 306 L342.2 306 L343.2 306 L344.2 306.1 L345.2 306.1 L346.2 306.1 L347.2 306.1 L348.2 306.1 L349.2 306.1 L350.2 306.1 L351.2 306.2 L352.2 306.2 L353.2 306.2 L354.2 306.2 L355.2 306.2 L356.2 306.2 L357.2 306.3 L358.2 306.3 L359.2 306.3 L360.2 306.3 L361.2 306.3 L362.2 306.3 L363.2 306.4 L364.2 306.4 L365.2 306.4 L366.2 306.4 L367.2 306.4 L368.2 306.4 L369.2 306.4 L370.2 306.5 L371.2 306.5 L372.2 306.5 L373.2 306.5 L374.2 306.5 L375.2 306.5 L376.2 306.5 L377.2 306.6 L378.2 306.6 L379.2 306.6 L380.2 306.6 L381.2 306.6 L382.2 306.6 L383.2 306.6 L384.2 306.6 L385.2 306.7 L386.2 306.7 L387.2 306.7 L388.2 306.7 L389.2 306.7 L390.2 306.7 L391.2 306.7 L392.2 306.7 L393.2 306.7 L394.2 306.7 L395.2 306.7 L396.2 306.8 L397.2 306.8 L398.2 306.8 L399.3 306.7 L400.3 306.7 L401.3 306.7 L402.3 306.7 L403.3 306.7 L404.3 306.7 L405.3 306.6 L406.3 306.6 L407.3 306.5 L408.3 306.5 L409.3 306.4 L410.3 306.3 L411.3 306.2 L412.3 306.1 L413.3 306 L414.3 305.8 L415.3 305.6 L416.3 305.4 L417.3 305.2 L418.3 304.9 L419.3 304.6 L420.3 304.2 L421.3 303.8 L422.3 303.4 L423.3 302.9 L424.3 302.3 L425.3 301.7 L426.3 301 L427.3 300.3 L428.3 299.4 L429.3 298.5 L430.3 297.6 L431.3 296.5 L432.3 295.4 L433.3 294.2 L434.3 292.9 L435.3 291.6 L436.3 290.1 L437.3 288.6 L438.3 287 L439.3 285.3 L440.3 283.6 L441.3 281.8 L442.3 279.9 L443.3 278 L444.3 276.1 L445.3 274.1 L446.3 272.2 L447.3 270.2 L448.3 268.2 L449.3 266.3 L450.3 264.3 L451.3 262.5 L452.3 260.7 L453.3 259 L454.3 257.4 L455.3 255.8 L456.3 254.5 L457.4 253.2 L458.4 252.1 L459.4 251.1 L460.4 250.4 L461.4 249.7 L462.4 249.3 L463.4 249.1 L464.4 249 L465.4 249.2 L466.4 249.6 L467.4 250.2 L468.4 251.1 L469.4 252.1 L470.4 253.4 L471.4 254.8 L472.4 256.4 L473.4 258.2 L474.4 260 L475.4 262 L476.4 264.1 L477.4 266.2 L478.4 268.4 L479.4 270.6 L480.4 272.8 L481.4 275 L482.4 277.2 L483.4 279.4 L484.4 281.5 L485.4 283.6 L486.4 285.5 L487.4 287.4 L488.4 289.3 L489.4 291 L490.4 292.6 L491.4 294.2 L492.4 295.6 L493.4 296.9 L494.4 298.2 L495.4 299.3 L496.4 300.4 L497.4 301.3 L498.4 302.2 L499.4 303 L500.4 303.7 L501.4 304.3 L502.4 304.9 L503.4 305.4 L504.4 305.9 L505.4 306.3 L506.4 306.6 L507.4 307 L508.4 307.2 L509.4 307.5 L510.4 307.7 L511.4 307.9 L512.4 308 L513.4 308.2 L514.5 308.3 L515.5 308.4 L516.5 308.5 L517.5 308.6 L518.5 308.7 L519.5 308.7 L520.5 308.8 L521.5 308.8 L522.5 308.9 L523.5 308.9 L524.5 309 L525.5 309 L526.5 309 L527.5 309.1 L528.5 309.1 L529.5 309.1 L530.5 309.2 L531.5 309.2 L532.5 309.2 L533.5 309.2 L534.5 309.3 L535.5 309.3 L536.5 309.3 L537.5 309.3 L538.5 309.3 L539.5 309.4 L540.5 309.4 L541.5 309.4 L542.5 309.4 L542.5 309.6 L538.5 309.5 L534.5 309.5 L530.4 309.4 L526.4 309.3 L522.4 309.2 L518.4 309.2 L514.3 309.1 L510.3 309 L506.3 309 L502.3 308.9 L498.2 308.8 L494.2 308.8 L490.2 308.7 L486.2 308.6 L482.1 308.5 L478.1 308.5 L474.1 308.4 L470.1 308.3 L466 308.3 L462 308.2 L458 308.1 L454 308.1 L449.9 308 L445.9 307.9 L441.9 307.8 L437.9 307.8 L433.8 307.7 L429.8 307.6 L425.8 307.6 L421.8 307.5 L417.7 307.4 L413.7 307.4 L409.7 307.3 L405.7 307.2 L401.6 307.1 L397.6 307.1 L393.6 307 L389.6 306.9 L385.5 306.9 L381.5 306.8 L377.5 306.7 L373.5 306.7 L369.4 306.6 L365.4 306.5 L361.4 306.4 L357.4 306.4 L353.3 306.3 L349.3 306.2 L345.3 306.2 L341.3 306.1 L337.2 306 L333.2 306 L329.2 305.9 L325.2 305.8 L321.1 305.7 L317.1 305.7 L313.1 305.6Z" fill="url(#g13)" fill-opacity="0.9"/>
<path d="M400 306.4 L400.5 306.4 L401 306.4 L401.5 306.4 L402 306.4 L402.5 306.4 L403 306.4 L403.5 306.4 L404 306.4 L404.5 306.4 L405 306.3 L405.5 306.3 L406 306.3 L406.5 306.3 L407 306.3 L407.5 306.2 L408 306.2 L408.5 306.2 L409 306.1 L409.5 306.1 L410 306 L410.5 306 L411 306 L411.5 305.9 L412 305.8 L412.5 305.8 L413 305.7 L413.5 305.6 L414 305.5 L414.5 305.5 L415 305.4 L415.5 305.3 L416 305.2 L416.5 305 L417 304.9 L417.5 304.8 L418 304.7 L418.5 304.5 L419 304.4 L419.5 304.2 L420 304 L420.5 303.8 L421 303.6 L421.5 303.4 L422 303.2 L422.5 303 L423 302.7 L423.5 302.4 L424 302.2 L424.5 301.9 L425 301.6 L425.5 301.2 L426 300.9 L426.5 300.6 L427 300.2 L427.5 299.8 L428 299.4 L428.5 299 L429 298.5 L429.5 298.1 L430 297.6 L430.5 297.1 L431 296.6 L431.5 296 L432 295.5 L432.5 294.9 L433 294.3 L433.5 293.7 L434 293 L434.5 292.4 L435 291.7 L435.5 291 L436 290.3 L436.5 289.5 L437 288.8 L437.5 288 L438 287.2 L438.5 286.4 L439 285.6 L439.5 284.7 L440 283.8 L440.5 283 L441 282.1 L441.5 281.2 L442 280.2 L442.5 279.3 L443 278.3 L443.5 277.4 L444 276.4 L444.5 275.5 L445 274.5 L445.5 273.5 L446 272.5 L446.5 271.5 L447 270.5 L447.5 269.5 L448 268.6 L448.5 267.6 L449 266.6 L449.5 265.6 L450 264.7 L450.5 263.7 L451 262.8 L451.5 261.9 L452 261 L452.5 260.1 L453 259.3 L453.5 258.4 L454 257.6 L454.5 256.8 L455 256.1 L455.5 255.3 L456 254.6 L456.5 254 L457 253.3 L457.5 252.7 L458 252.2 L458.5 251.6 L459 251.2 L459.5 250.7 L460 250.3 L460.5 250 L461 249.6 L461.5 249.4 L462 249.2 L462.5 249 L463 248.9 L463.5 248.8 L464 248.7 L464.5 248.8 L465 248.8 L465.5 249 L466 249.1 L466.5 249.4 L467 249.7 L467.5 250 L468 250.5 L468.5 250.9 L469 251.4 L469.5 252 L470 252.6 L470.5 253.3 L471 254 L471.5 254.7 L472 255.5 L472.5 256.3 L473 257.2 L473.5 258.1 L474 259 L474.5 260 L475 260.9 L475.5 261.9 L476 263 L476.5 264 L477 265.1 L477.5 266.1 L478 267.2 L478.5 268.3 L479 269.4 L479.5 270.5 L480 271.6 L480.5 272.7 L481 273.9 L481.5 275 L482 276.1 L482.5 277.2 L483 278.2 L483.5 279.3 L484 280.4 L484.5 281.4 L485 282.4 L485.5 283.5 L486 284.5 L486.5 285.4 L487 286.4 L487.5 287.3 L488 288.2 L488.5 289.1 L489 290 L489.5 290.9 L490 291.7 L490.5 292.5 L491 293.3 L491.5 294 L492 294.7 L492.5 295.4 L493 296.1 L493.5 296.8 L494 297.4 L494.5 298 L495 298.6 L495.5 299.1 L496 299.6 L496.5 300.2 L497 300.6 L497.5 301.1 L498 301.5 L498.5 302 L499 302.4 L499.5 302.7 L500 303.1 L500.5 303.5 L501 303.8 L501.5 304.1 L502 304.4 L502.5 304.7 L503 304.9 L503.5 305.2 L504 305.4 L504.5 305.6 L505 305.8 L505.5 306 L506 306.2 L506.5 306.4 L507 306.5 L507.5 306.7 L508 306.8 L508.5 306.9 L509 307.1 L509.5 307.2 L510 307.3 L510.5 307.4 L511 307.5 L511.5 307.6 L512 307.7 L512.5 307.7 L513 307.8 L513.5 307.9 L514 307.9 L514.5 308 L515 308.1 L515.5 308.1 L516 308.2 L516.5 308.2 L517 308.2 L517.5 308.3 L518 308.3 L518.5 308.4 L519 308.4 L519.5 308.4 L520 308.5 L520.5 308.5 L521 308.5 L521.5 308.5 L522 308.6 L522.5 308.6 L523 308.6 L523.5 308.6 L524 308.6 L524.5 308.7 L525 308.7 L525.5 308.7 L526 308.7 L526.5 308.7 L527 308.8 L527.5 308.8 L528 308.8 L528.5 308.8 L529 308.8 L529.5 308.8 L530 308.8 L530.5 308.9 L531 308.9 L531.5 308.9 L532 308.9 L532.5 308.9 L533 308.9 L533.5 308.9 L534 308.9 L534.5 309 L535 309 L535.5 309 L536 309 L536.5 309 L537 309 L537.5 309 L538 309 L538.5 309 L539 309.1 L539.5 309.1 L540 309.1 L540.5 309.1 L541 309.1 L541.5 309.1 L542 309.1 L542.5 309.1" fill="none" stroke="#55b22a" stroke-width="1.3" stroke-linejoin="round" />
<path d="M374.2 306.6 L375.2 306.6 L376.2 306.6 L377.2 306.6 L378.2 306.6 L379.2 306.6 L380.2 306.6 L381.2 306.5 L382.2 306.5 L383.2 306.4 L384.2 306.3 L385.2 306.3 L386.2 306.1 L387.2 306 L388.2 305.9 L389.2 305.7 L390.2 305.5 L391.2 305.2 L392.2 305 L393.2 304.7 L394.2 304.3 L395.2 304 L396.2 303.6 L397.2 303.2 L398.2 302.7 L399.3 302.2 L400.3 301.7 L401.3 301.2 L402.3 300.7 L403.3 300.2 L404.3 299.7 L405.3 299.2 L406.3 298.7 L407.3 298.3 L408.3 297.9 L409.3 297.5 L410.3 297.2 L411.3 296.9 L412.3 296.8 L413.3 296.6 L414.3 296.6 L415.3 296.6 L416.3 296.6 L417.3 296.7 L418.3 296.8 L419.3 296.9 L420.3 297.1 L421.3 297.3 L422.3 297.5 L423.3 297.7 L424.3 297.9 L425.3 298.2 L426.3 298.5 L427.3 298.8 L428.3 299.1 L429.3 299.4 L430.3 299.8 L431.3 300.1 L432.3 300.5 L433.3 300.8 L434.3 301.2 L435.3 301.5 L436.3 301.9 L437.3 302.2 L438.3 302.6 L439.3 302.9 L440.3 303.2 L441.3 303.5 L442.3 303.9 L443.3 304.2 L444.3 304.4 L445.3 304.7 L446.3 305 L447.3 305.2 L448.3 305.5 L449.3 305.7 L450.3 305.9 L451.3 306.1 L452.3 306.3 L453.3 306.5 L454.3 306.7 L455.3 306.8 L456.3 307 L457.4 307.1 L458.4 307.2 L459.4 307.3 L460.4 307.5 L461.4 307.6 L462.4 307.6 L463.4 307.7 L464.4 307.8 L465.4 307.9 L466.4 307.9 L467.4 308 L468.4 308.1 L469.4 308.1 L470.4 308.2 L471.4 308.2 L472.4 308.2 L473.4 308.3 L474.4 308.3 L475.4 308.3 L476.4 308.4 L477.4 308.4 L478.4 308.4 L479.4 308.5 L479.4 308.5 L475.3 308.4 L471.3 308.4 L467.3 308.3 L463.2 308.2 L459.2 308.1 L455.1 308.1 L451.1 308 L447 307.9 L443 307.9 L438.9 307.8 L434.9 307.7 L430.8 307.7 L426.8 307.6 L422.8 307.5 L418.7 307.4 L414.7 307.4 L410.6 307.3 L406.6 307.2 L402.5 307.2 L398.5 307.1 L394.4 307 L390.4 306.9 L386.3 306.9 L382.3 306.8 L378.3 306.7 L374.2 306.7Z" fill="url(#g14)" fill-opacity="0.8"/>
<path d="M313.1 305.6 L313.6 305.6 L314.1 305.6 L314.6 305.6 L315.1 305.6 L315.6 305.6 L316.1 305.7 L316.6 305.7 L317.1 305.7 L317.6 305.7 L318.1 305.7 L318.6 305.7 L319.1 305.7 L319.6 305.7 L320.1 305.7 L320.6 305.7 L321.1 305.7 L321.6 305.7 L322.1 305.8 L322.6 305.8 L323.1 305.8 L323.6 305.8 L324.1 305.8 L324.6 305.8 L325.1 305.8 L325.6 305.8 L326.1 305.8 L326.6 305.8 L327.1 305.8 L327.6 305.9 L328.1 305.9 L328.6 305.9 L329.1 305.9 L329.6 305.9 L330.1 305.9 L330.6 305.9 L331.1 305.9 L331.6 305.9 L332.1 305.9 L332.6 305.9 L333.1 305.9 L333.6 306 L334.1 306 L334.6 306 L335.1 306 L335.6 306 L336.1 306 L336.6 306 L337.1 306 L337.6 306 L338.1 306 L338.6 306 L339.1 306.1 L339.6 306.1 L340.1 306.1 L340.6 306.1 L341.1 306.1 L341.6 306.1 L342.1 306.1 L342.6 306.1 L343.1 306.1 L343.6 306.1 L344.1 306.1 L344.6 306.1 L345.1 306.2 L345.6 306.2 L346.1 306.2 L346.6 306.2 L347.1 306.2 L347.6 306.2 L348.1 306.2 L348.6 306.2 L349.1 306.2 L349.6 306.2 L350.1 306.2 L350.6 306.3 L351.1 306.3 L351.6 306.3 L352.1 306.3 L352.6 306.3 L353.1 306.3 L353.6 306.3 L354.1 306.3 L354.6 306.3 L355.1 306.3 L355.6 306.3 L356.1 306.3 L356.6 306.4 L357.1 306.4 L357.6 306.4 L358.1 306.4 L358.6 306.4 L359.1 306.4 L359.6 306.4 L360.1 306.4 L360.6 306.4 L361.1 306.4 L361.6 306.4 L362.1 306.5 L362.6 306.5 L363.1 306.5 L363.6 306.5 L364.1 306.5 L364.6 306.5 L365.1 306.5 L365.6 306.5 L366.1 306.5 L366.6 306.5 L367.1 306.5 L367.6 306.5 L368.1 306.6 L368.6 306.6 L369.1 306.6 L369.6 306.6 L370.1 306.6 L370.6 306.6 L371.1 306.6 L371.6 306.6 L372.1 306.6 L372.6 306.6 L373.1 306.6 L373.6 306.6 L374.1 306.6 L374.6 306.6 L375.1 306.6 L375.6 306.6 L376.1 306.6 L376.6 306.6 L377.1 306.6 L377.6 306.6 L378.1 306.6 L378.6 306.6 L379.1 306.6 L379.6 306.6 L380.1 306.6 L380.6 306.5 L381.1 306.5 L381.6 306.5 L382.1 306.5 L382.6 306.5 L383.1 306.4 L383.6 306.4 L384.1 306.4 L384.6 306.3 L385.1 306.3 L385.6 306.2 L386.1 306.2 L386.6 306.1 L387.1 306 L387.6 306 L388.1 305.9 L388.6 305.8 L389.1 305.7 L389.6 305.6 L390.1 305.5 L390.6 305.4 L391.1 305.3 L391.6 305.1 L392.1 305 L392.6 304.9 L393.1 304.7 L393.6 304.6 L394.1 304.4 L394.6 304.2 L395.1 304 L395.6 303.8 L396.1 303.7 L396.6 303.4 L397.1 303.2 L397.6 303 L398.1 302.8 L398.6 302.6 L399.1 302.3 L399.6 302.1 L400.1 301.8 L400.6 301.6 L401.1 301.3 L401.6 301.1 L402.1 300.8 L402.6 300.6 L403.1 300.3 L403.6 300.1 L404.1 299.8 L404.6 299.6 L405.1 299.3 L405.6 299.1 L406.1 298.8 L406.6 298.6 L407.1 298.4 L407.6 298.2 L408.1 298 L408.6 297.8 L409.1 297.6 L409.6 297.4 L410.1 297.3 L410.6 297.1 L411.1 297 L411.6 296.9 L412.1 296.8 L412.6 296.7 L413.1 296.7 L413.6 296.6 L414.1 296.6 L414.6 296.6 L415.1 296.6 L415.6 296.6 L416.1 296.6 L416.6 296.6 L417.1 296.7 L417.6 296.7 L418.1 296.8 L418.6 296.8 L419.1 296.9 L419.6 297 L420.1 297 L420.6 297.1 L421.1 297.2 L421.6 297.3 L422.1 297.4 L422.6 297.5 L423.1 297.6 L423.6 297.8 L424.1 297.9 L424.6 298 L425.1 298.1 L425.6 298.3 L426.1 298.4 L426.6 298.6 L427.1 298.7 L427.6 298.9 L428 299 L428.5 299.2 L429 299.3 L429.5 299.5 L430 299.7 L430.5 299.8 L431 300 L431.5 300.2 L432 300.4 L432.5 300.5 L433 300.7 L433.5 300.9 L434 301.1 L434.5 301.2 L435 301.4 L435.5 301.6 L436 301.8 L436.5 301.9 L437 302.1 L437.5 302.3 L438 302.5 L438.5 302.6 L439 302.8 L439.5 303 L440 303.1 L440.5 303.3 L441 303.5 L441.5 303.6 L442 303.8 L442.5 303.9 L443 304.1 L443.5 304.2 L444 304.4 L444.5 304.5 L445 304.6 L445.5 304.8 L446 304.9 L446.5 305 L447 305.2 L447.5 305.3 L448 305.4 L448.5 305.5 L449 305.6 L449.5 305.8 L450 305.9 L450.5 306 L451 306.1 L451.5 306.2 L452 306.3 L452.5 306.4 L453 306.5 L453.5 306.5 L454 306.6 L454.5 306.7 L455 306.8 L455.5 306.9 L456 306.9 L456.5 307 L457 307.1 L457.5 307.1 L458 307.2 L458.5 307.3 L459 307.3 L459.5 307.4 L460 307.4 L460.5 307.5 L461 307.5 L461.5 307.6 L462 307.6 L462.5 307.7 L463 307.7 L463.5 307.7 L464 307.8 L464.5 307.8 L465 307.9 L465.5 307.9 L466 307.9 L466.5 308 L467 308 L467.5 308 L468 308 L468.5 308.1 L469 308.1 L469.5 308.1 L470 308.1 L470.5 308.2 L471 308.2 L471.5 308.2 L472 308.2 L472.5 308.2 L473 308.3 L473.5 308.3 L474 308.3 L474.5 308.3 L475 308.3 L475.5 308.3 L476 308.4 L476.5 308.4 L477 308.4 L477.5 308.4 L478 308.4 L478.5 308.4 L479 308.4 L479.5 308.5 L480 308.5 L480.5 308.5 L481 308.5 L481.5 308.5 L482 308.5 L482.5 308.5 L483 308.5 L483.5 308.5 L484 308.6 L484.5 308.6 L485 308.6 L485.5 308.6 L486 308.6 L486.5 308.6 L487 308.6 L487.5 308.6 L488 308.6 L488.5 308.7 L489 308.7 L489.5 308.7 L490 308.7 L490.5 308.7 L491 308.7 L491.5 308.7 L492 308.7 L492.5 308.7 L493 308.7 L493.5 308.7 L494 308.8 L494.5 308.8 L495 308.8 L495.5 308.8 L496 308.8 L496.5 308.8 L497 308.8 L497.5 308.8 L498 308.8 L498.5 308.8 L499 308.8 L499.5 308.8 L500 308.9 L500.5 308.9 L501 308.9 L501.5 308.9 L502 308.9 L502.5 308.9 L503 308.9 L503.5 308.9 L504 308.9 L504.5 308.9 L505 308.9 L505.5 309 L506 309 L506.5 309 L507 309 L507.5 309 L508 309 L508.5 309 L509 309 L509.5 309 L510 309 L510.5 309 L511 309.1 L511.5 309.1 L512 309.1 L512.5 309.1 L513 309.1 L513.5 309.1 L514 309.1 L514.5 309.1 L515 309.1 L515.5 309.1 L516 309.1 L516.5 309.1 L517 309.2 L517.5 309.2 L518 309.2 L518.5 309.2 L519 309.2 L519.5 309.2 L520 309.2 L520.5 309.2 L521 309.2 L521.5 309.2 L522 309.2 L522.5 309.3 L523 309.3 L523.5 309.3 L524 309.3 L524.5 309.3 L525 309.3 L525.5 309.3 L526 309.3 L526.5 309.3 L527 309.3 L527.5 309.3 L528 309.3 L528.5 309.4 L529 309.4 L529.5 309.4 L530 309.4 L530.5 309.4 L531 309.4 L531.5 309.4 L532 309.4 L532.5 309.4 L533 309.4 L533.5 309.4 L534 309.5 L534.5 309.5 L535 309.5 L535.5 309.5 L536 309.5 L536.5 309.5 L537 309.5 L537.5 309.5 L538 309.5 L538.5 309.5 L539 309.5 L539.5 309.5 L540 309.6 L540.5 309.6 L541 309.6 L541.5 309.6 L542 309.6 L542.5 309.6" fill="none" stroke="#1582c4" stroke-width="1.0" stroke-linejoin="round" />
<path d="M313.1 305.4 L313.6 305.4 L314.1 305.4 L314.6 305.3 L315.1 305.3 L315.6 305.3 L316.1 305.3 L316.6 305.2 L317.1 305.2 L317.6 305.2 L318.1 305.2 L318.6 305.2 L319.1 305.1 L319.6 305.1 L320.1 305.1 L320.6 305.1 L321.1 305 L321.6 305 L322.1 305 L322.6 304.9 L323.1 304.9 L323.6 304.9 L324.1 304.9 L324.6 304.8 L325.1 304.8 L325.6 304.8 L326.1 304.7 L326.6 304.7 L327.1 304.7 L327.6 304.6 L328.1 304.6 L328.6 304.5 L329.1 304.5 L329.6 304.5 L330.1 304.4 L330.6 304.4 L331.1 304.3 L331.6 304.3 L332.1 304.2 L332.6 304.2 L333.1 304.2 L333.6 304.1 L334.1 304.1 L334.6 304 L335.1 304 L335.6 303.9 L336.1 303.9 L336.6 303.8 L337.1 303.7 L337.6 303.7 L338.1 303.6 L338.6 303.6 L339.1 303.5 L339.6 303.5 L340.1 303.4 L340.6 303.3 L341.1 303.3 L341.6 303.2 L342.1 303.1 L342.6 303 L343.1 302.9 L343.6 302.9 L344.1 302.8 L344.6 302.7 L345.1 302.6 L345.6 302.5 L346.1 302.4 L346.6 302.3 L347.1 302.2 L347.6 302.1 L348.1 302 L348.6 301.9 L349.1 301.8 L349.6 301.7 L350.1 301.6 L350.6 301.5 L351.1 301.4 L351.6 301.2 L352.1 301.1 L352.6 301 L353.1 300.9 L353.6 300.8 L354.1 300.6 L354.6 300.5 L355.1 300.4 L355.6 300.2 L356.1 300.1 L356.6 299.9 L357.1 299.8 L357.6 299.7 L358.1 299.5 L358.6 299.4 L359.1 299.3 L359.6 299.1 L360.1 299 L360.6 298.8 L361.1 298.7 L361.6 298.6 L362.1 298.4 L362.6 298.3 L363.1 298.2 L363.6 298 L364.1 297.9 L364.6 297.7 L365.1 297.6 L365.6 297.4 L366.1 297.3 L366.6 297.2 L367.1 297 L367.6 296.9 L368.1 296.7 L368.6 296.5 L369.1 296.4 L369.6 296.2 L370.1 296.1 L370.6 295.9 L371.1 295.7 L371.6 295.6 L372.1 295.4 L372.6 295.2 L373.1 295 L373.6 294.8 L374.1 294.6 L374.6 294.4 L375.1 294.2 L375.6 294.1 L376.1 293.9 L376.6 293.7 L377.1 293.5 L377.6 293.3 L378.1 293.1 L378.6 293 L379.1 292.8 L379.6 292.6 L380.1 292.5 L380.6 292.3 L381.1 292.2 L381.6 292 L382.1 291.9 L382.6 291.7 L383.1 291.6 L383.6 291.4 L384.1 291.3 L384.6 291.1 L385.1 291 L385.6 290.8 L386.1 290.7 L386.6 290.6 L387.1 290.5 L387.6 290.3 L388.1 290.2 L388.6 290.1 L389.1 290 L389.6 290 L390.1 289.9 L390.6 289.8 L391.1 289.8 L391.6 289.7 L392.1 289.7 L392.6 289.6 L393.1 289.6 L393.6 289.5 L394.1 289.5 L394.6 289.4 L395.1 289.4 L395.6 289.4 L396.1 289.3 L396.6 289.3 L397.1 289.2 L397.6 289.2 L398.1 289.2 L398.6 289.1 L399.1 289.1 L399.6 289 L400.1 289 L400.6 288.9 L401.1 288.9 L401.6 288.8 L402.1 288.8 L402.6 288.7 L403.1 288.6 L403.6 288.6 L404.1 288.5 L404.6 288.4 L405.1 288.4 L405.6 288.3 L406.1 288.3 L406.6 288.2 L407.1 288.2 L407.6 288.1 L408.1 288.1 L408.6 288 L409.1 288 L409.6 288 L410.1 288 L410.6 288 L411.1 288 L411.6 288 L412.1 288 L412.6 288.1 L413.1 288.1 L413.6 288.1 L414.1 288.1 L414.6 288.2 L415.1 288.2 L415.6 288.2 L416.1 288.3 L416.6 288.3 L417.1 288.3 L417.6 288.3 L418.1 288.4 L418.6 288.4 L419.1 288.4 L419.6 288.4 L420.1 288.4 L420.6 288.4 L421.1 288.4 L421.6 288.3 L422.1 288.2 L422.6 288.1 L423.1 288 L423.6 287.9 L424.1 287.8 L424.6 287.7 L425.1 287.5 L425.6 287.4 L426.1 287.2 L426.6 287 L427.1 286.8 L427.6 286.7 L428 286.5 L428.5 286.3 L429 286.1 L429.5 286 L430 285.8 L430.5 285.6 L431 285.4 L431.5 285.2 L432 285 L432.5 284.8 L433 284.6 L433.5 284.3 L434 284.1 L434.5 283.8 L435 283.5 L435.5 283.1 L436 282.7 L436.5 282.3 L437 281.8 L437.5 281.3 L438 280.8 L438.5 280.3 L439 279.7 L439.5 279.2 L440 278.7 L440.5 278.1 L441 277.5 L441.5 276.9 L442 276.3 L442.5 275.7 L443 275.1 L443.5 274.4 L444 273.8 L444.5 273.1 L445 272.3 L445.5 271.6 L446 270.8 L446.5 269.9 L447 269 L447.5 268.1 L448 267.2 L448.5 266.3 L449 265.4 L449.5 264.5 L450 263.6 L450.5 262.8 L451 262 L451.5 261.2 L452 260.3 L452.5 259.5 L453 258.7 L453.5 258 L454 257.2 L454.5 256.5 L455 255.7 L455.5 255 L456 254.3 L456.5 253.6 L457 252.9 L457.5 252.4 L458 251.9 L458.5 251.4 L459 251 L459.5 250.6 L460 250.2 L460.5 249.9 L461 249.6 L461.5 249.3 L462 249.1 L462.5 248.8 L463 248.6 L463.5 248.5 L464 248.3 L464.5 248.2 L465 248.1 L465.5 248.1 L466 248.1 L466.5 248.2 L467 248.5 L467.5 248.8 L468 249.2 L468.5 249.8 L469 250.4 L469.5 251.1 L470 251.7 L470.5 252.4 L471 253.1 L471.5 253.9 L472 254.7 L472.5 255.5 L473 256.4 L473.5 257.3 L474 258.2 L474.5 259.2 L475 260.2 L475.5 261.2 L476 262.2 L476.5 263.3 L477 264.4 L477.5 265.4 L478 266.5 L478.5 267.6 L479 268.7 L479.5 269.8 L480 271 L480.5 272.1 L481 273.2 L481.5 274.3 L482 275.4 L482.5 276.5 L483 277.6 L483.5 278.6 L484 279.7 L484.5 280.7 L485 281.8 L485.5 282.8 L486 283.8 L486.5 284.8 L487 285.7 L487.5 286.7 L488 287.6 L488.5 288.5 L489 289.3 L489.5 290.2 L490 291 L490.5 291.8 L491 292.6 L491.5 293.3 L492 294.1 L492.5 294.8 L493 295.4 L493.5 296.1 L494 296.7 L494.5 297.3 L495 297.9 L495.5 298.4 L496 299 L496.5 299.5 L497 300 L497.5 300.4 L498 300.9 L498.5 301.3 L499 301.7 L499.5 302.1 L500 302.4 L500.5 302.8 L501 303.1 L501.5 303.4 L502 303.7 L502.5 304 L503 304.2 L503.5 304.5 L504 304.7 L504.5 304.9 L505 305.1 L505.5 305.3 L506 305.5 L506.5 305.7 L507 305.8 L507.5 306 L508 306.1 L508.5 306.3 L509 306.4 L509.5 306.5 L510 306.6 L510.5 306.7 L511 306.8 L511.5 306.9 L512 307 L512.5 307 L513 307.1 L513.5 307.2 L514 307.2 L514.5 307.3 L515 307.4 L515.5 307.4 L516 307.5 L516.5 307.5 L517 307.6 L517.5 307.6 L518 307.6 L518.5 307.7 L519 307.7 L519.5 307.7 L520 307.8 L520.5 307.8 L521 307.8 L521.5 307.8 L522 307.9 L522.5 307.9 L523 307.9 L523.5 307.9 L524 307.9 L524.5 308 L525 308 L525.5 308 L526 308 L526.5 308 L527 308.1 L527.5 308.1 L528 308.1 L528.5 308.1 L529 308.1 L529.5 308.1 L530 308.1 L530.5 308.2 L531 308.2 L531.5 308.2 L532 308.2 L532.5 308.2 L533 308.2 L533.5 308.2 L534 308.2 L534.5 308.3 L535 308.3 L535.5 308.3 L536 308.3 L536.5 308.3 L537 308.3 L537.5 308.3 L538 308.3 L538.5 308.3 L539 308.4 L539.5 308.4 L540 308.4 L540.5 308.4 L541 308.4 L541.5 308.4 L542 308.4 L542.5 308.4" fill="none" stroke="#b0b0b0" stroke-width="0.7" stroke-linejoin="round" />
<g fill="#fff" fill-opacity="0.5" stroke="#a0a0a0" stroke-width="0.55">
<circle cx="314.1" cy="305.3" r="1.25"/>
<circle cx="317.1" cy="305" r="1.25"/>
<circle cx="320.1" cy="305.4" r="1.25"/>
<circle cx="323.1" cy="304.7" r="1.25"/>
<circle cx="326.1" cy="305" r="1.25"/>
<circle cx="329.1" cy="304.5" r="1.25"/>
<circle cx="332.1" cy="304.3" r="1.25"/>
<circle cx="335.1" cy="304" r="1.25"/>
<circle cx="338" cy="303.5" r="1.25"/>
<circle cx="341" cy="303.5" r="1.25"/>
<circle cx="344" cy="303.1" r="1.25"/>
<circle cx="346.9" cy="302.4" r="1.25"/>
<circle cx="349.9" cy="301.7" r="1.25"/>
<circle cx="352.8" cy="300.7" r="1.25"/>
<circle cx="355.7" cy="300.4" r="1.25"/>
<circle cx="358.6" cy="299.3" r="1.25"/>
<circle cx="361.5" cy="298.8" r="1.25"/>
<circle cx="364.4" cy="297.6" r="1.25"/>
<circle cx="367.3" cy="297" r="1.25"/>
<circle cx="370.2" cy="296.2" r="1.25"/>
<circle cx="373" cy="294.8" r="1.25"/>
<circle cx="375.8" cy="294" r="1.25"/>
<circle cx="378.6" cy="292.7" r="1.25"/>
<circle cx="381.5" cy="291.8" r="1.25"/>
<circle cx="384.3" cy="291" r="1.25"/>
<circle cx="387.2" cy="290.7" r="1.25"/>
<circle cx="390.1" cy="290.1" r="1.25"/>
<circle cx="393.1" cy="289.7" r="1.25"/>
<circle cx="396.1" cy="289.2" r="1.25"/>
<circle cx="399.1" cy="289.2" r="1.25"/>
<circle cx="402.1" cy="288.9" r="1.25"/>
<circle cx="405.1" cy="288.3" r="1.25"/>
<circle cx="408" cy="288.1" r="1.25"/>
<circle cx="411" cy="288.2" r="1.25"/>
<circle cx="414" cy="287.9" r="1.25"/>
<circle cx="417" cy="288.1" r="1.25"/>
<circle cx="420" cy="288.4" r="1.25"/>
<circle cx="423" cy="287.8" r="1.25"/>
<circle cx="425.9" cy="287.2" r="1.25"/>
<circle cx="428.8" cy="286.3" r="1.25"/>
<circle cx="431.6" cy="285" r="1.25"/>
<circle cx="434.4" cy="283.9" r="1.25"/>
<circle cx="437" cy="281.8" r="1.25"/>
<circle cx="439.1" cy="279.7" r="1.25"/>
<circle cx="441.2" cy="277.3" r="1.25"/>
<circle cx="443.1" cy="275.1" r="1.25"/>
<circle cx="444.9" cy="272.2" r="1.25"/>
<circle cx="446.6" cy="269.9" r="1.25"/>
<circle cx="448.1" cy="266.9" r="1.25"/>
<circle cx="449.5" cy="264.8" r="1.25"/>
<circle cx="451" cy="262.1" r="1.25"/>
<circle cx="452.6" cy="259.5" r="1.25"/>
<circle cx="454.2" cy="256.9" r="1.25"/>
<circle cx="455.9" cy="254.6" r="1.25"/>
<circle cx="457.6" cy="252.4" r="1.25"/>
<circle cx="459.7" cy="250.7" r="1.25"/>
<circle cx="462.1" cy="249.2" r="1.25"/>
<circle cx="464.8" cy="248.1" r="1.25"/>
<circle cx="467.8" cy="249.3" r="1.25"/>
<circle cx="470" cy="251.8" r="1.25"/>
<circle cx="471.8" cy="254.5" r="1.25"/>
<circle cx="473.3" cy="256.9" r="1.25"/>
<circle cx="474.8" cy="259.7" r="1.25"/>
<circle cx="476.1" cy="262.5" r="1.25"/>
<circle cx="477.4" cy="265.4" r="1.25"/>
<circle cx="478.7" cy="267.9" r="1.25"/>
<circle cx="479.9" cy="270.7" r="1.25"/>
<circle cx="481.1" cy="273.4" r="1.25"/>
<circle cx="482.4" cy="276.4" r="1.25"/>
<circle cx="483.6" cy="278.7" r="1.25"/>
<circle cx="484.9" cy="281.2" r="1.25"/>
<circle cx="486.2" cy="284.3" r="1.25"/>
<circle cx="487.6" cy="287" r="1.25"/>
<circle cx="489" cy="289.5" r="1.25"/>
<circle cx="490.5" cy="291.9" r="1.25"/>
<circle cx="492.2" cy="294.4" r="1.25"/>
<circle cx="493.9" cy="296.4" r="1.25"/>
<circle cx="495.8" cy="298.8" r="1.25"/>
<circle cx="497.9" cy="300.5" r="1.25"/>
<circle cx="500.1" cy="302.3" r="1.25"/>
<circle cx="502.6" cy="304" r="1.25"/>
<circle cx="505.3" cy="305.2" r="1.25"/>
<circle cx="508.1" cy="306.1" r="1.25"/>
<circle cx="511" cy="306.5" r="1.25"/>
<circle cx="513.9" cy="307.4" r="1.25"/>
<circle cx="516.9" cy="307.6" r="1.25"/>
<circle cx="519.9" cy="307.6" r="1.25"/>
<circle cx="522.9" cy="307.8" r="1.25"/>
<circle cx="525.9" cy="308" r="1.25"/>
<circle cx="528.9" cy="308" r="1.25"/>
<circle cx="531.9" cy="307.9" r="1.25"/>
<circle cx="534.9" cy="308.5" r="1.25"/>
<circle cx="537.9" cy="308.6" r="1.25"/>
<circle cx="540.9" cy="308.5" r="1.25"/>
</g>
<path d="M313.1 305.9 L314.1 305.9 L315.1 305.9 L316.1 306 L317.1 306 L318.1 306 L319.1 306 L320.1 306 L321.1 306 L322.1 306.1 L323.1 306.1 L324.1 306.1 L325.1 306.1 L326.1 306.1 L327.1 306.1 L328.1 306.2 L329.1 306.2 L330.1 306.2 L331.1 306.2 L332.1 306.2 L333.1 306.2 L334.1 306.3 L335.1 306.3 L336.1 306.3 L337.1 306.3 L338.1 306.3 L339.1 306.4 L340.1 306.4 L341.1 306.4 L342.2 306.4 L343.2 306.4 L344.2 306.4 L345.2 306.5 L346.2 306.5 L347.2 306.5 L348.2 306.5 L349.2 306.5 L350.2 306.5 L351.2 306.6 L352.2 306.6 L353.2 306.6 L354.2 306.6 L355.2 306.6 L356.2 306.7 L357.2 306.7 L358.2 306.7 L359.2 306.7 L360.2 306.7 L361.2 306.7 L362.2 306.8 L363.2 306.8 L364.2 306.8 L365.2 306.8 L366.2 306.8 L367.2 306.8 L368.2 306.9 L369.2 306.9 L370.2 306.9 L371.2 306.9 L372.2 306.9 L373.2 306.9 L374.2 307 L375.2 307 L376.2 307 L377.2 307 L378.2 307 L379.2 307.1 L380.2 307.1 L381.2 307.1 L382.2 307.1 L383.2 307.1 L384.2 307.1 L385.2 307.2 L386.2 307.2 L387.2 307.2 L388.2 307.2 L389.2 307.2 L390.2 307.2 L391.2 307.3 L392.2 307.3 L393.2 307.3 L394.2 307.3 L395.2 307.3 L396.2 307.3 L397.2 307.4 L398.2 307.4 L399.3 307.4 L400.3 307.4 L401.3 307.4 L402.3 307.5 L403.3 307.5 L404.3 307.5 L405.3 307.5 L406.3 307.5 L407.3 307.5 L408.3 307.6 L409.3 307.6 L410.3 307.6 L411.3 307.6 L412.3 307.6 L413.3 307.6 L414.3 307.7 L415.3 307.7 L416.3 307.7 L417.3 307.7 L418.3 307.7 L419.3 307.8 L420.3 307.8 L421.3 307.8 L422.3 307.8 L423.3 307.8 L424.3 307.8 L425.3 307.9 L426.3 307.9 L427.3 307.9 L428.3 307.9 L429.3 307.9 L430.3 307.9 L431.3 308 L432.3 308 L433.3 308 L434.3 308 L435.3 308 L436.3 308 L437.3 308.1 L438.3 308.1 L439.3 308.1 L440.3 308.1 L441.3 308.1 L442.3 308.2 L443.3 308.2 L444.3 308.2 L445.3 308.2 L446.3 308.2 L447.3 308.2 L448.3 308.3 L449.3 308.3 L450.3 308.3 L451.3 308.3 L452.3 308.3 L453.3 308.3 L454.3 308.4 L455.3 308.4 L456.3 308.4 L457.4 308.4 L458.4 308.4 L459.4 308.5 L460.4 308.5 L461.4 308.5 L462.4 308.5 L463.4 308.5 L464.4 308.5 L465.4 308.6 L466.4 308.6 L467.4 308.6 L468.4 308.6 L469.4 308.6 L470.4 308.6 L471.4 308.7 L472.4 308.7 L473.4 308.7 L474.4 308.7 L475.4 308.7 L476.4 308.7 L477.4 308.8 L478.4 308.8 L479.4 308.8 L480.4 308.8 L481.4 308.8 L482.4 308.9 L483.4 308.9 L484.4 308.9 L485.4 308.9 L486.4 308.9 L487.4 308.9 L488.4 309 L489.4 309 L490.4 309 L491.4 309 L492.4 309 L493.4 309 L494.4 309.1 L495.4 309.1 L496.4 309.1 L497.4 309.1 L498.4 309.1 L499.4 309.1 L500.4 309.2 L501.4 309.2 L502.4 309.2 L503.4 309.2 L504.4 309.2 L505.4 309.3 L506.4 309.3 L507.4 309.3 L508.4 309.3 L509.4 309.3 L510.4 309.3 L511.4 309.4 L512.4 309.4 L513.4 309.4 L514.5 309.4 L515.5 309.4 L516.5 309.4 L517.5 309.5 L518.5 309.5 L519.5 309.5 L520.5 309.5 L521.5 309.5 L522.5 309.6 L523.5 309.6 L524.5 309.6 L525.5 309.6 L526.5 309.6 L527.5 309.6 L528.5 309.7 L529.5 309.7 L530.5 309.7 L531.5 309.7 L532.5 309.7 L533.5 309.7 L534.5 309.8 L535.5 309.8 L536.5 309.8 L537.5 309.8 L538.5 309.8 L539.5 309.8 L540.5 309.9 L541.5 309.9 L542.5 309.9" fill="none" stroke="#f08a30" stroke-width="1.1" stroke-linejoin="round" />
<path d="M466 249.1 L466.5 249.4 L467 249.7 L467.5 250 L468 250.5 L468.5 250.9 L469 251.4 L469.5 252 L470 252.6 L470.5 253.3 L471 254 L471.5 254.7 L472 255.5 L472.5 256.3 L473 257.2 L473.5 258.1 L474 259 L474.5 260 L475 260.9 L475.5 261.9 L476 263 L476.5 264 L477 265.1 L477.5 266.1 L478 267.2 L478.5 268.3 L479 269.4 L479.5 270.5 L480 271.6 L480.5 272.7 L481 273.9 L481.5 275 L482 276.1 L482.5 277.2 L483 278.2 L483.5 279.3 L484 280.4 L484.5 281.4 L485 282.4 L485.5 283.5 L486 284.5 L486.5 285.4 L487 286.4 L487.5 287.3 L488 288.2 L488.5 289.1 L489 290 L489.5 290.9 L490 291.7 L490.5 292.5 L491 293.3 L491.5 294 L492 294.7 L492.5 295.4 L493 296.1 L493.5 296.8 L494 297.4 L494.5 298 L495 298.6 L495.5 299.1 L496 299.6 L496.5 300.2 L497 300.6 L497.5 301.1 L498 301.5 L498.5 302 L499 302.4 L499.5 302.7 L500 303.1 L500.5 303.5 L501 303.8 L501.5 304.1 L502 304.4 L502.5 304.7 L503 304.9 L503.5 305.2 L504 305.4 L504.5 305.6 L505 305.8 L505.5 306 L506 306.2 L506.5 306.4 L507 306.5 L507.5 306.7 L508 306.8 L508.5 306.9 L509 307.1 L509.5 307.2 L510 307.3 L510.5 307.4 L511 307.5 L511.5 307.6 L512 307.7 L512.5 307.7 L513 307.8 L513.5 307.9 L514 307.9 L514.5 308 L515 308.1 L515.5 308.1 L516 308.2 L516.5 308.2 L517 308.2 L517.5 308.3 L518 308.3 L518.5 308.4 L519 308.4 L519.5 308.4 L520 308.5 L520.5 308.5 L521 308.5 L521.5 308.5 L522 308.6 L522.5 308.6 L523 308.6 L523.5 308.6 L524 308.6 L524.5 308.7 L525 308.7 L525.5 308.7 L526 308.7 L526.5 308.7 L527 308.8 L527.5 308.8 L528 308.8 L528.5 308.8 L529 308.8 L529.5 308.8 L530 308.8 L530.5 308.9 L531 308.9 L531.5 308.9 L532 308.9 L532.5 308.9 L533 308.9 L533.5 308.9 L534 308.9 L534.5 309 L535 309 L535.5 309 L536 309 L536.5 309 L537 309 L537.5 309 L538 309 L538.5 309 L539 309.1 L539.5 309.1 L540 309.1 L540.5 309.1 L541 309.1 L541.5 309.1 L542 309.1 L542.5 309.1" fill="none" stroke="#55b22a" stroke-width="1.3" stroke-linejoin="round" />
<path d="M313.1 387.6 L314.1 387.6 L315.1 387.6 L316.1 387.6 L317.1 387.7 L318.1 387.7 L319.1 387.7 L320.1 387.7 L321.1 387.7 L322.1 387.8 L323.1 387.8 L324.1 387.8 L325.1 387.8 L326.1 387.8 L327.1 387.8 L328.1 387.8 L329.1 387.8 L330.1 387.8 L331.1 387.8 L332.1 387.8 L333.1 387.8 L334.1 387.8 L335.1 387.7 L336.1 387.7 L337.1 387.7 L338.1 387.6 L339.1 387.6 L340.1 387.5 L341.1 387.5 L342.2 387.4 L343.2 387.4 L344.2 387.3 L345.2 387.2 L346.2 387.1 L347.2 387 L348.2 386.9 L349.2 386.8 L350.2 386.6 L351.2 386.5 L352.2 386.3 L353.2 386.2 L354.2 386 L355.2 385.8 L356.2 385.7 L357.2 385.5 L358.2 385.3 L359.2 385.1 L360.2 384.8 L361.2 384.6 L362.2 384.4 L363.2 384.1 L364.2 383.9 L365.2 383.7 L366.2 383.4 L367.2 383.1 L368.2 382.9 L369.2 382.6 L370.2 382.4 L371.2 382.1 L372.2 381.8 L373.2 381.6 L374.2 381.3 L375.2 381.1 L376.2 380.8 L377.2 380.6 L378.2 380.3 L379.2 380.1 L380.2 379.9 L381.2 379.7 L382.2 379.5 L383.2 379.3 L384.2 379.2 L385.2 379 L386.2 378.9 L387.2 378.8 L388.2 378.7 L389.2 378.6 L390.2 378.5 L391.2 378.5 L392.2 378.5 L393.2 378.5 L394.2 378.5 L395.2 378.5 L396.2 378.6 L397.2 378.6 L398.2 378.7 L399.3 378.8 L400.3 378.9 L401.3 379.1 L402.3 379.2 L403.3 379.4 L404.3 379.6 L405.3 379.7 L406.3 379.9 L407.3 380.2 L408.3 380.4 L409.3 380.6 L410.3 380.8 L411.3 381.1 L412.3 381.4 L413.3 381.6 L414.3 381.9 L415.3 382.2 L416.3 382.5 L417.3 382.7 L418.3 383 L419.3 383.3 L420.3 383.6 L421.3 383.9 L422.3 384.2 L423.3 384.5 L424.3 384.8 L425.3 385.1 L426.3 385.4 L427.3 385.7 L428.3 386 L429.3 386.3 L430.3 386.5 L431.3 386.8 L432.3 387.1 L433.3 387.3 L434.3 387.6 L435.3 387.8 L436.3 388.1 L437.3 388.3 L438.3 388.5 L439.3 388.8 L440.3 389 L441.3 389.2 L442.3 389.4 L443.3 389.6 L444.3 389.7 L445.3 389.9 L446.3 390.1 L447.3 390.3 L448.3 390.4 L449.3 390.6 L450.3 390.7 L451.3 390.9 L452.3 391 L453.3 391.1 L454.3 391.2 L455.3 391.4 L456.3 391.5 L457.4 391.6 L458.4 391.7 L459.4 391.8 L460.4 391.9 L461.4 391.9 L462.4 392 L463.4 392.1 L464.4 392.2 L465.4 392.3 L466.4 392.3 L467.4 392.4 L468.4 392.5 L469.4 392.5 L470.4 392.6 L471.4 392.6 L472.4 392.7 L473.4 392.7 L474.4 392.8 L475.4 392.8 L476.4 392.9 L477.4 392.9 L478.4 393 L479.4 393 L480.4 393.1 L481.4 393.1 L482.4 393.1 L483.4 393.2 L484.4 393.2 L485.4 393.3 L485.4 393.3 L481.4 393.2 L477.4 393 L473.4 392.9 L469.4 392.8 L465.4 392.6 L461.4 392.5 L457.4 392.4 L453.3 392.2 L449.3 392.1 L445.3 392 L441.3 391.8 L437.3 391.7 L433.3 391.6 L429.3 391.4 L425.3 391.3 L421.3 391.2 L417.3 391.1 L413.3 390.9 L409.3 390.8 L405.3 390.7 L401.3 390.5 L397.2 390.4 L393.2 390.3 L389.2 390.1 L385.2 390 L381.2 389.9 L377.2 389.7 L373.2 389.6 L369.2 389.5 L365.2 389.3 L361.2 389.2 L357.2 389.1 L353.2 388.9 L349.2 388.8 L345.2 388.7 L341.1 388.5 L337.1 388.4 L333.1 388.3 L329.1 388.1 L325.1 388 L321.1 387.9 L317.1 387.7 L313.1 387.6Z" fill="url(#g15)" fill-opacity="0.9"/>
<path d="M313.1 387.6 L314.1 387.6 L315.1 387.6 L316.1 387.6 L317.1 387.7 L318.1 387.7 L319.1 387.7 L320.1 387.7 L321.1 387.7 L322.1 387.8 L323.1 387.8 L324.1 387.8 L325.1 387.8 L326.1 387.8 L327.1 387.8 L328.1 387.8 L329.1 387.8 L330.1 387.8 L331.1 387.8 L332.1 387.8 L333.1 387.8 L334.1 387.8 L335.1 387.7 L336.1 387.7 L337.1 387.7 L338.1 387.6 L339.1 387.6 L340.1 387.5 L341.1 387.5 L342.2 387.4 L343.2 387.4 L344.2 387.3 L345.2 387.2 L346.2 387.1 L347.2 387 L348.2 386.9 L349.2 386.8 L350.2 386.6 L351.2 386.5 L352.2 386.3 L353.2 386.2 L354.2 386 L355.2 385.8 L356.2 385.7 L357.2 385.5 L358.2 385.3 L359.2 385.1 L360.2 384.8 L361.2 384.6 L362.2 384.4 L363.2 384.1 L364.2 383.9 L365.2 383.7 L366.2 383.4 L367.2 383.1 L368.2 382.9 L369.2 382.6 L370.2 382.4 L371.2 382.1 L372.2 381.8 L373.2 381.6 L374.2 381.3 L375.2 381.1 L376.2 380.8 L377.2 380.6 L378.2 380.3 L379.2 380.1 L380.2 379.9 L381.2 379.7 L382.2 379.5 L383.2 379.3 L384.2 379.2 L385.2 379 L386.2 378.9 L387.2 378.8 L388.2 378.7 L389.2 378.6 L390.2 378.5 L391.2 378.5 L392.2 378.5 L393.2 378.5 L394.2 378.5 L395.2 378.5 L396.2 378.6 L397.2 378.6 L398.2 378.7 L399.3 378.8 L400.3 378.9 L401.3 379.1 L402.3 379.2 L403.3 379.4 L404.3 379.6 L405.3 379.7 L406.3 379.9 L407.3 380.2 L408.3 380.4 L409.3 380.6 L410.3 380.8 L411.3 381.1 L412.3 381.4 L413.3 381.6 L414.3 381.9 L415.3 382.2 L416.3 382.5 L417.3 382.7 L418.3 383 L419.3 383.3 L420.3 383.6 L421.3 383.9 L422.3 384.2 L423.3 384.5 L424.3 384.8 L425.3 385.1 L426.3 385.4 L427.3 385.7 L428.3 386 L429.3 386.3 L430.3 386.5 L431.3 386.8 L432.3 387.1 L433.3 387.3 L434.3 387.6 L435.3 387.8 L436.3 388.1 L437.3 388.3 L438.3 388.5 L439.3 388.8 L440.3 389 L441.3 389.2 L442.3 389.4 L443.3 389.6 L444.3 389.7 L445.3 389.9 L446.3 390.1 L447.3 390.3 L448.3 390.4 L449.3 390.6 L450.3 390.7 L451.3 390.9 L452.3 391 L453.3 391.1 L454.3 391.2 L455.3 391.4 L456.3 391.5 L457.4 391.6 L458.4 391.7 L459.4 391.8 L460.4 391.9 L461.4 391.9 L462.4 392 L463.4 392.1 L464.4 392.2 L465.4 392.3 L466.4 392.3 L467.4 392.4 L468.4 392.5 L469.4 392.5 L470.4 392.6 L471.4 392.6 L472.4 392.7 L473.4 392.7 L474.4 392.8 L475.4 392.8 L476.4 392.9 L477.4 392.9 L478.4 393 L479.4 393 L480.4 393.1 L481.4 393.1 L482.4 393.1 L483.4 393.2 L484.4 393.2 L485.4 393.3" fill="none" stroke="#f39a48" stroke-width="0.9" stroke-linejoin="round"/>
<path d="M313.1 387.6 L314.1 387.6 L315.1 387.6 L316.1 387.6 L317.1 387.7 L318.1 387.7 L319.1 387.7 L320.1 387.8 L321.1 387.8 L322.1 387.8 L323.1 387.9 L324.1 387.9 L325.1 387.9 L326.1 388 L327.1 388 L328.1 388 L329.1 388.1 L330.1 388.1 L331.1 388.1 L332.1 388.2 L333.1 388.2 L334.1 388.2 L335.1 388.3 L336.1 388.3 L337.1 388.3 L338.1 388.4 L339.1 388.4 L340.1 388.4 L341.1 388.5 L342.2 388.5 L343.2 388.5 L344.2 388.6 L345.2 388.6 L346.2 388.6 L347.2 388.7 L348.2 388.7 L349.2 388.7 L350.2 388.7 L351.2 388.8 L352.2 388.8 L353.2 388.8 L354.2 388.9 L355.2 388.9 L356.2 388.9 L357.2 389 L358.2 389 L359.2 389 L360.2 389.1 L361.2 389.1 L362.2 389.1 L363.2 389.2 L364.2 389.2 L365.2 389.2 L366.2 389.3 L367.2 389.3 L368.2 389.3 L369.2 389.3 L370.2 389.4 L371.2 389.4 L372.2 389.4 L373.2 389.5 L374.2 389.5 L375.2 389.5 L376.2 389.6 L377.2 389.6 L378.2 389.6 L379.2 389.7 L380.2 389.7 L381.2 389.7 L382.2 389.7 L383.2 389.8 L384.2 389.8 L385.2 389.8 L386.2 389.9 L387.2 389.9 L388.2 389.9 L389.2 390 L390.2 390 L391.2 390 L392.2 390 L393.2 390.1 L394.2 390.1 L395.2 390.1 L396.2 390.2 L397.2 390.2 L398.2 390.2 L399.3 390.2 L400.3 390.3 L401.3 390.3 L402.3 390.3 L403.3 390.3 L404.3 390.4 L405.3 390.4 L406.3 390.4 L407.3 390.4 L408.3 390.5 L409.3 390.5 L410.3 390.5 L411.3 390.5 L412.3 390.5 L413.3 390.5 L414.3 390.5 L415.3 390.5 L416.3 390.5 L417.3 390.5 L418.3 390.5 L419.3 390.5 L420.3 390.4 L421.3 390.4 L422.3 390.3 L423.3 390.2 L424.3 390.1 L425.3 390 L426.3 389.9 L427.3 389.7 L428.3 389.6 L429.3 389.3 L430.3 389.1 L431.3 388.8 L432.3 388.5 L433.3 388.1 L434.3 387.7 L435.3 387.2 L436.3 386.6 L437.3 386 L438.3 385.4 L439.3 384.6 L440.3 383.8 L441.3 382.9 L442.3 382 L443.3 380.9 L444.3 379.8 L445.3 378.5 L446.3 377.2 L447.3 375.8 L448.3 374.3 L449.3 372.7 L450.3 371.1 L451.3 369.3 L452.3 367.5 L453.3 365.6 L454.3 363.6 L455.3 361.6 L456.3 359.6 L457.4 357.5 L458.4 355.4 L459.4 353.3 L460.4 351.2 L461.4 349.1 L462.4 347.1 L463.4 345.1 L464.4 343.2 L465.4 341.3 L466.4 339.6 L467.4 338 L468.4 336.5 L469.4 335.2 L470.4 334 L471.4 333 L472.4 332.2 L473.4 331.6 L474.4 331.2 L475.4 331 L476.4 331 L477.4 331.3 L478.4 331.8 L479.4 332.6 L480.4 333.6 L481.4 334.8 L482.4 336.2 L483.4 337.8 L484.4 339.6 L485.4 341.6 L486.4 343.7 L487.4 345.9 L488.4 348.1 L489.4 350.5 L490.4 352.9 L491.4 355.3 L492.4 357.7 L493.4 360.1 L494.4 362.4 L495.4 364.7 L496.4 367 L497.4 369.1 L498.4 371.2 L499.4 373.2 L500.4 375.1 L501.4 376.9 L502.4 378.5 L503.4 380.1 L504.4 381.6 L505.4 382.9 L506.4 384.1 L507.4 385.3 L508.4 386.3 L509.4 387.3 L510.4 388.1 L511.4 388.9 L512.4 389.6 L513.4 390.2 L514.5 390.7 L515.5 391.2 L516.5 391.7 L517.5 392 L518.5 392.4 L519.5 392.7 L520.5 392.9 L521.5 393.2 L522.5 393.4 L523.5 393.5 L524.5 393.7 L525.5 393.8 L526.5 394 L527.5 394.1 L528.5 394.2 L529.5 394.3 L530.5 394.3 L531.5 394.4 L532.5 394.5 L533.5 394.5 L534.5 394.6 L535.5 394.6 L536.5 394.7 L537.5 394.7 L538.5 394.8 L539.5 394.8 L540.5 394.9 L541.5 394.9 L542.5 395 L542.5 395.2 L538.5 395.1 L534.5 394.9 L530.4 394.8 L526.4 394.7 L522.4 394.5 L518.4 394.4 L514.3 394.3 L510.3 394.1 L506.3 394 L502.3 393.9 L498.2 393.7 L494.2 393.6 L490.2 393.5 L486.2 393.3 L482.1 393.2 L478.1 393.1 L474.1 392.9 L470.1 392.8 L466 392.7 L462 392.5 L458 392.4 L454 392.3 L449.9 392.1 L445.9 392 L441.9 391.9 L437.9 391.7 L433.8 391.6 L429.8 391.5 L425.8 391.3 L421.8 391.2 L417.7 391.1 L413.7 390.9 L409.7 390.8 L405.7 390.7 L401.6 390.5 L397.6 390.4 L393.6 390.3 L389.6 390.1 L385.5 390 L381.5 389.9 L377.5 389.7 L373.5 389.6 L369.4 389.5 L365.4 389.3 L361.4 389.2 L357.4 389.1 L353.3 388.9 L349.3 388.8 L345.3 388.7 L341.3 388.5 L337.2 388.4 L333.2 388.3 L329.2 388.1 L325.2 388 L321.1 387.9 L317.1 387.7 L313.1 387.6Z" fill="url(#g16)" fill-opacity="0.9"/>
<path d="M410 390.2 L410.5 390.2 L411 390.2 L411.5 390.2 L412 390.2 L412.5 390.2 L413 390.2 L413.5 390.2 L414 390.2 L414.5 390.2 L415 390.2 L415.5 390.2 L416 390.2 L416.5 390.2 L417 390.2 L417.5 390.2 L418 390.2 L418.5 390.2 L419 390.2 L419.5 390.2 L420 390.1 L420.5 390.1 L421 390.1 L421.5 390.1 L422 390 L422.5 390 L423 390 L423.5 389.9 L424 389.9 L424.5 389.8 L425 389.8 L425.5 389.7 L426 389.6 L426.5 389.6 L427 389.5 L427.5 389.4 L428 389.3 L428.5 389.2 L429 389.1 L429.5 389 L430 388.9 L430.5 388.7 L431 388.6 L431.5 388.4 L432 388.3 L432.5 388.1 L433 387.9 L433.5 387.7 L434 387.5 L434.5 387.3 L435 387 L435.5 386.8 L436 386.5 L436.5 386.2 L437 385.9 L437.5 385.6 L438 385.3 L438.5 384.9 L439 384.6 L439.5 384.2 L440 383.8 L440.5 383.4 L441 382.9 L441.5 382.5 L442 382 L442.5 381.5 L443 381 L443.5 380.4 L444 379.9 L444.5 379.3 L445 378.7 L445.5 378 L446 377.4 L446.5 376.7 L447 376 L447.5 375.3 L448 374.5 L448.5 373.8 L449 373 L449.5 372.2 L450 371.3 L450.5 370.5 L451 369.6 L451.5 368.7 L452 367.8 L452.5 366.9 L453 365.9 L453.5 365 L454 364 L454.5 363 L455 362 L455.5 361 L456 360 L456.5 359 L457 357.9 L457.5 356.9 L458 355.8 L458.5 354.8 L459 353.7 L459.5 352.7 L460 351.6 L460.5 350.6 L461 349.5 L461.5 348.5 L462 347.5 L462.5 346.5 L463 345.5 L463.5 344.5 L464 343.5 L464.5 342.6 L465 341.7 L465.5 340.8 L466 339.9 L466.5 339.1 L467 338.3 L467.5 337.5 L468 336.7 L468.5 336 L469 335.4 L469.5 334.7 L470 334.1 L470.5 333.6 L471 333.1 L471.5 332.6 L472 332.2 L472.5 331.8 L473 331.5 L473.5 331.3 L474 331 L474.5 330.9 L475 330.8 L475.5 330.7 L476 330.7 L476.5 330.7 L477 330.9 L477.5 331 L478 331.3 L478.5 331.6 L479 331.9 L479.5 332.4 L480 332.8 L480.5 333.4 L481 334 L481.5 334.6 L482 335.3 L482.5 336.1 L483 336.9 L483.5 337.7 L484 338.6 L484.5 339.5 L485 340.5 L485.5 341.5 L486 342.5 L486.5 343.6 L487 344.7 L487.5 345.8 L488 346.9 L488.5 348.1 L489 349.2 L489.5 350.4 L490 351.6 L490.5 352.8 L491 354 L491.5 355.2 L492 356.4 L492.5 357.6 L493 358.8 L493.5 360 L494 361.1 L494.5 362.3 L495 363.5 L495.5 364.6 L496 365.7 L496.5 366.8 L497 367.9 L497.5 369 L498 370 L498.5 371.1 L499 372.1 L499.5 373 L500 374 L500.5 374.9 L501 375.8 L501.5 376.7 L502 377.5 L502.5 378.4 L503 379.1 L503.5 379.9 L504 380.6 L504.5 381.4 L505 382 L505.5 382.7 L506 383.3 L506.5 383.9 L507 384.5 L507.5 385.1 L508 385.6 L508.5 386.1 L509 386.6 L509.5 387 L510 387.4 L510.5 387.9 L511 388.3 L511.5 388.6 L512 389 L512.5 389.3 L513 389.6 L513.5 389.9 L514 390.2 L514.5 390.5 L515 390.7 L515.5 390.9 L516 391.2 L516.5 391.4 L517 391.6 L517.5 391.8 L518 391.9 L518.5 392.1 L519 392.2 L519.5 392.4 L520 392.5 L520.5 392.6 L521 392.8 L521.5 392.9 L522 393 L522.5 393.1 L523 393.2 L523.5 393.3 L524 393.3 L524.5 393.4 L525 393.5 L525.5 393.5 L526 393.6 L526.5 393.7 L527 393.7 L527.5 393.8 L528 393.8 L528.5 393.9 L529 393.9 L529.5 394 L530 394 L530.5 394 L531 394.1 L531.5 394.1 L532 394.1 L532.5 394.2 L533 394.2 L533.5 394.2 L534 394.3 L534.5 394.3 L535 394.3 L535.5 394.3 L536 394.4 L536.5 394.4 L537 394.4 L537.5 394.4 L538 394.5 L538.5 394.5 L539 394.5 L539.5 394.5 L540 394.6 L540.5 394.6 L541 394.6 L541.5 394.6 L542 394.6 L542.5 394.7" fill="none" stroke="#55b22a" stroke-width="1.3" stroke-linejoin="round" />
<path d="M360.2 389.1 L361.2 389.1 L362.2 389.2 L363.2 389.2 L364.2 389.2 L365.2 389.2 L366.2 389.2 L367.2 389.3 L368.2 389.3 L369.2 389.3 L370.2 389.3 L371.2 389.3 L372.2 389.3 L373.2 389.3 L374.2 389.2 L375.2 389.2 L376.2 389.2 L377.2 389.2 L378.2 389.1 L379.2 389.1 L380.2 389 L381.2 388.9 L382.2 388.8 L383.2 388.7 L384.2 388.6 L385.2 388.5 L386.2 388.4 L387.2 388.2 L388.2 388 L389.2 387.9 L390.2 387.7 L391.2 387.5 L392.2 387.2 L393.2 387 L394.2 386.7 L395.2 386.5 L396.2 386.2 L397.2 385.9 L398.2 385.5 L399.3 385.2 L400.3 384.9 L401.3 384.5 L402.3 384.2 L403.3 383.8 L404.3 383.4 L405.3 383 L406.3 382.6 L407.3 382.3 L408.3 381.9 L409.3 381.5 L410.3 381.2 L411.3 380.8 L412.3 380.5 L413.3 380.1 L414.3 379.8 L415.3 379.6 L416.3 379.3 L417.3 379.1 L418.3 378.9 L419.3 378.7 L420.3 378.5 L421.3 378.4 L422.3 378.3 L423.3 378.3 L424.3 378.3 L425.3 378.3 L426.3 378.4 L427.3 378.4 L428.3 378.5 L429.3 378.7 L430.3 378.8 L431.3 379 L432.3 379.1 L433.3 379.4 L434.3 379.6 L435.3 379.8 L436.3 380.1 L437.3 380.3 L438.3 380.6 L439.3 380.9 L440.3 381.3 L441.3 381.6 L442.3 381.9 L443.3 382.3 L444.3 382.6 L445.3 383 L446.3 383.3 L447.3 383.7 L448.3 384 L449.3 384.4 L450.3 384.8 L451.3 385.1 L452.3 385.5 L453.3 385.9 L454.3 386.2 L455.3 386.6 L456.3 386.9 L457.4 387.2 L458.4 387.6 L459.4 387.9 L460.4 388.2 L461.4 388.5 L462.4 388.8 L463.4 389 L464.4 389.3 L465.4 389.6 L466.4 389.8 L467.4 390.1 L468.4 390.3 L469.4 390.5 L470.4 390.7 L471.4 390.9 L472.4 391.1 L473.4 391.3 L474.4 391.4 L475.4 391.6 L476.4 391.8 L477.4 391.9 L478.4 392 L479.4 392.2 L480.4 392.3 L481.4 392.4 L482.4 392.5 L483.4 392.6 L484.4 392.7 L485.4 392.8 L486.4 392.9 L487.4 393 L488.4 393 L489.4 393.1 L490.4 393.2 L491.4 393.2 L492.4 393.3 L493.4 393.4 L494.4 393.4 L495.4 393.5 L496.4 393.5 L497.4 393.6 L498.4 393.6 L499.4 393.7 L500.4 393.7 L501.4 393.8 L502.4 393.8 L503.4 393.8 L504.4 393.9 L505.4 393.9 L505.4 394 L501.4 393.8 L497.4 393.7 L493.3 393.6 L489.3 393.4 L485.3 393.3 L481.2 393.2 L477.2 393 L473.2 392.9 L469.1 392.8 L465.1 392.6 L461.1 392.5 L457 392.4 L453 392.2 L448.9 392.1 L444.9 392 L440.9 391.8 L436.8 391.7 L432.8 391.6 L428.8 391.4 L424.7 391.3 L420.7 391.2 L416.7 391 L412.6 390.9 L408.6 390.8 L404.6 390.6 L400.5 390.5 L396.5 390.4 L392.5 390.2 L388.4 390.1 L384.4 390 L380.4 389.8 L376.3 389.7 L372.3 389.6 L368.3 389.4 L364.2 389.3 L360.2 389.2Z" fill="url(#g17)" fill-opacity="0.8"/>
<path d="M400 385 L400.5 384.8 L401 384.6 L401.5 384.4 L402 384.2 L402.5 384.1 L403 383.9 L403.5 383.7 L404 383.5 L404.5 383.3 L405 383.1 L405.5 382.9 L406 382.7 L406.5 382.6 L407 382.4 L407.5 382.2 L408 382 L408.5 381.8 L409 381.6 L409.5 381.4 L410 381.3 L410.5 381.1 L411 380.9 L411.5 380.7 L412 380.6 L412.5 380.4 L413 380.2 L413.5 380.1 L414 379.9 L414.5 379.8 L415 379.6 L415.5 379.5 L416 379.4 L416.5 379.3 L417 379.1 L417.5 379 L418 378.9 L418.5 378.8 L419 378.7 L419.5 378.7 L420 378.6 L420.5 378.5 L421 378.5 L421.5 378.4 L422 378.4 L422.5 378.3 L423 378.3 L423.5 378.3 L424 378.3 L424.5 378.3 L425 378.3 L425.5 378.3 L426 378.4 L426.5 378.4 L427 378.4 L427.5 378.5 L428 378.5 L428.5 378.6 L429 378.6 L429.5 378.7 L430 378.8 L430.5 378.8 L431 378.9 L431.5 379 L432 379.1 L432.5 379.2 L433 379.3 L433.5 379.4 L434 379.5 L434.5 379.6 L435 379.7 L435.5 379.9 L436 380 L436.5 380.1 L437 380.3 L437.5 380.4 L438 380.5 L438.5 380.7 L439 380.8 L439.5 381 L440 381.1 L440.5 381.3 L441 381.5 L441.5 381.6 L442 381.8 L442.5 382 L443 382.1 L443.5 382.3 L444 382.5 L444.5 382.7 L445 382.8 L445.5 383 L446 383.2 L446.5 383.4 L447 383.6 L447.5 383.7 L448 383.9 L448.5 384.1 L449 384.3 L449.5 384.5 L450 384.7 L450.5 384.8 L451 385 L451.5 385.2 L452 385.4 L452.5 385.6 L453 385.7 L453.5 385.9 L454 386.1 L454.5 386.3 L455 386.4 L455.5 386.6 L456 386.8 L456.5 386.9 L457 387.1 L457.5 387.3 L458 387.4 L458.5 387.6 L459 387.8 L459.5 387.9 L460 388.1 L460.5 388.2 L461 388.4 L461.5 388.5 L462 388.7 L462.5 388.8 L463 388.9 L463.5 389.1 L464 389.2 L464.5 389.3 L465 389.5 L465.5 389.6 L466 389.7 L466.5 389.8 L467 390 L467.5 390.1 L468 390.2 L468.5 390.3 L469 390.4 L469.5 390.5 L470 390.6 L470.5 390.7 L471 390.8 L471.5 390.9 L472 391 L472.5 391.1 L473 391.2 L473.5 391.3 L474 391.4 L474.5 391.5 L475 391.5 L475.5 391.6 L476 391.7 L476.5 391.8 L477 391.8 L477.5 391.9 L478 392 L478.5 392 L479 392.1 L479.5 392.2 L480 392.2 L480.5 392.3 L481 392.4 L481.5 392.4 L482 392.5 L482.5 392.5 L483 392.6 L483.5 392.6 L484 392.7 L484.5 392.7 L485 392.8 L485.5 392.8 L486 392.8 L486.5 392.9 L487 392.9 L487.5 393 L488 393 L488.5 393 L489 393.1 L489.5 393.1 L490 393.2 L490.5 393.2 L491 393.2 L491.5 393.2 L492 393.3 L492.5 393.3 L493 393.3 L493.5 393.4 L494 393.4 L494.5 393.4 L495 393.5 L495.5 393.5 L496 393.5 L496.5 393.5 L497 393.6 L497.5 393.6 L498 393.6 L498.5 393.6 L499 393.7 L499.5 393.7 L500 393.7 L500.5 393.7 L501 393.7 L501.5 393.8 L502 393.8 L502.5 393.8 L503 393.8 L503.5 393.9 L504 393.9 L504.5 393.9 L505 393.9 L505.5 393.9 L506 394 L506.5 394 L507 394 L507.5 394 L508 394 L508.5 394 L509 394.1 L509.5 394.1 L510 394.1 L510.5 394.1 L511 394.1 L511.5 394.2 L512 394.2 L512.5 394.2 L513 394.2 L513.5 394.2 L514 394.2 L514.5 394.3 L515 394.3 L515.5 394.3 L516 394.3 L516.5 394.3 L517 394.3 L517.5 394.4 L518 394.4 L518.5 394.4 L519 394.4 L519.5 394.4 L520 394.5 L520.5 394.5 L521 394.5 L521.5 394.5 L522 394.5 L522.5 394.5 L523 394.6 L523.5 394.6 L524 394.6 L524.5 394.6 L525 394.6 L525.5 394.6 L526 394.7 L526.5 394.7 L527 394.7 L527.5 394.7 L528 394.7 L528.5 394.7 L529 394.8 L529.5 394.8 L530 394.8 L530.5 394.8 L531 394.8 L531.5 394.8 L532 394.9 L532.5 394.9 L533 394.9 L533.5 394.9 L534 394.9 L534.5 394.9 L535 395 L535.5 395 L536 395 L536.5 395 L537 395 L537.5 395 L538 395.1 L538.5 395.1 L539 395.1 L539.5 395.1 L540 395.1 L540.5 395.1 L541 395.2 L541.5 395.2 L542 395.2 L542.5 395.2" fill="none" stroke="#1582c4" stroke-width="1.0" stroke-linejoin="round" />
<path d="M313.1 386.2 L313.6 386.2 L314.1 386.2 L314.6 386.1 L315.1 386.1 L315.6 386.1 L316.1 386.1 L316.6 386.1 L317.1 386 L317.6 386 L318.1 386 L318.6 386 L319.1 385.9 L319.6 385.9 L320.1 385.9 L320.6 385.9 L321.1 385.9 L321.6 385.8 L322.1 385.8 L322.6 385.8 L323.1 385.8 L323.6 385.7 L324.1 385.7 L324.6 385.7 L325.1 385.7 L325.6 385.6 L326.1 385.6 L326.6 385.6 L327.1 385.6 L327.6 385.5 L328.1 385.5 L328.6 385.5 L329.1 385.5 L329.6 385.4 L330.1 385.4 L330.6 385.4 L331.1 385.3 L331.6 385.3 L332.1 385.3 L332.6 385.2 L333.1 385.2 L333.6 385.2 L334.1 385.1 L334.6 385.1 L335.1 385.1 L335.6 385 L336.1 385 L336.6 384.9 L337.1 384.9 L337.6 384.9 L338.1 384.8 L338.6 384.8 L339.1 384.7 L339.6 384.7 L340.1 384.7 L340.6 384.6 L341.1 384.6 L341.6 384.5 L342.1 384.5 L342.6 384.4 L343.1 384.4 L343.6 384.3 L344.1 384.3 L344.6 384.2 L345.1 384.2 L345.6 384.1 L346.1 384.1 L346.6 384 L347.1 384 L347.6 383.9 L348.1 383.9 L348.6 383.8 L349.1 383.7 L349.6 383.7 L350.1 383.6 L350.6 383.5 L351.1 383.5 L351.6 383.4 L352.1 383.3 L352.6 383.2 L353.1 383.2 L353.6 383.1 L354.1 383 L354.6 383 L355.1 382.9 L355.6 382.8 L356.1 382.7 L356.6 382.6 L357.1 382.6 L357.6 382.5 L358.1 382.4 L358.6 382.3 L359.1 382.2 L359.6 382.2 L360.1 382.1 L360.6 382 L361.1 381.9 L361.6 381.8 L362.1 381.8 L362.6 381.7 L363.1 381.6 L363.6 381.5 L364.1 381.4 L364.6 381.3 L365.1 381.3 L365.6 381.2 L366.1 381.1 L366.6 381 L367.1 380.9 L367.6 380.8 L368.1 380.7 L368.6 380.6 L369.1 380.5 L369.6 380.4 L370.1 380.3 L370.6 380.2 L371.1 380.1 L371.6 380 L372.1 379.9 L372.6 379.8 L373.1 379.7 L373.6 379.6 L374.1 379.5 L374.6 379.4 L375.1 379.3 L375.6 379.2 L376.1 379 L376.6 378.9 L377.1 378.8 L377.6 378.6 L378.1 378.5 L378.6 378.3 L379.1 378.2 L379.6 378 L380.1 377.8 L380.6 377.7 L381.1 377.5 L381.6 377.4 L382.1 377.2 L382.6 377.1 L383.1 376.9 L383.6 376.8 L384.1 376.6 L384.6 376.5 L385.1 376.4 L385.6 376.3 L386.1 376.2 L386.6 376.1 L387.1 375.9 L387.6 375.8 L388.1 375.7 L388.6 375.7 L389.1 375.6 L389.6 375.5 L390.1 375.4 L390.6 375.3 L391.1 375.2 L391.6 375.1 L392.1 375 L392.6 374.9 L393.1 374.8 L393.6 374.7 L394.1 374.6 L394.6 374.5 L395.1 374.4 L395.6 374.3 L396.1 374.1 L396.6 374 L397.1 373.9 L397.6 373.7 L398.1 373.6 L398.6 373.4 L399.1 373.3 L399.6 373.1 L400.1 373 L400.6 372.9 L401.1 372.8 L401.6 372.7 L402.1 372.6 L402.6 372.5 L403.1 372.5 L403.6 372.4 L404.1 372.3 L404.6 372.3 L405.1 372.2 L405.6 372.1 L406.1 372.1 L406.6 372 L407.1 372 L407.6 372 L408.1 371.9 L408.6 371.9 L409.1 371.9 L409.6 371.8 L410.1 371.8 L410.6 371.8 L411.1 371.8 L411.6 371.7 L412.1 371.7 L412.6 371.7 L413.1 371.7 L413.6 371.6 L414.1 371.6 L414.6 371.6 L415.1 371.6 L415.6 371.6 L416.1 371.6 L416.6 371.5 L417.1 371.5 L417.6 371.5 L418.1 371.5 L418.6 371.5 L419.1 371.5 L419.6 371.5 L420.1 371.5 L420.6 371.5 L421.1 371.5 L421.6 371.5 L422.1 371.5 L422.6 371.5 L423.1 371.5 L423.6 371.6 L424.1 371.6 L424.6 371.6 L425.1 371.6 L425.6 371.6 L426.1 371.6 L426.6 371.6 L427.1 371.7 L427.6 371.7 L428 371.7 L428.5 371.7 L429 371.7 L429.5 371.7 L430 371.7 L430.5 371.7 L431 371.7 L431.5 371.7 L432 371.7 L432.5 371.6 L433 371.6 L433.5 371.6 L434 371.6 L434.5 371.5 L435 371.5 L435.5 371.5 L436 371.4 L436.5 371.4 L437 371.3 L437.5 371.3 L438 371.2 L438.5 371.1 L439 370.9 L439.5 370.6 L440 370.3 L440.5 369.9 L441 369.5 L441.5 369 L442 368.5 L442.5 368 L443 367.6 L443.5 367.1 L444 366.7 L444.5 366.2 L445 365.8 L445.5 365.4 L446 364.9 L446.5 364.4 L447 364 L447.5 363.5 L448 363 L448.5 362.5 L449 362 L449.5 361.5 L450 360.9 L450.5 360.4 L451 359.8 L451.5 359.2 L452 358.6 L452.5 358 L453 357.4 L453.5 356.7 L454 356 L454.5 355.3 L455 354.6 L455.5 353.9 L456 353.1 L456.5 352.4 L457 351.6 L457.5 350.8 L458 350 L458.5 349.3 L459 348.5 L459.5 347.6 L460 346.7 L460.5 345.8 L461 344.9 L461.5 344 L462 343.1 L462.5 342.1 L463 341.3 L463.5 340.4 L464 339.6 L464.5 338.9 L465 338.2 L465.5 337.5 L466 336.8 L466.5 336.1 L467 335.5 L467.5 334.8 L468 334.3 L468.5 333.7 L469 333.2 L469.5 332.8 L470 332.5 L470.5 332.2 L471 331.9 L471.5 331.7 L472 331.5 L472.5 331.3 L473 331.1 L473.5 330.9 L474 330.6 L474.5 330.3 L475 330 L475.5 329.7 L476 329.4 L476.5 329.2 L477 329 L477.5 329 L478 329.1 L478.5 329.3 L479 329.6 L479.5 330.1 L480 330.7 L480.5 331.3 L481 332 L481.5 332.7 L482 333.4 L482.5 334.2 L483 335.1 L483.5 335.9 L484 336.9 L484.5 337.8 L485 338.8 L485.5 339.8 L486 340.9 L486.5 342 L487 343.1 L487.5 344.2 L488 345.4 L488.5 346.5 L489 347.7 L489.5 348.9 L490 350.1 L490.5 351.3 L491 352.6 L491.5 353.8 L492 355 L492.5 356.2 L493 357.4 L493.5 358.6 L494 359.8 L494.5 361 L495 362.1 L495.5 363.3 L496 364.4 L496.5 365.5 L497 366.6 L497.5 367.7 L498 368.8 L498.5 369.8 L499 370.8 L499.5 371.8 L500 372.7 L500.5 373.7 L501 374.6 L501.5 375.4 L502 376.3 L502.5 377.1 L503 377.9 L503.5 378.7 L504 379.4 L504.5 380.1 L505 380.8 L505.5 381.5 L506 382.1 L506.5 382.7 L507 383.3 L507.5 383.8 L508 384.4 L508.5 384.9 L509 385.3 L509.5 385.8 L510 386.2 L510.5 386.7 L511 387 L511.5 387.4 L512 387.8 L512.5 388.1 L513 388.4 L513.5 388.7 L514 389 L514.5 389.3 L515 389.5 L515.5 389.7 L516 390 L516.5 390.2 L517 390.4 L517.5 390.6 L518 390.7 L518.5 390.9 L519 391 L519.5 391.2 L520 391.3 L520.5 391.4 L521 391.6 L521.5 391.7 L522 391.8 L522.5 391.9 L523 392 L523.5 392.1 L524 392.1 L524.5 392.2 L525 392.3 L525.5 392.3 L526 392.4 L526.5 392.5 L527 392.5 L527.5 392.6 L528 392.6 L528.5 392.7 L529 392.7 L529.5 392.8 L530 392.8 L530.5 392.8 L531 392.9 L531.5 392.9 L532 392.9 L532.5 393 L533 393 L533.5 393 L534 393.1 L534.5 393.1 L535 393.1 L535.5 393.1 L536 393.2 L536.5 393.2 L537 393.2 L537.5 393.2 L538 393.3 L538.5 393.3 L539 393.3 L539.5 393.3 L540 393.4 L540.5 393.4 L541 393.4 L541.5 393.4 L542 393.4 L542.5 393.5" fill="none" stroke="#b0b0b0" stroke-width="0.7" stroke-linejoin="round" />
<g fill="#fff" fill-opacity="0.5" stroke="#a0a0a0" stroke-width="0.55">
<circle cx="314.1" cy="386.4" r="1.25"/>
<circle cx="317.1" cy="386" r="1.25"/>
<circle cx="320.1" cy="386.1" r="1.25"/>
<circle cx="323.1" cy="385.6" r="1.25"/>
<circle cx="326.1" cy="385.8" r="1.25"/>
<circle cx="329.1" cy="385.5" r="1.25"/>
<circle cx="332.1" cy="385.5" r="1.25"/>
<circle cx="335.1" cy="384.8" r="1.25"/>
<circle cx="338.1" cy="385" r="1.25"/>
<circle cx="341.1" cy="384.4" r="1.25"/>
<circle cx="344" cy="384.3" r="1.25"/>
<circle cx="347" cy="384.2" r="1.25"/>
<circle cx="350" cy="383.3" r="1.25"/>
<circle cx="353" cy="383" r="1.25"/>
<circle cx="355.9" cy="382.6" r="1.25"/>
<circle cx="358.9" cy="382.2" r="1.25"/>
<circle cx="361.9" cy="381.5" r="1.25"/>
<circle cx="364.8" cy="381.5" r="1.25"/>
<circle cx="367.8" cy="381" r="1.25"/>
<circle cx="370.7" cy="380.2" r="1.25"/>
<circle cx="373.7" cy="379.5" r="1.25"/>
<circle cx="376.6" cy="378.9" r="1.25"/>
<circle cx="379.5" cy="377.7" r="1.25"/>
<circle cx="382.4" cy="376.8" r="1.25"/>
<circle cx="385.2" cy="376.6" r="1.25"/>
<circle cx="388.2" cy="375.6" r="1.25"/>
<circle cx="391.1" cy="375.2" r="1.25"/>
<circle cx="394.1" cy="374.9" r="1.25"/>
<circle cx="397" cy="374.2" r="1.25"/>
<circle cx="399.9" cy="373" r="1.25"/>
<circle cx="402.8" cy="372.3" r="1.25"/>
<circle cx="405.7" cy="372" r="1.25"/>
<circle cx="408.7" cy="372.1" r="1.25"/>
<circle cx="411.7" cy="372" r="1.25"/>
<circle cx="414.7" cy="371.4" r="1.25"/>
<circle cx="417.7" cy="371.7" r="1.25"/>
<circle cx="420.7" cy="371.4" r="1.25"/>
<circle cx="423.7" cy="371.5" r="1.25"/>
<circle cx="426.7" cy="371.5" r="1.25"/>
<circle cx="429.7" cy="371.9" r="1.25"/>
<circle cx="432.7" cy="371.9" r="1.25"/>
<circle cx="435.7" cy="371.3" r="1.25"/>
<circle cx="438.7" cy="371.1" r="1.25"/>
<circle cx="441.5" cy="368.9" r="1.25"/>
<circle cx="443.7" cy="367.2" r="1.25"/>
<circle cx="445.9" cy="364.8" r="1.25"/>
<circle cx="448.1" cy="362.7" r="1.25"/>
<circle cx="450.3" cy="360.8" r="1.25"/>
<circle cx="452.3" cy="358.2" r="1.25"/>
<circle cx="454.1" cy="356.1" r="1.25"/>
<circle cx="455.9" cy="353.6" r="1.25"/>
<circle cx="457.5" cy="351" r="1.25"/>
<circle cx="459.1" cy="348.1" r="1.25"/>
<circle cx="460.7" cy="345.7" r="1.25"/>
<circle cx="462.1" cy="343.2" r="1.25"/>
<circle cx="463.6" cy="340.4" r="1.25"/>
<circle cx="465.1" cy="337.8" r="1.25"/>
<circle cx="466.9" cy="335.5" r="1.25"/>
<circle cx="468.7" cy="333.4" r="1.25"/>
<circle cx="470.9" cy="332.1" r="1.25"/>
<circle cx="473.6" cy="330.7" r="1.25"/>
<circle cx="476.3" cy="329.1" r="1.25"/>
<circle cx="479" cy="329.5" r="1.25"/>
<circle cx="481.2" cy="332.4" r="1.25"/>
<circle cx="483" cy="335.2" r="1.25"/>
<circle cx="484.5" cy="337.7" r="1.25"/>
<circle cx="485.8" cy="340.6" r="1.25"/>
<circle cx="487.1" cy="343.5" r="1.25"/>
<circle cx="488.3" cy="346.1" r="1.25"/>
<circle cx="489.5" cy="348.7" r="1.25"/>
<circle cx="490.6" cy="351.5" r="1.25"/>
<circle cx="491.8" cy="354.7" r="1.25"/>
<circle cx="492.9" cy="357.3" r="1.25"/>
<circle cx="494.1" cy="359.8" r="1.25"/>
<circle cx="495.3" cy="362.8" r="1.25"/>
<circle cx="496.4" cy="365.1" r="1.25"/>
<circle cx="497.7" cy="368.4" r="1.25"/>
<circle cx="499" cy="370.7" r="1.25"/>
<circle cx="500.3" cy="373.3" r="1.25"/>
<circle cx="501.8" cy="375.9" r="1.25"/>
<circle cx="503.3" cy="378.1" r="1.25"/>
<circle cx="505" cy="380.8" r="1.25"/>
<circle cx="506.8" cy="382.9" r="1.25"/>
<circle cx="508.7" cy="384.9" r="1.25"/>
<circle cx="510.9" cy="387.1" r="1.25"/>
<circle cx="513.3" cy="388.3" r="1.25"/>
<circle cx="515.9" cy="389.8" r="1.25"/>
<circle cx="518.6" cy="391.1" r="1.25"/>
<circle cx="521.5" cy="391.5" r="1.25"/>
<circle cx="524.4" cy="392.1" r="1.25"/>
<circle cx="527.4" cy="392.6" r="1.25"/>
<circle cx="530.4" cy="392.6" r="1.25"/>
<circle cx="533.4" cy="393.3" r="1.25"/>
<circle cx="536.4" cy="393.5" r="1.25"/>
<circle cx="539.4" cy="393.1" r="1.25"/>
</g>
<path d="M313.1 387.9 L314.1 387.9 L315.1 388 L316.1 388 L317.1 388 L318.1 388.1 L319.1 388.1 L320.1 388.1 L321.1 388.2 L322.1 388.2 L323.1 388.2 L324.1 388.3 L325.1 388.3 L326.1 388.3 L327.1 388.4 L328.1 388.4 L329.1 388.4 L330.1 388.5 L331.1 388.5 L332.1 388.5 L333.1 388.6 L334.1 388.6 L335.1 388.6 L336.1 388.7 L337.1 388.7 L338.1 388.7 L339.1 388.8 L340.1 388.8 L341.1 388.8 L342.2 388.9 L343.2 388.9 L344.2 388.9 L345.2 389 L346.2 389 L347.2 389 L348.2 389.1 L349.2 389.1 L350.2 389.1 L351.2 389.2 L352.2 389.2 L353.2 389.2 L354.2 389.3 L355.2 389.3 L356.2 389.3 L357.2 389.4 L358.2 389.4 L359.2 389.4 L360.2 389.5 L361.2 389.5 L362.2 389.5 L363.2 389.6 L364.2 389.6 L365.2 389.6 L366.2 389.7 L367.2 389.7 L368.2 389.7 L369.2 389.8 L370.2 389.8 L371.2 389.8 L372.2 389.9 L373.2 389.9 L374.2 389.9 L375.2 390 L376.2 390 L377.2 390 L378.2 390.1 L379.2 390.1 L380.2 390.1 L381.2 390.2 L382.2 390.2 L383.2 390.2 L384.2 390.3 L385.2 390.3 L386.2 390.3 L387.2 390.4 L388.2 390.4 L389.2 390.4 L390.2 390.5 L391.2 390.5 L392.2 390.5 L393.2 390.6 L394.2 390.6 L395.2 390.6 L396.2 390.7 L397.2 390.7 L398.2 390.7 L399.3 390.8 L400.3 390.8 L401.3 390.8 L402.3 390.9 L403.3 390.9 L404.3 390.9 L405.3 391 L406.3 391 L407.3 391 L408.3 391.1 L409.3 391.1 L410.3 391.1 L411.3 391.2 L412.3 391.2 L413.3 391.2 L414.3 391.3 L415.3 391.3 L416.3 391.3 L417.3 391.4 L418.3 391.4 L419.3 391.4 L420.3 391.5 L421.3 391.5 L422.3 391.5 L423.3 391.6 L424.3 391.6 L425.3 391.6 L426.3 391.7 L427.3 391.7 L428.3 391.7 L429.3 391.7 L430.3 391.8 L431.3 391.8 L432.3 391.8 L433.3 391.9 L434.3 391.9 L435.3 391.9 L436.3 392 L437.3 392 L438.3 392 L439.3 392.1 L440.3 392.1 L441.3 392.1 L442.3 392.2 L443.3 392.2 L444.3 392.2 L445.3 392.3 L446.3 392.3 L447.3 392.3 L448.3 392.4 L449.3 392.4 L450.3 392.4 L451.3 392.5 L452.3 392.5 L453.3 392.5 L454.3 392.6 L455.3 392.6 L456.3 392.6 L457.4 392.7 L458.4 392.7 L459.4 392.7 L460.4 392.8 L461.4 392.8 L462.4 392.8 L463.4 392.9 L464.4 392.9 L465.4 392.9 L466.4 393 L467.4 393 L468.4 393 L469.4 393.1 L470.4 393.1 L471.4 393.1 L472.4 393.2 L473.4 393.2 L474.4 393.2 L475.4 393.3 L476.4 393.3 L477.4 393.3 L478.4 393.4 L479.4 393.4 L480.4 393.4 L481.4 393.5 L482.4 393.5 L483.4 393.5 L484.4 393.6 L485.4 393.6 L486.4 393.6 L487.4 393.7 L488.4 393.7 L489.4 393.7 L490.4 393.8 L491.4 393.8 L492.4 393.8 L493.4 393.9 L494.4 393.9 L495.4 393.9 L496.4 394 L497.4 394 L498.4 394 L499.4 394.1 L500.4 394.1 L501.4 394.1 L502.4 394.2 L503.4 394.2 L504.4 394.2 L505.4 394.3 L506.4 394.3 L507.4 394.3 L508.4 394.4 L509.4 394.4 L510.4 394.4 L511.4 394.5 L512.4 394.5 L513.4 394.5 L514.5 394.6 L515.5 394.6 L516.5 394.6 L517.5 394.7 L518.5 394.7 L519.5 394.7 L520.5 394.8 L521.5 394.8 L522.5 394.8 L523.5 394.9 L524.5 394.9 L525.5 394.9 L526.5 395 L527.5 395 L528.5 395 L529.5 395.1 L530.5 395.1 L531.5 395.1 L532.5 395.2 L533.5 395.2 L534.5 395.2 L535.5 395.3 L536.5 395.3 L537.5 395.3 L538.5 395.4 L539.5 395.4 L540.5 395.4 L541.5 395.5 L542.5 395.5" fill="none" stroke="#f08a30" stroke-width="1.1" stroke-linejoin="round" />
<path d="M478 331.3 L478.5 331.6 L479 331.9 L479.5 332.4 L480 332.8 L480.5 333.4 L481 334 L481.5 334.6 L482 335.3 L482.5 336.1 L483 336.9 L483.5 337.7 L484 338.6 L484.5 339.5 L485 340.5 L485.5 341.5 L486 342.5 L486.5 343.6 L487 344.7 L487.5 345.8 L488 346.9 L488.5 348.1 L489 349.2 L489.5 350.4 L490 351.6 L490.5 352.8 L491 354 L491.5 355.2 L492 356.4 L492.5 357.6 L493 358.8 L493.5 360 L494 361.1 L494.5 362.3 L495 363.5 L495.5 364.6 L496 365.7 L496.5 366.8 L497 367.9 L497.5 369 L498 370 L498.5 371.1 L499 372.1 L499.5 373 L500 374 L500.5 374.9 L501 375.8 L501.5 376.7 L502 377.5 L502.5 378.4 L503 379.1 L503.5 379.9 L504 380.6 L504.5 381.4 L505 382 L505.5 382.7 L506 383.3 L506.5 383.9 L507 384.5 L507.5 385.1 L508 385.6 L508.5 386.1 L509 386.6 L509.5 387 L510 387.4 L510.5 387.9 L511 388.3 L511.5 388.6 L512 389 L512.5 389.3 L513 389.6 L513.5 389.9 L514 390.2 L514.5 390.5 L515 390.7 L515.5 390.9 L516 391.2 L516.5 391.4 L517 391.6 L517.5 391.8 L518 391.9 L518.5 392.1 L519 392.2 L519.5 392.4 L520 392.5 L520.5 392.6 L521 392.8 L521.5 392.9 L522 393 L522.5 393.1 L523 393.2 L523.5 393.3 L524 393.3 L524.5 393.4 L525 393.5 L525.5 393.5 L526 393.6 L526.5 393.7 L527 393.7 L527.5 393.8 L528 393.8 L528.5 393.9 L529 393.9 L529.5 394 L530 394 L530.5 394 L531 394.1 L531.5 394.1 L532 394.1 L532.5 394.2 L533 394.2 L533.5 394.2 L534 394.3 L534.5 394.3 L535 394.3 L535.5 394.3 L536 394.4 L536.5 394.4 L537 394.4 L537.5 394.4 L538 394.5 L538.5 394.5 L539 394.5 L539.5 394.5 L540 394.6 L540.5 394.6 L541 394.6 L541.5 394.6 L542 394.6 L542.5 394.7" fill="none" stroke="#55b22a" stroke-width="1.3" stroke-linejoin="round" />
<line x1="329.5" y1="413.4" x2="329.5" y2="411.2" stroke="#333" stroke-width="0.9"/>
<line x1="395" y1="413.4" x2="395" y2="411.2" stroke="#333" stroke-width="0.9"/>
<line x1="460.6" y1="413.4" x2="460.6" y2="411.2" stroke="#333" stroke-width="0.9"/>
<line x1="526.1" y1="413.4" x2="526.1" y2="411.2" stroke="#333" stroke-width="0.9"/>
<line x1="362.3" y1="413.4" x2="362.3" y2="412" stroke="#333" stroke-width="0.9"/>
<line x1="427.8" y1="413.4" x2="427.8" y2="412" stroke="#333" stroke-width="0.9"/>
<line x1="493.3" y1="413.4" x2="493.3" y2="412" stroke="#333" stroke-width="0.9"/>
<rect x="313.1" y="231.4" width="229.4" height="182" fill="none" stroke="#2b2b2b" stroke-width="1.15"/>
<text x="329.5" y="421.8" font-size="7.5" textLength="9.2" lengthAdjust="spacingAndGlyphs" text-anchor="middle" >534</text>
<text x="395" y="421.8" font-size="7.5" textLength="9.2" lengthAdjust="spacingAndGlyphs" text-anchor="middle" >532</text>
<text x="460.6" y="421.8" font-size="7.5" textLength="9.2" lengthAdjust="spacingAndGlyphs" text-anchor="middle" >530</text>
<text x="526.1" y="421.8" font-size="7.5" textLength="9.2" lengthAdjust="spacingAndGlyphs" text-anchor="middle" >528</text>
<text x="5.5" y="36.3" font-size="17" >a</text>
<text x="285.8" y="29.6" font-size="17" >b</text>
<text x="5.2" y="245" font-size="17" >c</text>
<text x="284.8" y="245.2" font-size="17" >d</text>
<text x="233.5" y="31.6" font-size="10.5" textLength="19.7" lengthAdjust="spacingAndGlyphs" >Bi 4f</text>
<text x="80.8" y="44.4" font-size="7.5" >Bi 4f<tspan font-size="5.8" dy="2">5/2</tspan></text>
<text x="91.4" y="64.8" font-size="7.5" textLength="27" lengthAdjust="spacingAndGlyphs" >164.41 eV</text>
<text x="156.9" y="30.3" font-size="7.5" >Bi 4f<tspan font-size="5.8" dy="2">7/2</tspan></text>
<text x="214" y="50.8" font-size="7.5" textLength="26.4" lengthAdjust="spacingAndGlyphs" >159.11 eV</text>
<text x="38.4" y="103.4" font-size="7.6" >Ni<tspan fill="#808080" stroke="none" font-weight="normal" font-size="0.9em">@</tspan>NiO/BiVO<tspan font-size="5.2" dy="1.6">4</tspan></text>
<text x="90" y="136.2" font-size="7.5" textLength="24.7" lengthAdjust="spacingAndGlyphs" >164.04eV</text>
<text x="209.8" y="124.8" font-size="7.5" textLength="26.2" lengthAdjust="spacingAndGlyphs" >158.74 eV</text>
<text x="38.5" y="192.8" font-size="7.6" >BiVO<tspan font-size="5.2" dy="1.6">4</tspan></text>
<text x="114" y="220.4" font-size="10.2" textLength="66.8" lengthAdjust="spacingAndGlyphs" >Binding Energy</text>
<text x="0" y="0" font-size="13" text-anchor="middle" textLength="51.3" lengthAdjust="spacingAndGlyphs" transform="translate(27.3 96.5) rotate(-90)">Intensity</text>
<text x="516.7" y="32.2" font-size="10.5" textLength="23.7" lengthAdjust="spacingAndGlyphs" >Ni 2p</text>
<text x="319.8" y="29.3" font-size="8.1" >Ni<tspan fill="#808080" stroke="none" font-weight="normal" font-size="0.9em">@</tspan>NiO/BiVO<tspan font-size="5.2" dy="1.6">4</tspan></text>
<text x="333.6" y="64" font-size="8" textLength="13.1" lengthAdjust="spacingAndGlyphs" >Sat.</text>
<text x="365" y="59.4" font-size="7.5" textLength="27.9" lengthAdjust="spacingAndGlyphs" >873.82 eV</text>
<text x="401.2" y="75.9" font-size="7.5" textLength="28.4" lengthAdjust="spacingAndGlyphs" >870.28 eV</text>
<text x="448.5" y="61.1" font-size="8" textLength="12.9" lengthAdjust="spacingAndGlyphs" >Sat.</text>
<text x="462.2" y="48.4" font-size="7.5" textLength="29.2" lengthAdjust="spacingAndGlyphs" >856.21 eV</text>
<text x="487.3" y="34.3" font-size="7.5" >Ni<tspan font-size="5" dy="-3">2+</tspan></text>
<text x="512.6" y="73.8" font-size="7.5" >Ni<tspan font-size="5" dy="-3">0</tspan></text>
<text x="511.3" y="83.8" font-size="7.5" textLength="28.3" lengthAdjust="spacingAndGlyphs" >852.98 eV</text>
<text x="317.8" y="166.3" font-size="7.8" >BiVO<tspan font-size="5.2" dy="1.6">4</tspan></text>
<text x="394.6" y="220.6" font-size="10.2" textLength="68" lengthAdjust="spacingAndGlyphs" >Binding Energy</text>
<text x="0" y="0" font-size="13" text-anchor="middle" textLength="49.7" lengthAdjust="spacingAndGlyphs" transform="translate(305.8 93) rotate(-90)">Intensity</text>
<text x="40.8" y="246.8" font-size="7.8" >Ni<tspan fill="#808080" stroke="none" font-weight="normal" font-size="0.9em">@</tspan>NiO/BiVO<tspan font-size="5.2" dy="1.6">4</tspan></text>
<text x="234" y="247.2" font-size="10.5" textLength="18.8" lengthAdjust="spacingAndGlyphs" >V 2p</text>
<text x="182.4" y="258.6" font-size="7.5" >V 2p<tspan font-size="5.8" dy="2">3/2</tspan></text>
<text x="217.7" y="276.3" font-size="7.5" textLength="26.8" lengthAdjust="spacingAndGlyphs" >516.77 eV</text>
<text x="55.6" y="284" font-size="7.5" >V 2p<tspan font-size="5.8" dy="2">1/2</tspan></text>
<text x="76.7" y="299.7" font-size="7.5" textLength="28.2" lengthAdjust="spacingAndGlyphs" >524.18 eV</text>
<text x="39.1" y="375.8" font-size="7.3" >BiVO<tspan font-size="5.2" dy="1.6">4</tspan></text>
<text x="114" y="436.4" font-size="10.2" textLength="66.2" lengthAdjust="spacingAndGlyphs" >Binding Energy</text>
<text x="0" y="0" font-size="13" text-anchor="middle" textLength="51.5" lengthAdjust="spacingAndGlyphs" transform="translate(26.4 323.4) rotate(-90)">Intensity</text>
<text x="318.5" y="245.6" font-size="7.9" >Ni<tspan fill="#808080" stroke="none" font-weight="normal" font-size="0.9em">@</tspan>NiO/BiVO<tspan font-size="5.2" dy="1.6">4</tspan></text>
<text x="516.7" y="247.7" font-size="10.5" textLength="18.8" lengthAdjust="spacingAndGlyphs" >O 1s</text>
<text x="473.1" y="249.6" font-size="7.5" textLength="28.3" lengthAdjust="spacingAndGlyphs" >O-Metal</text>
<text x="360.9" y="284.9" font-size="7.5" textLength="14.5" lengthAdjust="spacingAndGlyphs" >O-H</text>
<text x="409.5" y="285.6" font-size="7.5" >O<tspan font-size="5.8" dy="2">V</tspan></text>
<text x="316.1" y="380.4" font-size="7.3" >BiVO<tspan font-size="5.2" dy="1.6">4</tspan></text>
<text x="393.4" y="436.9" font-size="10.2" textLength="68.9" lengthAdjust="spacingAndGlyphs" >Binding Energy</text>
<text x="0" y="0" font-size="13" text-anchor="middle" textLength="52" lengthAdjust="spacingAndGlyphs" transform="translate(305.8 308.4) rotate(-90)">Intensity</text>
</svg>
</body></html>
